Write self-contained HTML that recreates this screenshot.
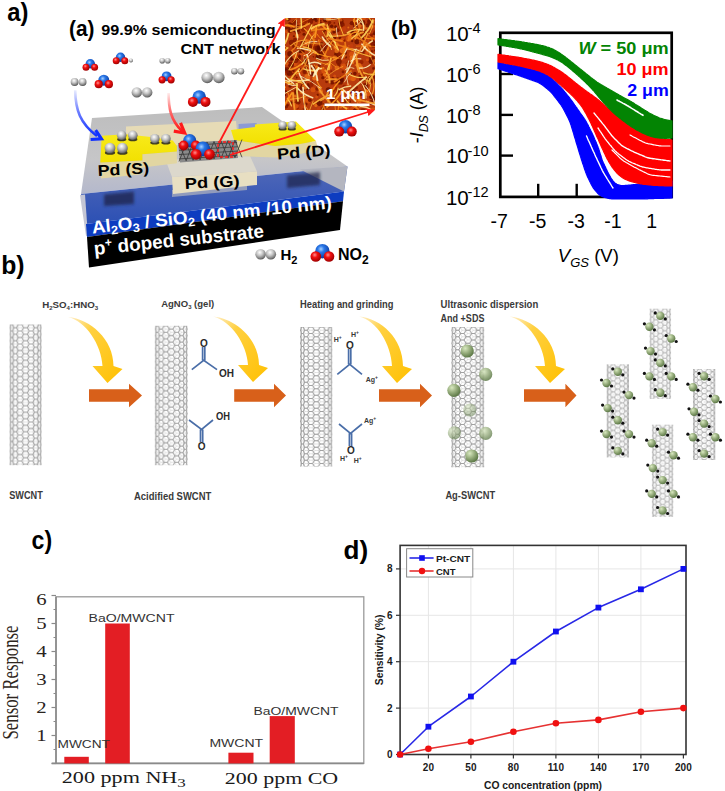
<!DOCTYPE html>
<html><head><meta charset="utf-8"><style>
html,body{margin:0;padding:0;background:#fff;}
body{width:725px;height:791px;overflow:hidden;position:relative;font-family:"Liberation Sans",sans-serif;}
svg{position:absolute;left:0;top:0;}
</style></head><body>
<svg width="725" height="791" viewBox="0 0 725 791">

<defs>
<radialGradient id="gH" cx="0.42" cy="0.32" r="0.68"><stop offset="0" stop-color="#ffffff"/><stop offset="0.45" stop-color="#c4c4c4"/><stop offset="0.85" stop-color="#7a7a7a"/><stop offset="1" stop-color="#505050"/></radialGradient>
<radialGradient id="gN" cx="0.4" cy="0.35" r="0.65"><stop offset="0" stop-color="#a8d0ff"/><stop offset="0.35" stop-color="#2a78e8"/><stop offset="1" stop-color="#0a3aa0"/></radialGradient>
<radialGradient id="gO" cx="0.4" cy="0.35" r="0.65"><stop offset="0" stop-color="#ff9090"/><stop offset="0.4" stop-color="#f01010"/><stop offset="1" stop-color="#a00000"/></radialGradient>
<radialGradient id="gAg" cx="0.35" cy="0.3" r="0.7"><stop offset="0" stop-color="#d8e8c0"/><stop offset="0.5" stop-color="#9ab080"/><stop offset="1" stop-color="#5e7a48"/></radialGradient>
<linearGradient id="gTop" x1="0" y1="0" x2="0" y2="1"><stop offset="0" stop-color="#bdbdbd"/><stop offset="0.6" stop-color="#c6c6c8"/><stop offset="1" stop-color="#b4b8cc"/></linearGradient>
<linearGradient id="gFront" x1="0" y1="0" x2="0" y2="1"><stop offset="0" stop-color="#5068b8"/><stop offset="1" stop-color="#2c50b4"/></linearGradient>
<linearGradient id="gYel" x1="0" y1="0" x2="0" y2="1"><stop offset="0" stop-color="#f8ea1a"/><stop offset="1" stop-color="#f2e000"/></linearGradient>
<linearGradient id="gBlueArr" x1="0" y1="0" x2="0" y2="1"><stop offset="0" stop-color="#e8ecff"/><stop offset="0.45" stop-color="#7080ff"/><stop offset="1" stop-color="#1030ff"/></linearGradient>
<linearGradient id="gRedArr" x1="0" y1="0" x2="0" y2="1"><stop offset="0" stop-color="#ffecec"/><stop offset="0.45" stop-color="#ff7070"/><stop offset="1" stop-color="#ff1a1a"/></linearGradient>
<linearGradient id="gYArr" x1="0" y1="0" x2="1" y2="1"><stop offset="0" stop-color="#fff0d0"/><stop offset="0.3" stop-color="#ffd040"/><stop offset="1" stop-color="#ffc000"/></linearGradient>
<pattern id="hex" width="10.200" height="5.889" patternUnits="userSpaceOnUse">
<path d="M0,2.944 L1.700,0 L5.100,0 L6.800,2.944 L5.100,5.889 L1.700,5.889 Z M6.800,2.944 L10.200,2.944" fill="none" stroke="#7a7a7a" stroke-width="0.55"/>
</pattern>
<pattern id="hexs" width="6.900" height="3.984" patternUnits="userSpaceOnUse">
<path d="M0,1.992 L1.150,0 L3.450,0 L4.600,1.992 L3.450,3.984 L1.150,3.984 Z M4.600,1.992 L6.900,1.992" fill="none" stroke="#7a7a7a" stroke-width="0.45"/>
</pattern>
<linearGradient id="gTubeEdge" x1="0" y1="0" x2="1" y2="0"><stop offset="0" stop-color="#888" stop-opacity="0.45"/><stop offset="0.18" stop-color="#999" stop-opacity="0.12"/><stop offset="0.5" stop-color="#fff" stop-opacity="0"/><stop offset="0.82" stop-color="#999" stop-opacity="0.12"/><stop offset="1" stop-color="#888" stop-opacity="0.45"/></linearGradient>
<marker id="arrR" markerWidth="8" markerHeight="8" refX="6" refY="4" orient="auto" markerUnits="userSpaceOnUse"><path d="M0,0 L8,4 L0,8 Z" fill="#ff1a1a"/></marker>
</defs>

<defs><pattern id="tp0" width="35.300" height="13.000" patternUnits="userSpaceOnUse"><path d="M0.03,0.00L0.71,0.00M0.03,13.00L0.71,13.00M0.03,19.50L0.71,19.50M0.03,6.50L0.71,6.50M0.71,-6.50L0.03,-6.50M0.71,-6.50L1.36,-3.25M0.71,0.00L0.03,0.00M0.71,0.00L1.36,-3.25M0.71,0.00L1.36,3.25M0.71,13.00L0.03,13.00M0.71,13.00L1.36,16.25M0.71,13.00L1.36,9.75M0.71,19.50L1.36,16.25M0.71,6.50L0.03,6.50M0.71,6.50L1.36,3.25M0.71,6.50L1.36,9.75M1.36,-3.25L0.71,-6.50M1.36,-3.25L0.71,0.00M1.36,-3.25L3.25,-3.25M1.36,-9.75L0.71,-6.50M1.36,16.25L0.71,13.00M1.36,16.25L3.25,16.25M1.36,3.25L0.71,0.00M1.36,3.25L0.71,6.50M1.36,3.25L3.25,3.25M1.36,9.75L0.71,13.00M1.36,9.75L0.71,6.50M1.36,9.75L3.25,9.75M12.50,-3.25L14.35,-6.50M12.50,-3.25L14.35,0.00M12.50,-3.25L8.98,-3.25M12.50,-9.75L8.98,-9.75M12.50,16.25L14.35,13.00M12.50,16.25L14.35,19.50M12.50,3.25L14.35,0.00M12.50,3.25L14.35,6.50M12.50,3.25L8.98,3.25M12.50,9.75L14.35,13.00M12.50,9.75L14.35,6.50M12.50,9.75L8.98,9.75M14.35,-6.50L12.50,-3.25M14.35,-6.50L12.50,-9.75M14.35,0.00L12.50,-3.25M14.35,0.00L12.50,3.25M14.35,0.00L18.10,0.00M14.35,13.00L12.50,16.25M14.35,13.00L12.50,9.75M14.35,13.00L18.10,13.00M14.35,19.50L18.10,19.50M14.35,6.50L12.50,3.25M14.35,6.50L12.50,9.75M14.35,6.50L18.10,6.50M18.10,-6.50L14.35,-6.50M18.10,-6.50L19.94,-3.25M18.10,0.00L14.35,0.00M18.10,0.00L19.94,-3.25M18.10,0.00L19.94,3.25M18.10,13.00L14.35,13.00M18.10,13.00L19.94,16.25M18.10,13.00L19.94,9.75M18.10,19.50L19.94,16.25M18.10,6.50L14.35,6.50M18.10,6.50L19.94,3.25M18.10,6.50L19.94,9.75M19.94,-3.25L18.10,-6.50M19.94,-3.25L18.10,0.00M19.94,-3.25L23.45,-3.25M19.94,-9.75L18.10,-6.50M19.94,16.25L18.10,13.00M19.94,16.25L23.45,16.25M19.94,3.25L18.10,0.00M19.94,3.25L18.10,6.50M19.94,3.25L23.45,3.25M19.94,9.75L18.10,13.00M19.94,9.75L18.10,6.50M19.94,9.75L23.45,9.75M23.45,-3.25L19.94,-3.25M23.45,-3.25L25.08,-6.50M23.45,-3.25L25.08,0.00M23.45,-9.75L19.94,-9.75M23.45,16.25L25.08,13.00M23.45,16.25L25.08,19.50M23.45,3.25L19.94,3.25M23.45,3.25L25.08,0.00M23.45,3.25L25.08,6.50M23.45,9.75L19.94,9.75M23.45,9.75L25.08,13.00M23.45,9.75L25.08,6.50M25.08,-6.50L23.45,-3.25M25.08,-6.50L23.45,-9.75M25.08,0.00L23.45,-3.25M25.08,0.00L23.45,3.25M25.08,0.00L27.93,0.00M25.08,13.00L23.45,16.25M25.08,13.00L23.45,9.75M25.08,13.00L27.93,13.00M25.08,19.50L27.93,19.50M25.08,6.50L23.45,3.25M25.08,6.50L23.45,9.75M25.08,6.50L27.93,6.50M27.93,-6.50L25.08,-6.50M27.93,-6.50L29.14,-3.25M27.93,0.00L25.08,0.00M27.93,0.00L29.14,-3.25M27.93,0.00L29.14,3.25M27.93,13.00L25.08,13.00M27.93,13.00L29.14,16.25M27.93,13.00L29.14,9.75M27.93,19.50L29.14,16.25M27.93,6.50L25.08,6.50M27.93,6.50L29.14,3.25M27.93,6.50L29.14,9.75M29.14,-3.25L27.93,-6.50M29.14,-3.25L27.93,0.00M29.14,-3.25L31.00,-3.25M29.14,-9.75L27.93,-6.50M29.14,16.25L27.93,13.00M29.14,16.25L31.00,16.25M29.14,3.25L27.93,0.00M29.14,3.25L27.93,6.50M29.14,3.25L31.00,3.25M29.14,9.75L27.93,13.00M29.14,9.75L27.93,6.50M29.14,9.75L31.00,9.75M3.25,-3.25L1.36,-3.25M3.25,-3.25L4.47,-6.50M3.25,-3.25L4.47,0.00M3.25,-9.75L1.36,-9.75M3.25,16.25L4.47,13.00M3.25,16.25L4.47,19.50M3.25,3.25L1.36,3.25M3.25,3.25L4.47,0.00M3.25,3.25L4.47,6.50M3.25,9.75L1.36,9.75M3.25,9.75L4.47,13.00M3.25,9.75L4.47,6.50M31.00,-3.25L29.14,-3.25M31.00,-3.25L31.63,-6.50M31.00,-3.25L31.63,0.00M31.00,-9.75L29.14,-9.75M31.00,16.25L31.63,13.00M31.00,16.25L31.63,19.50M31.00,3.25L29.14,3.25M31.00,3.25L31.63,0.00M31.00,3.25L31.63,6.50M31.00,9.75L29.14,9.75M31.00,9.75L31.63,13.00M31.00,9.75L31.63,6.50M31.63,-6.50L31.00,-3.25M31.63,-6.50L31.00,-9.75M31.63,0.00L31.00,-3.25M31.63,0.00L31.00,3.25M31.63,0.00L32.27,0.00M31.63,13.00L31.00,16.25M31.63,13.00L31.00,9.75M31.63,13.00L32.27,13.00M31.63,19.50L32.27,19.50M31.63,6.50L31.00,3.25M31.63,6.50L31.00,9.75M31.63,6.50L32.27,6.50M32.27,-6.50L31.63,-6.50M32.27,0.00L31.63,0.00M32.27,13.00L31.63,13.00M32.27,6.50L31.63,6.50M4.47,-6.50L3.25,-3.25M4.47,-6.50L3.25,-9.75M4.47,0.00L3.25,-3.25M4.47,0.00L3.25,3.25M4.47,0.00L7.35,0.00M4.47,13.00L3.25,16.25M4.47,13.00L3.25,9.75M4.47,13.00L7.35,13.00M4.47,19.50L7.35,19.50M4.47,6.50L3.25,3.25M4.47,6.50L3.25,9.75M4.47,6.50L7.35,6.50M7.35,-6.50L4.47,-6.50M7.35,-6.50L8.98,-3.25M7.35,0.00L4.47,0.00M7.35,0.00L8.98,-3.25M7.35,0.00L8.98,3.25M7.35,13.00L4.47,13.00M7.35,13.00L8.98,16.25M7.35,13.00L8.98,9.75M7.35,19.50L8.98,16.25M7.35,6.50L4.47,6.50M7.35,6.50L8.98,3.25M7.35,6.50L8.98,9.75M8.98,-3.25L12.50,-3.25M8.98,-3.25L7.35,-6.50M8.98,-3.25L7.35,0.00M8.98,-9.75L7.35,-6.50M8.98,16.25L12.50,16.25M8.98,16.25L7.35,13.00M8.98,3.25L12.50,3.25M8.98,3.25L7.35,0.00M8.98,3.25L7.35,6.50M8.98,9.75L12.50,9.75M8.98,9.75L7.35,13.00M8.98,9.75L7.35,6.50" stroke="#959595" stroke-width="0.65" fill="none" opacity="0.2"/><path d="M0.03,-3.25L0.69,-3.25M0.03,-9.75L0.69,-9.75M0.03,3.25L0.69,3.25M0.03,9.75L0.69,9.75M0.69,-3.25L0.03,-3.25M0.69,-3.25L1.33,-6.50M0.69,-3.25L1.33,0.00M0.69,-9.75L1.33,-6.50M0.69,16.25L0.03,16.25M0.69,16.25L1.33,13.00M0.69,3.25L0.03,3.25M0.69,3.25L1.33,0.00M0.69,3.25L1.33,6.50M0.69,9.75L0.03,9.75M0.69,9.75L1.33,13.00M0.69,9.75L1.33,6.50M1.33,-6.50L0.69,-3.25M1.33,-6.50L3.21,-6.50M1.33,0.00L0.69,-3.25M1.33,0.00L0.69,3.25M1.33,0.00L3.21,0.00M1.33,13.00L0.69,16.25M1.33,13.00L0.69,9.75M1.33,13.00L3.21,13.00M1.33,19.50L0.69,16.25M1.33,6.50L0.69,3.25M1.33,6.50L0.69,9.75M1.33,6.50L3.21,6.50M12.43,-6.50L14.28,-3.25M12.43,-6.50L14.28,-9.75M12.43,0.00L14.28,-3.25M12.43,0.00L14.28,3.25M12.43,0.00L8.91,0.00M12.43,13.00L14.28,16.25M12.43,13.00L14.28,9.75M12.43,13.00L8.91,13.00M12.43,19.50L8.91,19.50M12.43,6.50L14.28,3.25M12.43,6.50L14.28,9.75M12.43,6.50L8.91,6.50M14.28,-3.25L12.43,-6.50M14.28,-3.25L12.43,0.00M14.28,-3.25L18.02,-3.25M14.28,-9.75L18.02,-9.75M14.28,16.25L12.43,13.00M14.28,16.25L12.43,19.50M14.28,3.25L12.43,0.00M14.28,3.25L12.43,6.50M14.28,3.25L18.02,3.25M14.28,9.75L12.43,13.00M14.28,9.75L12.43,6.50M14.28,9.75L18.02,9.75M18.02,-3.25L14.28,-3.25M18.02,-3.25L19.87,-6.50M18.02,-3.25L19.87,0.00M18.02,-9.75L19.87,-6.50M18.02,16.25L14.28,16.25M18.02,16.25L19.87,13.00M18.02,3.25L14.28,3.25M18.02,3.25L19.87,0.00M18.02,3.25L19.87,6.50M18.02,9.75L14.28,9.75M18.02,9.75L19.87,13.00M18.02,9.75L19.87,6.50M19.87,-6.50L18.02,-3.25M19.87,-6.50L23.39,-6.50M19.87,0.00L18.02,-3.25M19.87,0.00L18.02,3.25M19.87,0.00L23.39,0.00M19.87,13.00L18.02,16.25M19.87,13.00L18.02,9.75M19.87,13.00L23.39,13.00M19.87,19.50L18.02,16.25M19.87,6.50L18.02,3.25M19.87,6.50L18.02,9.75M19.87,6.50L23.39,6.50M23.39,-6.50L25.01,-3.25M23.39,-6.50L25.01,-9.75M23.39,0.00L19.87,0.00M23.39,0.00L25.01,-3.25M23.39,0.00L25.01,3.25M23.39,13.00L19.87,13.00M23.39,13.00L25.01,16.25M23.39,13.00L25.01,9.75M23.39,19.50L19.87,19.50M23.39,6.50L19.87,6.50M23.39,6.50L25.01,3.25M23.39,6.50L25.01,9.75M25.01,-3.25L23.39,-6.50M25.01,-3.25L23.39,0.00M25.01,-3.25L27.88,-3.25M25.01,-9.75L27.88,-9.75M25.01,16.25L23.39,13.00M25.01,16.25L23.39,19.50M25.01,3.25L23.39,0.00M25.01,3.25L23.39,6.50M25.01,3.25L27.88,3.25M25.01,9.75L23.39,13.00M25.01,9.75L23.39,6.50M25.01,9.75L27.88,9.75M27.88,-3.25L25.01,-3.25M27.88,-3.25L29.09,-6.50M27.88,-3.25L29.09,0.00M27.88,-9.75L29.09,-6.50M27.88,16.25L25.01,16.25M27.88,16.25L29.09,13.00M27.88,3.25L25.01,3.25M27.88,3.25L29.09,0.00M27.88,3.25L29.09,6.50M27.88,9.75L25.01,9.75M27.88,9.75L29.09,13.00M27.88,9.75L29.09,6.50M29.09,-6.50L27.88,-3.25M29.09,-6.50L30.97,-6.50M29.09,0.00L27.88,-3.25M29.09,0.00L27.88,3.25M29.09,0.00L30.97,0.00M29.09,13.00L27.88,16.25M29.09,13.00L27.88,9.75M29.09,13.00L30.97,13.00M29.09,19.50L27.88,16.25M29.09,6.50L27.88,3.25M29.09,6.50L27.88,9.75M29.09,6.50L30.97,6.50M3.21,-6.50L4.42,-3.25M3.21,-6.50L4.42,-9.75M3.21,0.00L1.33,0.00M3.21,0.00L4.42,-3.25M3.21,0.00L4.42,3.25M3.21,13.00L1.33,13.00M3.21,13.00L4.42,16.25M3.21,13.00L4.42,9.75M3.21,19.50L1.33,19.50M3.21,6.50L1.33,6.50M3.21,6.50L4.42,3.25M3.21,6.50L4.42,9.75M30.97,-6.50L31.61,-3.25M30.97,-6.50L31.61,-9.75M30.97,0.00L29.09,0.00M30.97,0.00L31.61,-3.25M30.97,0.00L31.61,3.25M30.97,13.00L29.09,13.00M30.97,13.00L31.61,16.25M30.97,13.00L31.61,9.75M30.97,19.50L29.09,19.50M30.97,6.50L29.09,6.50M30.97,6.50L31.61,3.25M30.97,6.50L31.61,9.75M31.61,-3.25L30.97,-6.50M31.61,-3.25L30.97,0.00M31.61,-3.25L32.27,-3.25M31.61,-9.75L32.27,-9.75M31.61,16.25L30.97,13.00M31.61,16.25L30.97,19.50M31.61,3.25L30.97,0.00M31.61,3.25L30.97,6.50M31.61,3.25L32.27,3.25M31.61,9.75L30.97,13.00M31.61,9.75L30.97,6.50M31.61,9.75L32.27,9.75M32.27,-3.25L31.61,-3.25M32.27,16.25L31.61,16.25M32.27,3.25L31.61,3.25M32.27,9.75L31.61,9.75M4.42,-3.25L3.21,-6.50M4.42,-3.25L3.21,0.00M4.42,-3.25L7.29,-3.25M4.42,-9.75L7.29,-9.75M4.42,16.25L3.21,13.00M4.42,16.25L3.21,19.50M4.42,3.25L3.21,0.00M4.42,3.25L3.21,6.50M4.42,3.25L7.29,3.25M4.42,9.75L3.21,13.00M4.42,9.75L3.21,6.50M4.42,9.75L7.29,9.75M7.29,-3.25L4.42,-3.25M7.29,-3.25L8.91,-6.50M7.29,-3.25L8.91,0.00M7.29,-9.75L8.91,-6.50M7.29,16.25L4.42,16.25M7.29,16.25L8.91,13.00M7.29,3.25L4.42,3.25M7.29,3.25L8.91,0.00M7.29,3.25L8.91,6.50M7.29,9.75L4.42,9.75M7.29,9.75L8.91,13.00M7.29,9.75L8.91,6.50M8.91,-6.50L12.43,-6.50M8.91,-6.50L7.29,-3.25M8.91,0.00L12.43,0.00M8.91,0.00L7.29,-3.25M8.91,0.00L7.29,3.25M8.91,13.00L12.43,13.00M8.91,13.00L7.29,16.25M8.91,13.00L7.29,9.75M8.91,19.50L7.29,16.25M8.91,6.50L12.43,6.50M8.91,6.50L7.29,3.25M8.91,6.50L7.29,9.75" stroke="#959595" stroke-width="0.65" fill="none"/></pattern>
<pattern id="tp1" width="36.200" height="13.000" patternUnits="userSpaceOnUse"><path d="M0.05,-3.25L0.30,-6.50M0.05,-3.25L0.30,0.00M0.05,16.25L0.30,13.00M0.05,16.25L0.30,19.50M0.05,3.25L0.30,0.00M0.05,3.25L0.30,6.50M0.05,9.75L0.30,13.00M0.05,9.75L0.30,6.50M0.30,-6.50L0.05,-3.25M0.30,-6.50L0.05,-9.75M0.30,0.00L0.05,-3.25M0.30,0.00L0.05,3.25M0.30,0.00L1.42,0.00M0.30,13.00L0.05,16.25M0.30,13.00L0.05,9.75M0.30,13.00L1.42,13.00M0.30,19.50L1.42,19.50M0.30,6.50L0.05,3.25M0.30,6.50L0.05,9.75M0.30,6.50L1.42,6.50M1.42,-6.50L0.30,-6.50M1.42,-6.50L2.28,-3.25M1.42,0.00L0.30,0.00M1.42,0.00L2.28,-3.25M1.42,0.00L2.28,3.25M1.42,13.00L0.30,13.00M1.42,13.00L2.28,16.25M1.42,13.00L2.28,9.75M1.42,19.50L2.28,16.25M1.42,6.50L0.30,6.50M1.42,6.50L2.28,3.25M1.42,6.50L2.28,9.75M10.71,-3.25L14.34,-3.25M10.71,-3.25L9.00,-6.50M10.71,-3.25L9.00,0.00M10.71,-9.75L9.00,-6.50M10.71,16.25L14.34,16.25M10.71,16.25L9.00,13.00M10.71,3.25L14.34,3.25M10.71,3.25L9.00,0.00M10.71,3.25L9.00,6.50M10.71,9.75L14.34,9.75M10.71,9.75L9.00,13.00M10.71,9.75L9.00,6.50M14.34,-3.25L10.71,-3.25M14.34,-3.25L16.21,-6.50M14.34,-3.25L16.21,0.00M14.34,-9.75L10.71,-9.75M14.34,16.25L16.21,13.00M14.34,16.25L16.21,19.50M14.34,3.25L10.71,3.25M14.34,3.25L16.21,0.00M14.34,3.25L16.21,6.50M14.34,9.75L10.71,9.75M14.34,9.75L16.21,13.00M14.34,9.75L16.21,6.50M16.21,-6.50L14.34,-3.25M16.21,-6.50L14.34,-9.75M16.21,0.00L14.34,-3.25M16.21,0.00L14.34,3.25M16.21,0.00L19.94,0.00M16.21,13.00L14.34,16.25M16.21,13.00L14.34,9.75M16.21,13.00L19.94,13.00M16.21,19.50L19.94,19.50M16.21,6.50L14.34,3.25M16.21,6.50L14.34,9.75M16.21,6.50L19.94,6.50M19.94,-6.50L16.21,-6.50M19.94,-6.50L21.75,-3.25M19.94,0.00L16.21,0.00M19.94,0.00L21.75,-3.25M19.94,0.00L21.75,3.25M19.94,13.00L16.21,13.00M19.94,13.00L21.75,16.25M19.94,13.00L21.75,9.75M19.94,19.50L21.75,16.25M19.94,6.50L16.21,6.50M19.94,6.50L21.75,3.25M19.94,6.50L21.75,9.75M2.28,-3.25L1.42,-6.50M2.28,-3.25L1.42,0.00M2.28,-3.25L4.52,-3.25M2.28,-9.75L1.42,-6.50M2.28,16.25L1.42,13.00M2.28,16.25L4.52,16.25M2.28,3.25L1.42,0.00M2.28,3.25L1.42,6.50M2.28,3.25L4.52,3.25M2.28,9.75L1.42,13.00M2.28,9.75L1.42,6.50M2.28,9.75L4.52,9.75M21.75,-3.25L19.94,-6.50M21.75,-3.25L19.94,0.00M21.75,-3.25L25.16,-3.25M21.75,-9.75L19.94,-6.50M21.75,16.25L19.94,13.00M21.75,16.25L25.16,16.25M21.75,3.25L19.94,0.00M21.75,3.25L19.94,6.50M21.75,3.25L25.16,3.25M21.75,9.75L19.94,13.00M21.75,9.75L19.94,6.50M21.75,9.75L25.16,9.75M25.16,-3.25L21.75,-3.25M25.16,-3.25L26.71,-6.50M25.16,-3.25L26.71,0.00M25.16,-9.75L21.75,-9.75M25.16,16.25L26.71,13.00M25.16,16.25L26.71,19.50M25.16,3.25L21.75,3.25M25.16,3.25L26.71,0.00M25.16,3.25L26.71,6.50M25.16,9.75L21.75,9.75M25.16,9.75L26.71,13.00M25.16,9.75L26.71,6.50M26.71,-6.50L25.16,-3.25M26.71,-6.50L25.16,-9.75M26.71,0.00L25.16,-3.25M26.71,0.00L25.16,3.25M26.71,0.00L29.40,0.00M26.71,13.00L25.16,16.25M26.71,13.00L25.16,9.75M26.71,13.00L29.40,13.00M26.71,19.50L29.40,19.50M26.71,6.50L25.16,3.25M26.71,6.50L25.16,9.75M26.71,6.50L29.40,6.50M29.40,-6.50L26.71,-6.50M29.40,-6.50L30.51,-3.25M29.40,0.00L26.71,0.00M29.40,0.00L30.51,-3.25M29.40,0.00L30.51,3.25M29.40,13.00L26.71,13.00M29.40,13.00L30.51,16.25M29.40,13.00L30.51,9.75M29.40,19.50L30.51,16.25M29.40,6.50L26.71,6.50M29.40,6.50L30.51,3.25M29.40,6.50L30.51,9.75M30.51,-3.25L29.40,-6.50M30.51,-3.25L29.40,0.00M30.51,-3.25L32.19,-3.25M30.51,-9.75L29.40,-6.50M30.51,16.25L29.40,13.00M30.51,16.25L32.19,16.25M30.51,3.25L29.40,0.00M30.51,3.25L29.40,6.50M30.51,3.25L32.19,3.25M30.51,9.75L29.40,13.00M30.51,9.75L29.40,6.50M30.51,9.75L32.19,9.75M32.19,-3.25L30.51,-3.25M32.19,-3.25L32.73,-6.50M32.19,-3.25L32.73,0.00M32.19,-9.75L30.51,-9.75M32.19,16.25L32.73,13.00M32.19,16.25L32.73,19.50M32.19,3.25L30.51,3.25M32.19,3.25L32.73,0.00M32.19,3.25L32.73,6.50M32.19,9.75L30.51,9.75M32.19,9.75L32.73,13.00M32.19,9.75L32.73,6.50M32.73,-6.50L32.19,-3.25M32.73,-6.50L32.19,-9.75M32.73,0.00L32.19,-3.25M32.73,0.00L32.19,3.25M32.73,0.00L33.20,0.00M32.73,13.00L32.19,16.25M32.73,13.00L32.19,9.75M32.73,13.00L33.20,13.00M32.73,19.50L33.20,19.50M32.73,6.50L32.19,3.25M32.73,6.50L32.19,9.75M32.73,6.50L33.20,6.50M33.20,-6.50L32.73,-6.50M33.20,0.00L32.73,0.00M33.20,13.00L32.73,13.00M33.20,6.50L32.73,6.50M4.52,-3.25L2.28,-3.25M4.52,-3.25L5.89,-6.50M4.52,-3.25L5.89,0.00M4.52,-9.75L2.28,-9.75M4.52,16.25L5.89,13.00M4.52,16.25L5.89,19.50M4.52,3.25L2.28,3.25M4.52,3.25L5.89,0.00M4.52,3.25L5.89,6.50M4.52,9.75L2.28,9.75M4.52,9.75L5.89,13.00M4.52,9.75L5.89,6.50M5.89,-6.50L4.52,-3.25M5.89,-6.50L4.52,-9.75M5.89,0.00L4.52,-3.25M5.89,0.00L4.52,3.25M5.89,0.00L9.00,0.00M5.89,13.00L4.52,16.25M5.89,13.00L4.52,9.75M5.89,13.00L9.00,13.00M5.89,19.50L9.00,19.50M5.89,6.50L4.52,3.25M5.89,6.50L4.52,9.75M5.89,6.50L9.00,6.50M9.00,-6.50L10.71,-3.25M9.00,-6.50L5.89,-6.50M9.00,0.00L10.71,-3.25M9.00,0.00L10.71,3.25M9.00,0.00L5.89,0.00M9.00,13.00L10.71,16.25M9.00,13.00L10.71,9.75M9.00,13.00L5.89,13.00M9.00,19.50L10.71,16.25M9.00,6.50L10.71,3.25M9.00,6.50L10.71,9.75M9.00,6.50L5.89,6.50" stroke="#959595" stroke-width="0.65" fill="none" opacity="0.2"/><path d="M0.09,-3.25L0.88,-3.25M0.09,-9.75L0.88,-9.75M0.09,3.25L0.88,3.25M0.09,9.75L0.88,9.75M0.88,-3.25L0.09,-3.25M0.88,-3.25L1.58,-6.50M0.88,-3.25L1.58,0.00M0.88,-9.75L1.58,-6.50M0.88,16.25L0.09,16.25M0.88,16.25L1.58,13.00M0.88,3.25L0.09,3.25M0.88,3.25L1.58,0.00M0.88,3.25L1.58,6.50M0.88,9.75L0.09,9.75M0.88,9.75L1.58,13.00M0.88,9.75L1.58,6.50M1.58,-6.50L0.88,-3.25M1.58,-6.50L3.55,-6.50M1.58,0.00L0.88,-3.25M1.58,0.00L0.88,3.25M1.58,0.00L3.55,0.00M1.58,13.00L0.88,16.25M1.58,13.00L0.88,9.75M1.58,13.00L3.55,13.00M1.58,19.50L0.88,16.25M1.58,6.50L0.88,3.25M1.58,6.50L0.88,9.75M1.58,6.50L3.55,6.50M12.88,-6.50L14.73,-3.25M12.88,-6.50L14.73,-9.75M12.88,0.00L14.73,-3.25M12.88,0.00L14.73,3.25M12.88,0.00L9.35,0.00M12.88,13.00L14.73,16.25M12.88,13.00L14.73,9.75M12.88,13.00L9.35,13.00M12.88,19.50L9.35,19.50M12.88,6.50L14.73,3.25M12.88,6.50L14.73,9.75M12.88,6.50L9.35,6.50M14.73,-3.25L12.88,-6.50M14.73,-3.25L12.88,0.00M14.73,-3.25L18.47,-3.25M14.73,-9.75L18.47,-9.75M14.73,16.25L12.88,13.00M14.73,16.25L12.88,19.50M14.73,3.25L12.88,0.00M14.73,3.25L12.88,6.50M14.73,3.25L18.47,3.25M14.73,9.75L12.88,13.00M14.73,9.75L12.88,6.50M14.73,9.75L18.47,9.75M18.47,-3.25L14.73,-3.25M18.47,-3.25L20.32,-6.50M18.47,-3.25L20.32,0.00M18.47,-9.75L20.32,-6.50M18.47,16.25L14.73,16.25M18.47,16.25L20.32,13.00M18.47,3.25L14.73,3.25M18.47,3.25L20.32,0.00M18.47,3.25L20.32,6.50M18.47,9.75L14.73,9.75M18.47,9.75L20.32,13.00M18.47,9.75L20.32,6.50M20.32,-6.50L18.47,-3.25M20.32,-6.50L23.85,-6.50M20.32,0.00L18.47,-3.25M20.32,0.00L18.47,3.25M20.32,0.00L23.85,0.00M20.32,13.00L18.47,16.25M20.32,13.00L18.47,9.75M20.32,13.00L23.85,13.00M20.32,19.50L18.47,16.25M20.32,6.50L18.47,3.25M20.32,6.50L18.47,9.75M20.32,6.50L23.85,6.50M23.85,-6.50L25.49,-3.25M23.85,-6.50L25.49,-9.75M23.85,0.00L20.32,0.00M23.85,0.00L25.49,-3.25M23.85,0.00L25.49,3.25M23.85,13.00L20.32,13.00M23.85,13.00L25.49,16.25M23.85,13.00L25.49,9.75M23.85,19.50L20.32,19.50M23.85,6.50L20.32,6.50M23.85,6.50L25.49,3.25M23.85,6.50L25.49,9.75M25.49,-3.25L23.85,-6.50M25.49,-3.25L23.85,0.00M25.49,-3.25L28.41,-3.25M25.49,-9.75L28.41,-9.75M25.49,16.25L23.85,13.00M25.49,16.25L23.85,19.50M25.49,3.25L23.85,0.00M25.49,3.25L23.85,6.50M25.49,3.25L28.41,3.25M25.49,9.75L23.85,13.00M25.49,9.75L23.85,6.50M25.49,9.75L28.41,9.75M28.41,-3.25L25.49,-3.25M28.41,-3.25L29.65,-6.50M28.41,-3.25L29.65,0.00M28.41,-9.75L29.65,-6.50M28.41,16.25L25.49,16.25M28.41,16.25L29.65,13.00M28.41,3.25L25.49,3.25M28.41,3.25L29.65,0.00M28.41,3.25L29.65,6.50M28.41,9.75L25.49,9.75M28.41,9.75L29.65,13.00M28.41,9.75L29.65,6.50M29.65,-6.50L28.41,-3.25M29.65,-6.50L31.62,-6.50M29.65,0.00L28.41,-3.25M29.65,0.00L28.41,3.25M29.65,0.00L31.62,0.00M29.65,13.00L28.41,16.25M29.65,13.00L28.41,9.75M29.65,13.00L31.62,13.00M29.65,19.50L28.41,16.25M29.65,6.50L28.41,3.25M29.65,6.50L28.41,9.75M29.65,6.50L31.62,6.50M3.55,-6.50L4.79,-3.25M3.55,-6.50L4.79,-9.75M3.55,0.00L1.58,0.00M3.55,0.00L4.79,-3.25M3.55,0.00L4.79,3.25M3.55,13.00L1.58,13.00M3.55,13.00L4.79,16.25M3.55,13.00L4.79,9.75M3.55,19.50L1.58,19.50M3.55,6.50L1.58,6.50M3.55,6.50L4.79,3.25M3.55,6.50L4.79,9.75M31.62,-6.50L32.32,-3.25M31.62,-6.50L32.32,-9.75M31.62,0.00L29.65,0.00M31.62,0.00L32.32,-3.25M31.62,0.00L32.32,3.25M31.62,13.00L29.65,13.00M31.62,13.00L32.32,16.25M31.62,13.00L32.32,9.75M31.62,19.50L29.65,19.50M31.62,6.50L29.65,6.50M31.62,6.50L32.32,3.25M31.62,6.50L32.32,9.75M32.32,-3.25L31.62,-6.50M32.32,-3.25L31.62,0.00M32.32,-3.25L33.11,-3.25M32.32,-9.75L33.11,-9.75M32.32,16.25L31.62,13.00M32.32,16.25L31.62,19.50M32.32,3.25L31.62,0.00M32.32,3.25L31.62,6.50M32.32,3.25L33.11,3.25M32.32,9.75L31.62,13.00M32.32,9.75L31.62,6.50M32.32,9.75L33.11,9.75M33.11,-3.25L32.32,-3.25M33.11,16.25L32.32,16.25M33.11,3.25L32.32,3.25M33.11,9.75L32.32,9.75M4.79,-3.25L3.55,-6.50M4.79,-3.25L3.55,0.00M4.79,-3.25L7.71,-3.25M4.79,-9.75L7.71,-9.75M4.79,16.25L3.55,13.00M4.79,16.25L3.55,19.50M4.79,3.25L3.55,0.00M4.79,3.25L3.55,6.50M4.79,3.25L7.71,3.25M4.79,9.75L3.55,13.00M4.79,9.75L3.55,6.50M4.79,9.75L7.71,9.75M7.71,-3.25L4.79,-3.25M7.71,-3.25L9.35,-6.50M7.71,-3.25L9.35,0.00M7.71,-9.75L9.35,-6.50M7.71,16.25L4.79,16.25M7.71,16.25L9.35,13.00M7.71,3.25L4.79,3.25M7.71,3.25L9.35,0.00M7.71,3.25L9.35,6.50M7.71,9.75L4.79,9.75M7.71,9.75L9.35,13.00M7.71,9.75L9.35,6.50M9.35,-6.50L12.88,-6.50M9.35,-6.50L7.71,-3.25M9.35,0.00L12.88,0.00M9.35,0.00L7.71,-3.25M9.35,0.00L7.71,3.25M9.35,13.00L12.88,13.00M9.35,13.00L7.71,16.25M9.35,13.00L7.71,9.75M9.35,19.50L7.71,16.25M9.35,6.50L12.88,6.50M9.35,6.50L7.71,3.25M9.35,6.50L7.71,9.75" stroke="#959595" stroke-width="0.65" fill="none"/></pattern>
<pattern id="tp2" width="35.500" height="13.000" patternUnits="userSpaceOnUse"><path d="M0.07,0.00L0.85,0.00M0.07,13.00L0.85,13.00M0.07,19.50L0.85,19.50M0.07,6.50L0.85,6.50M0.85,-6.50L0.07,-6.50M0.85,-6.50L1.55,-3.25M0.85,0.00L0.07,0.00M0.85,0.00L1.55,-3.25M0.85,0.00L1.55,3.25M0.85,13.00L0.07,13.00M0.85,13.00L1.55,16.25M0.85,13.00L1.55,9.75M0.85,19.50L1.55,16.25M0.85,6.50L0.07,6.50M0.85,6.50L1.55,3.25M0.85,6.50L1.55,9.75M1.55,-3.25L0.85,-6.50M1.55,-3.25L0.85,0.00M1.55,-3.25L3.52,-3.25M1.55,-9.75L0.85,-6.50M1.55,16.25L0.85,13.00M1.55,16.25L3.52,16.25M1.55,3.25L0.85,0.00M1.55,3.25L0.85,6.50M1.55,3.25L3.52,3.25M1.55,9.75L0.85,13.00M1.55,9.75L0.85,6.50M1.55,9.75L3.52,9.75M12.91,-3.25L14.76,-6.50M12.91,-3.25L14.76,0.00M12.91,-3.25L9.36,-3.25M12.91,-9.75L9.36,-9.75M12.91,16.25L14.76,13.00M12.91,16.25L14.76,19.50M12.91,3.25L14.76,0.00M12.91,3.25L14.76,6.50M12.91,3.25L9.36,3.25M12.91,9.75L14.76,13.00M12.91,9.75L14.76,6.50M12.91,9.75L9.36,9.75M14.76,-6.50L12.91,-3.25M14.76,-6.50L12.91,-9.75M14.76,0.00L12.91,-3.25M14.76,0.00L12.91,3.25M14.76,0.00L18.51,0.00M14.76,13.00L12.91,16.25M14.76,13.00L12.91,9.75M14.76,13.00L18.51,13.00M14.76,19.50L18.51,19.50M14.76,6.50L12.91,3.25M14.76,6.50L12.91,9.75M14.76,6.50L18.51,6.50M18.51,-6.50L14.76,-6.50M18.51,-6.50L20.35,-3.25M18.51,0.00L14.76,0.00M18.51,0.00L20.35,-3.25M18.51,0.00L20.35,3.25M18.51,13.00L14.76,13.00M18.51,13.00L20.35,16.25M18.51,13.00L20.35,9.75M18.51,19.50L20.35,16.25M18.51,6.50L14.76,6.50M18.51,6.50L20.35,3.25M18.51,6.50L20.35,9.75M20.35,-3.25L18.51,-6.50M20.35,-3.25L18.51,0.00M20.35,-3.25L23.84,-3.25M20.35,-9.75L18.51,-6.50M20.35,16.25L18.51,13.00M20.35,16.25L23.84,16.25M20.35,3.25L18.51,0.00M20.35,3.25L18.51,6.50M20.35,3.25L23.84,3.25M20.35,9.75L18.51,13.00M20.35,9.75L18.51,6.50M20.35,9.75L23.84,9.75M23.84,-3.25L20.35,-3.25M23.84,-3.25L25.44,-6.50M23.84,-3.25L25.44,0.00M23.84,-9.75L20.35,-9.75M23.84,16.25L25.44,13.00M23.84,16.25L25.44,19.50M23.84,3.25L20.35,3.25M23.84,3.25L25.44,0.00M23.84,3.25L25.44,6.50M23.84,9.75L20.35,9.75M23.84,9.75L25.44,13.00M23.84,9.75L25.44,6.50M25.44,-6.50L23.84,-3.25M25.44,-6.50L23.84,-9.75M25.44,0.00L23.84,-3.25M25.44,0.00L23.84,3.25M25.44,0.00L28.27,0.00M25.44,13.00L23.84,16.25M25.44,13.00L23.84,9.75M25.44,13.00L28.27,13.00M25.44,19.50L28.27,19.50M25.44,6.50L23.84,3.25M25.44,6.50L23.84,9.75M25.44,6.50L28.27,6.50M28.27,-6.50L25.44,-6.50M28.27,-6.50L29.45,-3.25M28.27,0.00L25.44,0.00M28.27,0.00L29.45,-3.25M28.27,0.00L29.45,3.25M28.27,13.00L25.44,13.00M28.27,13.00L29.45,16.25M28.27,13.00L29.45,9.75M28.27,19.50L29.45,16.25M28.27,6.50L25.44,6.50M28.27,6.50L29.45,3.25M28.27,6.50L29.45,9.75M29.45,-3.25L28.27,-6.50M29.45,-3.25L28.27,0.00M29.45,-3.25L31.27,-3.25M29.45,-9.75L28.27,-6.50M29.45,16.25L28.27,13.00M29.45,16.25L31.27,16.25M29.45,3.25L28.27,0.00M29.45,3.25L28.27,6.50M29.45,3.25L31.27,3.25M29.45,9.75L28.27,13.00M29.45,9.75L28.27,6.50M29.45,9.75L31.27,9.75M3.52,-3.25L1.55,-3.25M3.52,-3.25L4.77,-6.50M3.52,-3.25L4.77,0.00M3.52,-9.75L1.55,-9.75M3.52,16.25L4.77,13.00M3.52,16.25L4.77,19.50M3.52,3.25L1.55,3.25M3.52,3.25L4.77,0.00M3.52,3.25L4.77,6.50M3.52,9.75L1.55,9.75M3.52,9.75L4.77,13.00M3.52,9.75L4.77,6.50M31.27,-3.25L29.45,-3.25M31.27,-3.25L31.88,-6.50M31.27,-3.25L31.88,0.00M31.27,-9.75L29.45,-9.75M31.27,16.25L31.88,13.00M31.27,16.25L31.88,19.50M31.27,3.25L29.45,3.25M31.27,3.25L31.88,0.00M31.27,3.25L31.88,6.50M31.27,9.75L29.45,9.75M31.27,9.75L31.88,13.00M31.27,9.75L31.88,6.50M31.88,-6.50L31.27,-3.25M31.88,-6.50L31.27,-9.75M31.88,0.00L31.27,-3.25M31.88,0.00L31.27,3.25M31.88,0.00L32.48,0.00M31.88,13.00L31.27,16.25M31.88,13.00L31.27,9.75M31.88,13.00L32.48,13.00M31.88,19.50L32.48,19.50M31.88,6.50L31.27,3.25M31.88,6.50L31.27,9.75M31.88,6.50L32.48,6.50M32.48,-6.50L31.88,-6.50M32.48,0.00L31.88,0.00M32.48,13.00L31.88,13.00M32.48,6.50L31.88,6.50M4.77,-6.50L3.52,-3.25M4.77,-6.50L3.52,-9.75M4.77,0.00L3.52,-3.25M4.77,0.00L3.52,3.25M4.77,0.00L7.71,0.00M4.77,13.00L3.52,16.25M4.77,13.00L3.52,9.75M4.77,13.00L7.71,13.00M4.77,19.50L7.71,19.50M4.77,6.50L3.52,3.25M4.77,6.50L3.52,9.75M4.77,6.50L7.71,6.50M7.71,-6.50L4.77,-6.50M7.71,-6.50L9.36,-3.25M7.71,0.00L4.77,0.00M7.71,0.00L9.36,-3.25M7.71,0.00L9.36,3.25M7.71,13.00L4.77,13.00M7.71,13.00L9.36,16.25M7.71,13.00L9.36,9.75M7.71,19.50L9.36,16.25M7.71,6.50L4.77,6.50M7.71,6.50L9.36,3.25M7.71,6.50L9.36,9.75M9.36,-3.25L12.91,-3.25M9.36,-3.25L7.71,-6.50M9.36,-3.25L7.71,0.00M9.36,-9.75L7.71,-6.50M9.36,16.25L12.91,16.25M9.36,16.25L7.71,13.00M9.36,3.25L12.91,3.25M9.36,3.25L7.71,0.00M9.36,3.25L7.71,6.50M9.36,9.75L12.91,9.75M9.36,9.75L7.71,13.00M9.36,9.75L7.71,6.50" stroke="#959595" stroke-width="0.65" fill="none" opacity="0.2"/><path d="M0.04,-3.25L0.73,-3.25M0.04,-9.75L0.73,-9.75M0.04,3.25L0.73,3.25M0.04,9.75L0.73,9.75M0.73,-3.25L0.04,-3.25M0.73,-3.25L1.39,-6.50M0.73,-3.25L1.39,0.00M0.73,-9.75L1.39,-6.50M0.73,16.25L0.04,16.25M0.73,16.25L1.39,13.00M0.73,3.25L0.04,3.25M0.73,3.25L1.39,0.00M0.73,3.25L1.39,6.50M0.73,9.75L0.04,9.75M0.73,9.75L1.39,13.00M0.73,9.75L1.39,6.50M1.39,-6.50L0.73,-3.25M1.39,-6.50L3.28,-6.50M1.39,0.00L0.73,-3.25M1.39,0.00L0.73,3.25M1.39,0.00L3.28,0.00M1.39,13.00L0.73,16.25M1.39,13.00L0.73,9.75M1.39,13.00L3.28,13.00M1.39,19.50L0.73,16.25M1.39,6.50L0.73,3.25M1.39,6.50L0.73,9.75M1.39,6.50L3.28,6.50M12.53,-6.50L14.38,-3.25M12.53,-6.50L14.38,-9.75M12.53,0.00L14.38,-3.25M12.53,0.00L14.38,3.25M12.53,0.00L9.01,0.00M12.53,13.00L14.38,16.25M12.53,13.00L14.38,9.75M12.53,13.00L9.01,13.00M12.53,19.50L9.01,19.50M12.53,6.50L14.38,3.25M12.53,6.50L14.38,9.75M12.53,6.50L9.01,6.50M14.38,-3.25L12.53,-6.50M14.38,-3.25L12.53,0.00M14.38,-3.25L18.12,-3.25M14.38,-9.75L18.12,-9.75M14.38,16.25L12.53,13.00M14.38,16.25L12.53,19.50M14.38,3.25L12.53,0.00M14.38,3.25L12.53,6.50M14.38,3.25L18.12,3.25M14.38,9.75L12.53,13.00M14.38,9.75L12.53,6.50M14.38,9.75L18.12,9.75M18.12,-3.25L14.38,-3.25M18.12,-3.25L19.97,-6.50M18.12,-3.25L19.97,0.00M18.12,-9.75L19.97,-6.50M18.12,16.25L14.38,16.25M18.12,16.25L19.97,13.00M18.12,3.25L14.38,3.25M18.12,3.25L19.97,0.00M18.12,3.25L19.97,6.50M18.12,9.75L14.38,9.75M18.12,9.75L19.97,13.00M18.12,9.75L19.97,6.50M19.97,-6.50L18.12,-3.25M19.97,-6.50L23.49,-6.50M19.97,0.00L18.12,-3.25M19.97,0.00L18.12,3.25M19.97,0.00L23.49,0.00M19.97,13.00L18.12,16.25M19.97,13.00L18.12,9.75M19.97,13.00L23.49,13.00M19.97,19.50L18.12,16.25M19.97,6.50L18.12,3.25M19.97,6.50L18.12,9.75M19.97,6.50L23.49,6.50M23.49,-6.50L25.12,-3.25M23.49,-6.50L25.12,-9.75M23.49,0.00L19.97,0.00M23.49,0.00L25.12,-3.25M23.49,0.00L25.12,3.25M23.49,13.00L19.97,13.00M23.49,13.00L25.12,16.25M23.49,13.00L25.12,9.75M23.49,19.50L19.97,19.50M23.49,6.50L19.97,6.50M23.49,6.50L25.12,3.25M23.49,6.50L25.12,9.75M25.12,-3.25L23.49,-6.50M25.12,-3.25L23.49,0.00M25.12,-3.25L28.00,-3.25M25.12,-9.75L28.00,-9.75M25.12,16.25L23.49,13.00M25.12,16.25L23.49,19.50M25.12,3.25L23.49,0.00M25.12,3.25L23.49,6.50M25.12,3.25L28.00,3.25M25.12,9.75L23.49,13.00M25.12,9.75L23.49,6.50M25.12,9.75L28.00,9.75M28.00,-3.25L25.12,-3.25M28.00,-3.25L29.22,-6.50M28.00,-3.25L29.22,0.00M28.00,-9.75L29.22,-6.50M28.00,16.25L25.12,16.25M28.00,16.25L29.22,13.00M28.00,3.25L25.12,3.25M28.00,3.25L29.22,0.00M28.00,3.25L29.22,6.50M28.00,9.75L25.12,9.75M28.00,9.75L29.22,13.00M28.00,9.75L29.22,6.50M29.22,-6.50L28.00,-3.25M29.22,-6.50L31.11,-6.50M29.22,0.00L28.00,-3.25M29.22,0.00L28.00,3.25M29.22,0.00L31.11,0.00M29.22,13.00L28.00,16.25M29.22,13.00L28.00,9.75M29.22,13.00L31.11,13.00M29.22,19.50L28.00,16.25M29.22,6.50L28.00,3.25M29.22,6.50L28.00,9.75M29.22,6.50L31.11,6.50M3.28,-6.50L4.50,-3.25M3.28,-6.50L4.50,-9.75M3.28,0.00L1.39,0.00M3.28,0.00L4.50,-3.25M3.28,0.00L4.50,3.25M3.28,13.00L1.39,13.00M3.28,13.00L4.50,16.25M3.28,13.00L4.50,9.75M3.28,19.50L1.39,19.50M3.28,6.50L1.39,6.50M3.28,6.50L4.50,3.25M3.28,6.50L4.50,9.75M31.11,-6.50L31.77,-3.25M31.11,-6.50L31.77,-9.75M31.11,0.00L29.22,0.00M31.11,0.00L31.77,-3.25M31.11,0.00L31.77,3.25M31.11,13.00L29.22,13.00M31.11,13.00L31.77,16.25M31.11,13.00L31.77,9.75M31.11,19.50L29.22,19.50M31.11,6.50L29.22,6.50M31.11,6.50L31.77,3.25M31.11,6.50L31.77,9.75M31.77,-3.25L31.11,-6.50M31.77,-3.25L31.11,0.00M31.77,-3.25L32.46,-3.25M31.77,-9.75L32.46,-9.75M31.77,16.25L31.11,13.00M31.77,16.25L31.11,19.50M31.77,3.25L31.11,0.00M31.77,3.25L31.11,6.50M31.77,3.25L32.46,3.25M31.77,9.75L31.11,13.00M31.77,9.75L31.11,6.50M31.77,9.75L32.46,9.75M32.46,-3.25L31.77,-3.25M32.46,16.25L31.77,16.25M32.46,3.25L31.77,3.25M32.46,9.75L31.77,9.75M4.50,-3.25L3.28,-6.50M4.50,-3.25L3.28,0.00M4.50,-3.25L7.38,-3.25M4.50,-9.75L7.38,-9.75M4.50,16.25L3.28,13.00M4.50,16.25L3.28,19.50M4.50,3.25L3.28,0.00M4.50,3.25L3.28,6.50M4.50,3.25L7.38,3.25M4.50,9.75L3.28,13.00M4.50,9.75L3.28,6.50M4.50,9.75L7.38,9.75M7.38,-3.25L4.50,-3.25M7.38,-3.25L9.01,-6.50M7.38,-3.25L9.01,0.00M7.38,-9.75L9.01,-6.50M7.38,16.25L4.50,16.25M7.38,16.25L9.01,13.00M7.38,3.25L4.50,3.25M7.38,3.25L9.01,0.00M7.38,3.25L9.01,6.50M7.38,9.75L4.50,9.75M7.38,9.75L9.01,13.00M7.38,9.75L9.01,6.50M9.01,-6.50L12.53,-6.50M9.01,-6.50L7.38,-3.25M9.01,0.00L12.53,0.00M9.01,0.00L7.38,-3.25M9.01,0.00L7.38,3.25M9.01,13.00L12.53,13.00M9.01,13.00L7.38,16.25M9.01,13.00L7.38,9.75M9.01,19.50L7.38,16.25M9.01,6.50L12.53,6.50M9.01,6.50L7.38,3.25M9.01,6.50L7.38,9.75" stroke="#959595" stroke-width="0.65" fill="none"/></pattern>
<pattern id="tp3" width="24.800" height="11.000" patternUnits="userSpaceOnUse"><path d="M0.01,-5.50L0.21,-2.75M0.01,0.00L0.21,-2.75M0.01,0.00L0.21,2.75M0.01,11.00L0.21,13.75M0.01,11.00L0.21,8.25M0.01,16.50L0.21,13.75M0.01,5.50L0.21,2.75M0.01,5.50L0.21,8.25M0.21,-2.75L0.01,-5.50M0.21,-2.75L0.01,0.00M0.21,-2.75L1.27,-2.75M0.21,-8.25L0.01,-5.50M0.21,13.75L0.01,11.00M0.21,13.75L1.27,13.75M0.21,2.75L0.01,0.00M0.21,2.75L0.01,5.50M0.21,2.75L1.27,2.75M0.21,8.25L0.01,11.00M0.21,8.25L0.01,5.50M0.21,8.25L1.27,8.25M1.27,-2.75L0.21,-2.75M1.27,-2.75L2.12,-5.50M1.27,-2.75L2.12,0.00M1.27,-8.25L0.21,-8.25M1.27,13.75L2.12,11.00M1.27,13.75L2.12,16.50M1.27,2.75L0.21,2.75M1.27,2.75L2.12,0.00M1.27,2.75L2.12,5.50M1.27,8.25L0.21,8.25M1.27,8.25L2.12,11.00M1.27,8.25L2.12,5.50M10.21,-5.50L8.64,-2.75M10.21,-5.50L8.64,-8.25M10.21,0.00L13.37,0.00M10.21,0.00L8.64,-2.75M10.21,0.00L8.64,2.75M10.21,11.00L13.37,11.00M10.21,11.00L8.64,13.75M10.21,11.00L8.64,8.25M10.21,16.50L13.37,16.50M10.21,5.50L13.37,5.50M10.21,5.50L8.64,2.75M10.21,5.50L8.64,8.25M13.37,-5.50L10.21,-5.50M13.37,-5.50L14.88,-2.75M13.37,0.00L10.21,0.00M13.37,0.00L14.88,-2.75M13.37,0.00L14.88,2.75M13.37,11.00L10.21,11.00M13.37,11.00L14.88,13.75M13.37,11.00L14.88,8.25M13.37,16.50L14.88,13.75M13.37,5.50L10.21,5.50M13.37,5.50L14.88,2.75M13.37,5.50L14.88,8.25M14.88,-2.75L13.37,-5.50M14.88,-2.75L13.37,0.00M14.88,-2.75L17.63,-2.75M14.88,-8.25L13.37,-5.50M14.88,13.75L13.37,11.00M14.88,13.75L17.63,13.75M14.88,2.75L13.37,0.00M14.88,2.75L13.37,5.50M14.88,2.75L17.63,2.75M14.88,8.25L13.37,11.00M14.88,8.25L13.37,5.50M14.88,8.25L17.63,8.25M17.63,-2.75L14.88,-2.75M17.63,-2.75L18.80,-5.50M17.63,-2.75L18.80,0.00M17.63,-8.25L14.88,-8.25M17.63,13.75L18.80,11.00M17.63,13.75L18.80,16.50M17.63,2.75L14.88,2.75M17.63,2.75L18.80,0.00M17.63,2.75L18.80,5.50M17.63,8.25L14.88,8.25M17.63,8.25L18.80,11.00M17.63,8.25L18.80,5.50M18.80,-5.50L17.63,-2.75M18.80,-5.50L17.63,-8.25M18.80,0.00L17.63,-2.75M18.80,0.00L17.63,2.75M18.80,0.00L20.63,0.00M18.80,11.00L17.63,13.75M18.80,11.00L17.63,8.25M18.80,11.00L20.63,11.00M18.80,16.50L20.63,16.50M18.80,5.50L17.63,2.75M18.80,5.50L17.63,8.25M18.80,5.50L20.63,5.50M2.12,-5.50L1.27,-2.75M2.12,-5.50L1.27,-8.25M2.12,0.00L1.27,-2.75M2.12,0.00L1.27,2.75M2.12,0.00L4.34,0.00M2.12,11.00L1.27,13.75M2.12,11.00L1.27,8.25M2.12,11.00L4.34,11.00M2.12,16.50L4.34,16.50M2.12,5.50L1.27,2.75M2.12,5.50L1.27,8.25M2.12,5.50L4.34,5.50M20.63,-5.50L18.80,-5.50M20.63,-5.50L21.24,-2.75M20.63,0.00L18.80,0.00M20.63,0.00L21.24,-2.75M20.63,0.00L21.24,2.75M20.63,11.00L18.80,11.00M20.63,11.00L21.24,13.75M20.63,11.00L21.24,8.25M20.63,16.50L21.24,13.75M20.63,5.50L18.80,5.50M20.63,5.50L21.24,2.75M20.63,5.50L21.24,8.25M21.24,-2.75L20.63,-5.50M21.24,-2.75L20.63,0.00M21.24,-2.75L21.79,-2.75M21.24,-8.25L20.63,-5.50M21.24,13.75L20.63,11.00M21.24,13.75L21.79,13.75M21.24,2.75L20.63,0.00M21.24,2.75L20.63,5.50M21.24,2.75L21.79,2.75M21.24,8.25L20.63,11.00M21.24,8.25L20.63,5.50M21.24,8.25L21.79,8.25M21.79,-2.75L21.24,-2.75M21.79,-8.25L21.24,-8.25M21.79,2.75L21.24,2.75M21.79,8.25L21.24,8.25M4.34,-5.50L2.12,-5.50M4.34,-5.50L5.67,-2.75M4.34,0.00L2.12,0.00M4.34,0.00L5.67,-2.75M4.34,0.00L5.67,2.75M4.34,11.00L2.12,11.00M4.34,11.00L5.67,13.75M4.34,11.00L5.67,8.25M4.34,16.50L5.67,13.75M4.34,5.50L2.12,5.50M4.34,5.50L5.67,2.75M4.34,5.50L5.67,8.25M5.67,-2.75L4.34,-5.50M5.67,-2.75L4.34,0.00M5.67,-2.75L8.64,-2.75M5.67,-8.25L4.34,-5.50M5.67,13.75L4.34,11.00M5.67,13.75L8.64,13.75M5.67,2.75L4.34,0.00M5.67,2.75L4.34,5.50M5.67,2.75L8.64,2.75M5.67,8.25L4.34,11.00M5.67,8.25L4.34,5.50M5.67,8.25L8.64,8.25M8.64,-2.75L10.21,-5.50M8.64,-2.75L10.21,0.00M8.64,-2.75L5.67,-2.75M8.64,-8.25L5.67,-8.25M8.64,13.75L10.21,11.00M8.64,13.75L10.21,16.50M8.64,2.75L10.21,0.00M8.64,2.75L10.21,5.50M8.64,2.75L5.67,2.75M8.64,8.25L10.21,11.00M8.64,8.25L10.21,5.50M8.64,8.25L5.67,8.25" stroke="#9a9a9a" stroke-width="0.5" fill="none" opacity="0.2"/><path d="M0.07,-5.50L0.88,-5.50M0.07,0.00L0.88,0.00M0.07,11.00L0.88,11.00M0.07,5.50L0.88,5.50M0.88,-5.50L1.61,-2.75M0.88,-5.50L1.61,-8.25M0.88,0.00L0.07,0.00M0.88,0.00L1.61,-2.75M0.88,0.00L1.61,2.75M0.88,11.00L0.07,11.00M0.88,11.00L1.61,13.75M0.88,11.00L1.61,8.25M0.88,16.50L0.07,16.50M0.88,5.50L0.07,5.50M0.88,5.50L1.61,2.75M0.88,5.50L1.61,8.25M1.61,-2.75L0.88,-5.50M1.61,-2.75L0.88,0.00M1.61,-2.75L3.64,-2.75M1.61,-8.25L3.64,-8.25M1.61,13.75L0.88,11.00M1.61,13.75L0.88,16.50M1.61,2.75L0.88,0.00M1.61,2.75L0.88,5.50M1.61,2.75L3.64,2.75M1.61,8.25L0.88,11.00M1.61,8.25L0.88,5.50M1.61,8.25L3.64,8.25M12.48,-2.75L14.03,-5.50M12.48,-2.75L14.03,0.00M12.48,-2.75L9.32,-2.75M12.48,-8.25L14.03,-5.50M12.48,13.75L14.03,11.00M12.48,13.75L9.32,13.75M12.48,2.75L14.03,0.00M12.48,2.75L14.03,5.50M12.48,2.75L9.32,2.75M12.48,8.25L14.03,11.00M12.48,8.25L14.03,5.50M12.48,8.25L9.32,8.25M14.03,-5.50L12.48,-2.75M14.03,-5.50L16.90,-5.50M14.03,0.00L12.48,-2.75M14.03,0.00L12.48,2.75M14.03,0.00L16.90,0.00M14.03,11.00L12.48,13.75M14.03,11.00L12.48,8.25M14.03,11.00L16.90,11.00M14.03,16.50L12.48,13.75M14.03,5.50L12.48,2.75M14.03,5.50L12.48,8.25M14.03,5.50L16.90,5.50M16.90,-5.50L18.16,-2.75M16.90,-5.50L18.16,-8.25M16.90,0.00L14.03,0.00M16.90,0.00L18.16,-2.75M16.90,0.00L18.16,2.75M16.90,11.00L14.03,11.00M16.90,11.00L18.16,13.75M16.90,11.00L18.16,8.25M16.90,16.50L14.03,16.50M16.90,5.50L14.03,5.50M16.90,5.50L18.16,2.75M16.90,5.50L18.16,8.25M18.16,-2.75L16.90,-5.50M18.16,-2.75L16.90,0.00M18.16,-2.75L20.19,-2.75M18.16,-8.25L20.19,-8.25M18.16,13.75L16.90,11.00M18.16,13.75L16.90,16.50M18.16,2.75L16.90,0.00M18.16,2.75L16.90,5.50M18.16,2.75L20.19,2.75M18.16,8.25L16.90,11.00M18.16,8.25L16.90,5.50M18.16,8.25L20.19,8.25M20.19,-2.75L18.16,-2.75M20.19,-2.75L20.92,-5.50M20.19,-2.75L20.92,0.00M20.19,-8.25L20.92,-5.50M20.19,13.75L18.16,13.75M20.19,13.75L20.92,11.00M20.19,2.75L18.16,2.75M20.19,2.75L20.92,0.00M20.19,2.75L20.92,5.50M20.19,8.25L18.16,8.25M20.19,8.25L20.92,11.00M20.19,8.25L20.92,5.50M20.92,-5.50L20.19,-2.75M20.92,-5.50L21.73,-5.50M20.92,0.00L20.19,-2.75M20.92,0.00L20.19,2.75M20.92,0.00L21.73,0.00M20.92,11.00L20.19,13.75M20.92,11.00L20.19,8.25M20.92,11.00L21.73,11.00M20.92,16.50L20.19,13.75M20.92,5.50L20.19,2.75M20.92,5.50L20.19,8.25M20.92,5.50L21.73,5.50M21.73,0.00L20.92,0.00M21.73,11.00L20.92,11.00M21.73,16.50L20.92,16.50M21.73,5.50L20.92,5.50M3.64,-2.75L1.61,-2.75M3.64,-2.75L4.90,-5.50M3.64,-2.75L4.90,0.00M3.64,-8.25L4.90,-5.50M3.64,13.75L1.61,13.75M3.64,13.75L4.90,11.00M3.64,2.75L1.61,2.75M3.64,2.75L4.90,0.00M3.64,2.75L4.90,5.50M3.64,8.25L1.61,8.25M3.64,8.25L4.90,11.00M3.64,8.25L4.90,5.50M4.90,-5.50L3.64,-2.75M4.90,-5.50L7.77,-5.50M4.90,0.00L3.64,-2.75M4.90,0.00L3.64,2.75M4.90,0.00L7.77,0.00M4.90,11.00L3.64,13.75M4.90,11.00L3.64,8.25M4.90,11.00L7.77,11.00M4.90,16.50L3.64,13.75M4.90,5.50L3.64,2.75M4.90,5.50L3.64,8.25M4.90,5.50L7.77,5.50M7.77,-5.50L9.32,-2.75M7.77,-5.50L9.32,-8.25M7.77,0.00L4.90,0.00M7.77,0.00L9.32,-2.75M7.77,0.00L9.32,2.75M7.77,11.00L4.90,11.00M7.77,11.00L9.32,13.75M7.77,11.00L9.32,8.25M7.77,16.50L4.90,16.50M7.77,5.50L4.90,5.50M7.77,5.50L9.32,2.75M7.77,5.50L9.32,8.25M9.32,-2.75L12.48,-2.75M9.32,-2.75L7.77,-5.50M9.32,-2.75L7.77,0.00M9.32,-8.25L12.48,-8.25M9.32,13.75L7.77,11.00M9.32,13.75L7.77,16.50M9.32,2.75L12.48,2.75M9.32,2.75L7.77,0.00M9.32,2.75L7.77,5.50M9.32,8.25L12.48,8.25M9.32,8.25L7.77,11.00M9.32,8.25L7.77,5.50" stroke="#9a9a9a" stroke-width="0.5" fill="none"/></pattern>
<pattern id="tp4" width="25.500" height="11.000" patternUnits="userSpaceOnUse"><path d="M0.22,-5.50L0.63,-2.75M0.22,0.00L0.63,-2.75M0.22,0.00L0.63,2.75M0.22,11.00L0.63,13.75M0.22,11.00L0.63,8.25M0.22,16.50L0.63,13.75M0.22,5.50L0.63,2.75M0.22,5.50L0.63,8.25M0.63,-2.75L0.22,-5.50M0.63,-2.75L0.22,0.00M0.63,-2.75L2.09,-2.75M0.63,-8.25L0.22,-5.50M0.63,13.75L0.22,11.00M0.63,13.75L2.09,13.75M0.63,2.75L0.22,0.00M0.63,2.75L0.22,5.50M0.63,2.75L2.09,2.75M0.63,8.25L0.22,11.00M0.63,8.25L0.22,5.50M0.63,8.25L2.09,8.25M10.08,-2.75L11.66,-5.50M10.08,-2.75L11.66,0.00M10.08,-2.75L7.01,-2.75M10.08,-8.25L7.01,-8.25M10.08,13.75L11.66,11.00M10.08,13.75L11.66,16.50M10.08,2.75L11.66,0.00M10.08,2.75L11.66,5.50M10.08,2.75L7.01,2.75M10.08,8.25L11.66,11.00M10.08,8.25L11.66,5.50M10.08,8.25L7.01,8.25M11.66,-5.50L10.08,-2.75M11.66,-5.50L10.08,-8.25M11.66,0.00L10.08,-2.75M11.66,0.00L10.08,2.75M11.66,0.00L14.78,0.00M11.66,11.00L10.08,13.75M11.66,11.00L10.08,8.25M11.66,11.00L14.78,11.00M11.66,16.50L14.78,16.50M11.66,5.50L10.08,2.75M11.66,5.50L10.08,8.25M11.66,5.50L14.78,5.50M14.78,-5.50L11.66,-5.50M14.78,-5.50L16.25,-2.75M14.78,0.00L11.66,0.00M14.78,0.00L16.25,-2.75M14.78,0.00L16.25,2.75M14.78,11.00L11.66,11.00M14.78,11.00L16.25,13.75M14.78,11.00L16.25,8.25M14.78,16.50L16.25,13.75M14.78,5.50L11.66,5.50M14.78,5.50L16.25,2.75M14.78,5.50L16.25,8.25M16.25,-2.75L14.78,-5.50M16.25,-2.75L14.78,0.00M16.25,-2.75L18.86,-2.75M16.25,-8.25L14.78,-5.50M16.25,13.75L14.78,11.00M16.25,13.75L18.86,13.75M16.25,2.75L14.78,0.00M16.25,2.75L14.78,5.50M16.25,2.75L18.86,2.75M16.25,8.25L14.78,11.00M16.25,8.25L14.78,5.50M16.25,8.25L18.86,8.25M18.86,-2.75L16.25,-2.75M18.86,-2.75L19.95,-5.50M18.86,-2.75L19.95,0.00M18.86,-8.25L16.25,-8.25M18.86,13.75L19.95,11.00M18.86,13.75L19.95,16.50M18.86,2.75L16.25,2.75M18.86,2.75L19.95,0.00M18.86,2.75L19.95,5.50M18.86,8.25L16.25,8.25M18.86,8.25L19.95,11.00M18.86,8.25L19.95,5.50M19.95,-5.50L18.86,-2.75M19.95,-5.50L18.86,-8.25M19.95,0.00L18.86,-2.75M19.95,0.00L18.86,2.75M19.95,0.00L21.59,0.00M19.95,11.00L18.86,13.75M19.95,11.00L18.86,8.25M19.95,11.00L21.59,11.00M19.95,16.50L21.59,16.50M19.95,5.50L18.86,2.75M19.95,5.50L18.86,8.25M19.95,5.50L21.59,5.50M2.09,-2.75L0.63,-2.75M2.09,-2.75L3.10,-5.50M2.09,-2.75L3.10,0.00M2.09,-8.25L0.63,-8.25M2.09,13.75L3.10,11.00M2.09,13.75L3.10,16.50M2.09,2.75L0.63,2.75M2.09,2.75L3.10,0.00M2.09,2.75L3.10,5.50M2.09,8.25L0.63,8.25M2.09,8.25L3.10,11.00M2.09,8.25L3.10,5.50M21.59,-5.50L19.95,-5.50M21.59,-5.50L22.11,-2.75M21.59,0.00L19.95,0.00M21.59,0.00L22.11,-2.75M21.59,0.00L22.11,2.75M21.59,11.00L19.95,11.00M21.59,11.00L22.11,13.75M21.59,11.00L22.11,8.25M21.59,16.50L22.11,13.75M21.59,5.50L19.95,5.50M21.59,5.50L22.11,2.75M21.59,5.50L22.11,8.25M22.11,-2.75L21.59,-5.50M22.11,-2.75L21.59,0.00M22.11,-8.25L21.59,-5.50M22.11,13.75L21.59,11.00M22.11,2.75L21.59,0.00M22.11,2.75L21.59,5.50M22.11,8.25L21.59,11.00M22.11,8.25L21.59,5.50M3.10,-5.50L2.09,-2.75M3.10,-5.50L2.09,-8.25M3.10,0.00L2.09,-2.75M3.10,0.00L2.09,2.75M3.10,0.00L5.58,0.00M3.10,11.00L2.09,13.75M3.10,11.00L2.09,8.25M3.10,11.00L5.58,11.00M3.10,16.50L5.58,16.50M3.10,5.50L2.09,2.75M3.10,5.50L2.09,8.25M3.10,5.50L5.58,5.50M5.58,-5.50L3.10,-5.50M5.58,-5.50L7.01,-2.75M5.58,0.00L3.10,0.00M5.58,0.00L7.01,-2.75M5.58,0.00L7.01,2.75M5.58,11.00L3.10,11.00M5.58,11.00L7.01,13.75M5.58,11.00L7.01,8.25M5.58,16.50L7.01,13.75M5.58,5.50L3.10,5.50M5.58,5.50L7.01,2.75M5.58,5.50L7.01,8.25M7.01,-2.75L10.08,-2.75M7.01,-2.75L5.58,-5.50M7.01,-2.75L5.58,0.00M7.01,-8.25L5.58,-5.50M7.01,13.75L10.08,13.75M7.01,13.75L5.58,11.00M7.01,2.75L10.08,2.75M7.01,2.75L5.58,0.00M7.01,2.75L5.58,5.50M7.01,8.25L10.08,8.25M7.01,8.25L5.58,11.00M7.01,8.25L5.58,5.50" stroke="#9a9a9a" stroke-width="0.5" fill="none" opacity="0.2"/><path d="M0.00,-2.75L0.14,-5.50M0.00,-2.75L0.14,0.00M0.00,-8.25L0.14,-5.50M0.00,13.75L0.14,11.00M0.00,2.75L0.14,0.00M0.00,2.75L0.14,5.50M0.00,8.25L0.14,11.00M0.00,8.25L0.14,5.50M0.14,-5.50L0.00,-2.75M0.14,-5.50L1.08,-5.50M0.14,0.00L0.00,-2.75M0.14,0.00L0.00,2.75M0.14,0.00L1.08,0.00M0.14,11.00L0.00,13.75M0.14,11.00L0.00,8.25M0.14,11.00L1.08,11.00M0.14,16.50L0.00,13.75M0.14,5.50L0.00,2.75M0.14,5.50L0.00,8.25M0.14,5.50L1.08,5.50M1.08,-5.50L1.86,-2.75M1.08,-5.50L1.86,-8.25M1.08,0.00L0.14,0.00M1.08,0.00L1.86,-2.75M1.08,0.00L1.86,2.75M1.08,11.00L0.14,11.00M1.08,11.00L1.86,13.75M1.08,11.00L1.86,8.25M1.08,16.50L0.14,16.50M1.08,5.50L0.14,5.50M1.08,5.50L1.86,2.75M1.08,5.50L1.86,8.25M1.86,-2.75L1.08,-5.50M1.86,-2.75L1.08,0.00M1.86,-2.75L3.95,-2.75M1.86,-8.25L3.95,-8.25M1.86,13.75L1.08,11.00M1.86,13.75L1.08,16.50M1.86,2.75L1.08,0.00M1.86,2.75L1.08,5.50M1.86,2.75L3.95,2.75M1.86,8.25L1.08,11.00M1.86,8.25L1.08,5.50M1.86,8.25L3.95,8.25M12.83,-2.75L14.38,-5.50M12.83,-2.75L14.38,0.00M12.83,-2.75L9.67,-2.75M12.83,-8.25L14.38,-5.50M12.83,13.75L14.38,11.00M12.83,13.75L9.67,13.75M12.83,2.75L14.38,0.00M12.83,2.75L14.38,5.50M12.83,2.75L9.67,2.75M12.83,8.25L14.38,11.00M12.83,8.25L14.38,5.50M12.83,8.25L9.67,8.25M14.38,-5.50L12.83,-2.75M14.38,-5.50L17.27,-5.50M14.38,0.00L12.83,-2.75M14.38,0.00L12.83,2.75M14.38,0.00L17.27,0.00M14.38,11.00L12.83,13.75M14.38,11.00L12.83,8.25M14.38,11.00L17.27,11.00M14.38,16.50L12.83,13.75M14.38,5.50L12.83,2.75M14.38,5.50L12.83,8.25M14.38,5.50L17.27,5.50M17.27,-5.50L18.55,-2.75M17.27,-5.50L18.55,-8.25M17.27,0.00L14.38,0.00M17.27,0.00L18.55,-2.75M17.27,0.00L18.55,2.75M17.27,11.00L14.38,11.00M17.27,11.00L18.55,13.75M17.27,11.00L18.55,8.25M17.27,16.50L14.38,16.50M17.27,5.50L14.38,5.50M17.27,5.50L18.55,2.75M17.27,5.50L18.55,8.25M18.55,-2.75L17.27,-5.50M18.55,-2.75L17.27,0.00M18.55,-2.75L20.64,-2.75M18.55,-8.25L20.64,-8.25M18.55,13.75L17.27,11.00M18.55,13.75L17.27,16.50M18.55,2.75L17.27,0.00M18.55,2.75L17.27,5.50M18.55,2.75L20.64,2.75M18.55,8.25L17.27,11.00M18.55,8.25L17.27,5.50M18.55,8.25L20.64,8.25M20.64,-2.75L18.55,-2.75M20.64,-2.75L21.42,-5.50M20.64,-2.75L21.42,0.00M20.64,-8.25L21.42,-5.50M20.64,13.75L18.55,13.75M20.64,13.75L21.42,11.00M20.64,2.75L18.55,2.75M20.64,2.75L21.42,0.00M20.64,2.75L21.42,5.50M20.64,8.25L18.55,8.25M20.64,8.25L21.42,11.00M20.64,8.25L21.42,5.50M21.42,-5.50L20.64,-2.75M21.42,-5.50L22.36,-5.50M21.42,0.00L20.64,-2.75M21.42,0.00L20.64,2.75M21.42,0.00L22.36,0.00M21.42,11.00L20.64,13.75M21.42,11.00L20.64,8.25M21.42,11.00L22.36,11.00M21.42,16.50L20.64,13.75M21.42,5.50L20.64,2.75M21.42,5.50L20.64,8.25M21.42,5.50L22.36,5.50M22.36,-5.50L22.50,-2.75M22.36,-5.50L22.50,-8.25M22.36,0.00L21.42,0.00M22.36,0.00L22.50,-2.75M22.36,0.00L22.50,2.75M22.36,11.00L21.42,11.00M22.36,11.00L22.50,13.75M22.36,11.00L22.50,8.25M22.36,16.50L21.42,16.50M22.36,5.50L21.42,5.50M22.36,5.50L22.50,2.75M22.36,5.50L22.50,8.25M22.50,-2.75L22.36,-5.50M22.50,-2.75L22.36,0.00M22.50,13.75L22.36,11.00M22.50,13.75L22.36,16.50M22.50,2.75L22.36,0.00M22.50,2.75L22.36,5.50M22.50,8.25L22.36,11.00M22.50,8.25L22.36,5.50M3.95,-2.75L1.86,-2.75M3.95,-2.75L5.23,-5.50M3.95,-2.75L5.23,0.00M3.95,-8.25L5.23,-5.50M3.95,13.75L1.86,13.75M3.95,13.75L5.23,11.00M3.95,2.75L1.86,2.75M3.95,2.75L5.23,0.00M3.95,2.75L5.23,5.50M3.95,8.25L1.86,8.25M3.95,8.25L5.23,11.00M3.95,8.25L5.23,5.50M5.23,-5.50L3.95,-2.75M5.23,-5.50L8.12,-5.50M5.23,0.00L3.95,-2.75M5.23,0.00L3.95,2.75M5.23,0.00L8.12,0.00M5.23,11.00L3.95,13.75M5.23,11.00L3.95,8.25M5.23,11.00L8.12,11.00M5.23,16.50L3.95,13.75M5.23,5.50L3.95,2.75M5.23,5.50L3.95,8.25M5.23,5.50L8.12,5.50M8.12,-5.50L9.67,-2.75M8.12,-5.50L9.67,-8.25M8.12,0.00L5.23,0.00M8.12,0.00L9.67,-2.75M8.12,0.00L9.67,2.75M8.12,11.00L5.23,11.00M8.12,11.00L9.67,13.75M8.12,11.00L9.67,8.25M8.12,16.50L5.23,16.50M8.12,5.50L5.23,5.50M8.12,5.50L9.67,2.75M8.12,5.50L9.67,8.25M9.67,-2.75L12.83,-2.75M9.67,-2.75L8.12,-5.50M9.67,-2.75L8.12,0.00M9.67,-8.25L12.83,-8.25M9.67,13.75L8.12,11.00M9.67,13.75L8.12,16.50M9.67,2.75L12.83,2.75M9.67,2.75L8.12,0.00M9.67,2.75L8.12,5.50M9.67,8.25L12.83,8.25M9.67,8.25L8.12,11.00M9.67,8.25L8.12,5.50" stroke="#9a9a9a" stroke-width="0.5" fill="none"/></pattern></defs>
<text x="7.3" y="20.7" font-family="Liberation Sans" font-size="25" font-weight="bold" fill="#000" textLength="21.2" lengthAdjust="spacingAndGlyphs"  style="">a)</text>
<text x="69" y="35.5" font-family="Liberation Sans" font-size="21.5" font-weight="bold" fill="#000" textLength="25.4" lengthAdjust="spacingAndGlyphs"  style="">(a)</text>
<text x="101.2" y="35.4" font-family="Liberation Sans" font-size="15.4" font-weight="bold" fill="#000" textLength="174.5" lengthAdjust="spacingAndGlyphs"  style="">99.9% semiconducting</text>
<text x="180.6" y="53.5" font-family="Liberation Sans" font-size="15.4" font-weight="bold" fill="#000" textLength="100" lengthAdjust="spacingAndGlyphs"  style="">CNT network</text>
<clipPath id="afmclip"><rect x="285" y="18" width="90" height="92"/></clipPath>
<filter id="afmblur" x="0" y="0" width="1" height="1"><feGaussianBlur stdDeviation="0.45"/></filter>
<g clip-path="url(#afmclip)"><g filter="url(#afmblur)">
<rect x="284" y="17" width="92" height="94" fill="#b83a08"/>
<circle cx="313.8" cy="31.2" r="2.2" fill="#600c00" opacity="0.75"/>
<circle cx="359.6" cy="25.8" r="2.1" fill="#f07a18" opacity="0.75"/>
<circle cx="303.8" cy="25.1" r="1.7" fill="#781400" opacity="0.75"/>
<circle cx="292.3" cy="56.9" r="2.6" fill="#600c00" opacity="0.75"/>
<circle cx="371.2" cy="76.3" r="2.1" fill="#600c00" opacity="0.75"/>
<circle cx="337.1" cy="54.3" r="2.9" fill="#600c00" opacity="0.75"/>
<circle cx="335.2" cy="29.5" r="1.7" fill="#f07a18" opacity="0.75"/>
<circle cx="294.8" cy="46.0" r="2.6" fill="#781400" opacity="0.75"/>
<circle cx="293.5" cy="70.7" r="1.2" fill="#600c00" opacity="0.75"/>
<circle cx="334.4" cy="22.9" r="0.9" fill="#781400" opacity="0.75"/>
<circle cx="329.7" cy="67.0" r="2.5" fill="#e05a0c" opacity="0.75"/>
<circle cx="337.9" cy="59.6" r="1.5" fill="#901c00" opacity="0.75"/>
<circle cx="300.5" cy="90.3" r="1.0" fill="#6a0e00" opacity="0.75"/>
<circle cx="332.3" cy="99.3" r="2.4" fill="#6a0e00" opacity="0.75"/>
<circle cx="340.0" cy="23.9" r="1.9" fill="#781400" opacity="0.75"/>
<circle cx="353.7" cy="31.3" r="1.9" fill="#600c00" opacity="0.75"/>
<circle cx="372.5" cy="24.3" r="2.0" fill="#901c00" opacity="0.75"/>
<circle cx="364.5" cy="46.5" r="2.3" fill="#f07a18" opacity="0.75"/>
<circle cx="329.7" cy="91.9" r="1.0" fill="#600c00" opacity="0.75"/>
<circle cx="370.9" cy="61.6" r="2.3" fill="#600c00" opacity="0.75"/>
<circle cx="351.3" cy="46.1" r="2.1" fill="#c84008" opacity="0.75"/>
<circle cx="359.6" cy="43.8" r="1.6" fill="#c84008" opacity="0.75"/>
<circle cx="315.9" cy="105.4" r="1.6" fill="#f07a18" opacity="0.75"/>
<circle cx="294.8" cy="22.5" r="2.5" fill="#781400" opacity="0.75"/>
<circle cx="351.9" cy="54.4" r="2.8" fill="#e05a0c" opacity="0.75"/>
<circle cx="291.4" cy="59.2" r="2.0" fill="#781400" opacity="0.75"/>
<circle cx="359.4" cy="98.2" r="1.4" fill="#e05a0c" opacity="0.75"/>
<circle cx="374.8" cy="81.2" r="1.6" fill="#781400" opacity="0.75"/>
<circle cx="297.9" cy="33.6" r="1.3" fill="#781400" opacity="0.75"/>
<circle cx="285.1" cy="95.1" r="1.2" fill="#6a0e00" opacity="0.75"/>
<circle cx="284.4" cy="56.4" r="1.6" fill="#f07a18" opacity="0.75"/>
<circle cx="313.3" cy="28.8" r="2.7" fill="#f07a18" opacity="0.75"/>
<circle cx="344.3" cy="86.5" r="1.8" fill="#901c00" opacity="0.75"/>
<circle cx="355.8" cy="99.2" r="2.6" fill="#e05a0c" opacity="0.75"/>
<circle cx="320.6" cy="54.0" r="1.9" fill="#e05a0c" opacity="0.75"/>
<circle cx="289.7" cy="23.3" r="1.3" fill="#781400" opacity="0.75"/>
<circle cx="294.1" cy="73.5" r="1.0" fill="#f07a18" opacity="0.75"/>
<circle cx="297.9" cy="26.5" r="1.6" fill="#600c00" opacity="0.75"/>
<circle cx="290.5" cy="36.5" r="1.6" fill="#c84008" opacity="0.75"/>
<circle cx="307.2" cy="49.7" r="1.6" fill="#600c00" opacity="0.75"/>
<circle cx="294.6" cy="62.9" r="3.0" fill="#e05a0c" opacity="0.75"/>
<circle cx="328.5" cy="25.1" r="1.0" fill="#6a0e00" opacity="0.75"/>
<circle cx="352.1" cy="62.0" r="2.3" fill="#f07a18" opacity="0.75"/>
<circle cx="286.1" cy="106.4" r="2.0" fill="#781400" opacity="0.75"/>
<circle cx="347.5" cy="102.9" r="2.5" fill="#6a0e00" opacity="0.75"/>
<circle cx="374.0" cy="98.2" r="2.3" fill="#6a0e00" opacity="0.75"/>
<circle cx="331.7" cy="102.4" r="1.6" fill="#781400" opacity="0.75"/>
<circle cx="333.0" cy="90.2" r="1.5" fill="#781400" opacity="0.75"/>
<circle cx="340.4" cy="91.1" r="2.5" fill="#781400" opacity="0.75"/>
<circle cx="358.2" cy="93.9" r="2.4" fill="#781400" opacity="0.75"/>
<circle cx="302.4" cy="63.3" r="2.4" fill="#600c00" opacity="0.75"/>
<circle cx="356.7" cy="61.4" r="1.2" fill="#f07a18" opacity="0.75"/>
<circle cx="372.0" cy="59.0" r="2.9" fill="#6a0e00" opacity="0.75"/>
<circle cx="371.9" cy="51.3" r="1.3" fill="#781400" opacity="0.75"/>
<circle cx="327.2" cy="48.7" r="1.9" fill="#f07a18" opacity="0.75"/>
<circle cx="361.3" cy="62.1" r="2.2" fill="#901c00" opacity="0.75"/>
<circle cx="343.2" cy="95.5" r="1.1" fill="#e05a0c" opacity="0.75"/>
<circle cx="356.0" cy="87.5" r="1.9" fill="#781400" opacity="0.75"/>
<circle cx="323.9" cy="76.8" r="1.0" fill="#c84008" opacity="0.75"/>
<circle cx="320.4" cy="54.7" r="2.9" fill="#c84008" opacity="0.75"/>
<circle cx="298.6" cy="110.4" r="0.9" fill="#f07a18" opacity="0.75"/>
<circle cx="367.2" cy="92.8" r="1.1" fill="#901c00" opacity="0.75"/>
<circle cx="338.8" cy="61.6" r="2.9" fill="#781400" opacity="0.75"/>
<circle cx="334.5" cy="29.3" r="0.8" fill="#c84008" opacity="0.75"/>
<circle cx="343.8" cy="66.5" r="2.9" fill="#e05a0c" opacity="0.75"/>
<circle cx="374.8" cy="35.3" r="2.7" fill="#600c00" opacity="0.75"/>
<circle cx="307.2" cy="44.5" r="1.3" fill="#f07a18" opacity="0.75"/>
<circle cx="314.0" cy="68.2" r="2.6" fill="#600c00" opacity="0.75"/>
<circle cx="367.7" cy="50.3" r="1.8" fill="#f07a18" opacity="0.75"/>
<circle cx="359.0" cy="65.6" r="2.6" fill="#f07a18" opacity="0.75"/>
<circle cx="296.0" cy="31.3" r="1.9" fill="#901c00" opacity="0.75"/>
<circle cx="324.5" cy="34.2" r="0.8" fill="#901c00" opacity="0.75"/>
<circle cx="297.8" cy="30.3" r="2.2" fill="#600c00" opacity="0.75"/>
<circle cx="335.2" cy="47.6" r="1.9" fill="#f07a18" opacity="0.75"/>
<circle cx="328.4" cy="90.0" r="2.7" fill="#600c00" opacity="0.75"/>
<circle cx="306.9" cy="43.0" r="2.5" fill="#f07a18" opacity="0.75"/>
<circle cx="325.6" cy="19.6" r="2.8" fill="#600c00" opacity="0.75"/>
<circle cx="324.8" cy="74.6" r="1.9" fill="#f07a18" opacity="0.75"/>
<circle cx="302.3" cy="43.1" r="1.9" fill="#901c00" opacity="0.75"/>
<circle cx="328.0" cy="105.5" r="2.3" fill="#6a0e00" opacity="0.75"/>
<circle cx="368.9" cy="100.9" r="1.2" fill="#e05a0c" opacity="0.75"/>
<circle cx="296.6" cy="28.4" r="1.8" fill="#600c00" opacity="0.75"/>
<circle cx="345.7" cy="57.3" r="1.3" fill="#6a0e00" opacity="0.75"/>
<circle cx="356.1" cy="101.3" r="1.1" fill="#c84008" opacity="0.75"/>
<circle cx="343.2" cy="51.4" r="1.4" fill="#781400" opacity="0.75"/>
<circle cx="373.0" cy="37.6" r="2.9" fill="#e05a0c" opacity="0.75"/>
<circle cx="365.4" cy="32.3" r="2.3" fill="#781400" opacity="0.75"/>
<circle cx="298.9" cy="57.6" r="1.9" fill="#6a0e00" opacity="0.75"/>
<circle cx="322.8" cy="50.5" r="1.0" fill="#6a0e00" opacity="0.75"/>
<circle cx="285.8" cy="69.1" r="1.8" fill="#600c00" opacity="0.75"/>
<circle cx="319.4" cy="65.6" r="1.4" fill="#600c00" opacity="0.75"/>
<circle cx="294.4" cy="103.3" r="1.3" fill="#600c00" opacity="0.75"/>
<circle cx="291.7" cy="42.6" r="2.8" fill="#781400" opacity="0.75"/>
<circle cx="308.9" cy="29.2" r="1.7" fill="#c84008" opacity="0.75"/>
<circle cx="359.3" cy="41.3" r="1.1" fill="#f07a18" opacity="0.75"/>
<circle cx="336.5" cy="82.8" r="1.0" fill="#600c00" opacity="0.75"/>
<circle cx="357.6" cy="34.2" r="2.8" fill="#6a0e00" opacity="0.75"/>
<circle cx="370.3" cy="76.6" r="2.6" fill="#600c00" opacity="0.75"/>
<circle cx="340.0" cy="37.9" r="1.4" fill="#600c00" opacity="0.75"/>
<circle cx="325.7" cy="48.9" r="2.0" fill="#6a0e00" opacity="0.75"/>
<circle cx="341.2" cy="21.1" r="2.4" fill="#600c00" opacity="0.75"/>
<circle cx="373.2" cy="41.6" r="1.2" fill="#6a0e00" opacity="0.75"/>
<circle cx="341.8" cy="66.9" r="1.3" fill="#e05a0c" opacity="0.75"/>
<circle cx="330.0" cy="33.7" r="1.6" fill="#600c00" opacity="0.75"/>
<circle cx="375.5" cy="20.5" r="0.8" fill="#f07a18" opacity="0.75"/>
<circle cx="334.7" cy="34.8" r="1.8" fill="#e05a0c" opacity="0.75"/>
<circle cx="293.8" cy="94.0" r="1.8" fill="#e05a0c" opacity="0.75"/>
<circle cx="334.2" cy="100.5" r="2.9" fill="#6a0e00" opacity="0.75"/>
<circle cx="347.3" cy="109.3" r="1.6" fill="#901c00" opacity="0.75"/>
<circle cx="365.1" cy="85.5" r="1.1" fill="#6a0e00" opacity="0.75"/>
<circle cx="374.3" cy="95.7" r="0.8" fill="#c84008" opacity="0.75"/>
<circle cx="352.2" cy="41.0" r="1.2" fill="#600c00" opacity="0.75"/>
<circle cx="345.2" cy="52.8" r="1.9" fill="#6a0e00" opacity="0.75"/>
<circle cx="339.1" cy="82.1" r="0.9" fill="#781400" opacity="0.75"/>
<circle cx="298.5" cy="58.9" r="1.4" fill="#6a0e00" opacity="0.75"/>
<circle cx="373.5" cy="68.4" r="1.3" fill="#6a0e00" opacity="0.75"/>
<circle cx="304.0" cy="34.2" r="1.5" fill="#600c00" opacity="0.75"/>
<circle cx="327.7" cy="64.3" r="1.2" fill="#f07a18" opacity="0.75"/>
<circle cx="355.4" cy="25.5" r="2.6" fill="#781400" opacity="0.75"/>
<circle cx="320.8" cy="20.9" r="0.8" fill="#6a0e00" opacity="0.75"/>
<circle cx="341.9" cy="24.9" r="2.9" fill="#901c00" opacity="0.75"/>
<circle cx="353.0" cy="78.8" r="2.4" fill="#f07a18" opacity="0.75"/>
<circle cx="319.8" cy="47.7" r="3.0" fill="#781400" opacity="0.75"/>
<circle cx="310.1" cy="75.2" r="1.1" fill="#901c00" opacity="0.75"/>
<circle cx="360.8" cy="100.8" r="2.2" fill="#c84008" opacity="0.75"/>
<circle cx="348.5" cy="64.5" r="2.8" fill="#901c00" opacity="0.75"/>
<circle cx="330.4" cy="95.5" r="2.6" fill="#901c00" opacity="0.75"/>
<circle cx="347.2" cy="92.0" r="2.4" fill="#c84008" opacity="0.75"/>
<circle cx="343.1" cy="25.0" r="0.9" fill="#c84008" opacity="0.75"/>
<circle cx="317.2" cy="26.9" r="2.6" fill="#f07a18" opacity="0.75"/>
<circle cx="288.7" cy="18.8" r="2.0" fill="#781400" opacity="0.75"/>
<circle cx="329.0" cy="17.3" r="2.6" fill="#c84008" opacity="0.75"/>
<circle cx="369.8" cy="101.4" r="1.0" fill="#f07a18" opacity="0.75"/>
<circle cx="290.1" cy="86.3" r="1.4" fill="#600c00" opacity="0.75"/>
<circle cx="361.8" cy="39.1" r="2.5" fill="#781400" opacity="0.75"/>
<circle cx="352.1" cy="108.7" r="1.9" fill="#e05a0c" opacity="0.75"/>
<circle cx="291.1" cy="102.6" r="1.4" fill="#600c00" opacity="0.75"/>
<circle cx="340.8" cy="77.4" r="1.0" fill="#781400" opacity="0.75"/>
<circle cx="314.5" cy="78.2" r="2.3" fill="#f07a18" opacity="0.75"/>
<circle cx="336.2" cy="18.2" r="0.9" fill="#6a0e00" opacity="0.75"/>
<circle cx="373.5" cy="26.4" r="1.3" fill="#e05a0c" opacity="0.75"/>
<circle cx="310.8" cy="65.6" r="1.8" fill="#e05a0c" opacity="0.75"/>
<circle cx="354.6" cy="110.4" r="2.0" fill="#6a0e00" opacity="0.75"/>
<circle cx="374.0" cy="105.0" r="0.8" fill="#e05a0c" opacity="0.75"/>
<circle cx="291.0" cy="64.6" r="3.0" fill="#6a0e00" opacity="0.75"/>
<circle cx="319.6" cy="103.2" r="2.8" fill="#600c00" opacity="0.75"/>
<circle cx="337.5" cy="30.3" r="2.0" fill="#6a0e00" opacity="0.75"/>
<circle cx="296.2" cy="94.1" r="1.9" fill="#600c00" opacity="0.75"/>
<circle cx="348.7" cy="38.8" r="2.8" fill="#e05a0c" opacity="0.75"/>
<circle cx="320.3" cy="32.0" r="2.9" fill="#c84008" opacity="0.75"/>
<circle cx="325.5" cy="45.4" r="1.1" fill="#6a0e00" opacity="0.75"/>
<circle cx="318.6" cy="28.4" r="1.5" fill="#6a0e00" opacity="0.75"/>
<circle cx="353.1" cy="95.9" r="1.1" fill="#781400" opacity="0.75"/>
<circle cx="349.6" cy="101.7" r="1.4" fill="#6a0e00" opacity="0.75"/>
<circle cx="290.0" cy="53.7" r="2.7" fill="#600c00" opacity="0.75"/>
<circle cx="317.2" cy="57.2" r="1.4" fill="#600c00" opacity="0.75"/>
<circle cx="309.8" cy="21.9" r="2.3" fill="#c84008" opacity="0.75"/>
<circle cx="370.1" cy="40.4" r="1.4" fill="#f07a18" opacity="0.75"/>
<circle cx="313.0" cy="89.7" r="2.5" fill="#e05a0c" opacity="0.75"/>
<circle cx="365.4" cy="93.3" r="2.2" fill="#f07a18" opacity="0.75"/>
<circle cx="334.5" cy="84.6" r="0.9" fill="#c84008" opacity="0.75"/>
<circle cx="321.8" cy="74.8" r="1.1" fill="#901c00" opacity="0.75"/>
<circle cx="310.3" cy="21.6" r="2.8" fill="#781400" opacity="0.75"/>
<circle cx="299.7" cy="56.0" r="1.4" fill="#6a0e00" opacity="0.75"/>
<circle cx="352.0" cy="108.8" r="1.4" fill="#c84008" opacity="0.75"/>
<circle cx="306.0" cy="62.4" r="2.3" fill="#600c00" opacity="0.75"/>
<circle cx="299.4" cy="32.2" r="1.3" fill="#901c00" opacity="0.75"/>
<circle cx="329.7" cy="37.7" r="2.8" fill="#901c00" opacity="0.75"/>
<circle cx="325.4" cy="30.1" r="1.2" fill="#600c00" opacity="0.75"/>
<circle cx="300.1" cy="69.3" r="1.5" fill="#6a0e00" opacity="0.75"/>
<circle cx="307.8" cy="70.5" r="2.8" fill="#c84008" opacity="0.75"/>
<circle cx="364.1" cy="53.0" r="2.4" fill="#781400" opacity="0.75"/>
<circle cx="318.7" cy="48.8" r="0.9" fill="#6a0e00" opacity="0.75"/>
<circle cx="336.8" cy="50.9" r="2.3" fill="#f07a18" opacity="0.75"/>
<circle cx="341.9" cy="98.1" r="1.3" fill="#6a0e00" opacity="0.75"/>
<circle cx="366.5" cy="53.1" r="2.2" fill="#e05a0c" opacity="0.75"/>
<circle cx="371.8" cy="96.8" r="2.7" fill="#600c00" opacity="0.75"/>
<circle cx="295.7" cy="57.0" r="2.5" fill="#901c00" opacity="0.75"/>
<circle cx="327.5" cy="72.2" r="0.8" fill="#e05a0c" opacity="0.75"/>
<circle cx="369.6" cy="104.2" r="2.0" fill="#e05a0c" opacity="0.75"/>
<circle cx="373.4" cy="40.4" r="1.0" fill="#781400" opacity="0.75"/>
<circle cx="298.0" cy="108.4" r="1.0" fill="#901c00" opacity="0.75"/>
<circle cx="350.4" cy="77.9" r="2.5" fill="#e05a0c" opacity="0.75"/>
<circle cx="291.8" cy="90.0" r="0.8" fill="#781400" opacity="0.75"/>
<circle cx="305.4" cy="103.5" r="2.2" fill="#6a0e00" opacity="0.75"/>
<circle cx="372.5" cy="75.9" r="2.0" fill="#e05a0c" opacity="0.75"/>
<circle cx="348.3" cy="27.5" r="1.0" fill="#f07a18" opacity="0.75"/>
<circle cx="370.8" cy="35.0" r="1.4" fill="#901c00" opacity="0.75"/>
<circle cx="339.3" cy="18.0" r="1.5" fill="#e05a0c" opacity="0.75"/>
<circle cx="309.6" cy="46.7" r="2.6" fill="#781400" opacity="0.75"/>
<circle cx="327.7" cy="39.1" r="1.3" fill="#e05a0c" opacity="0.75"/>
<circle cx="348.8" cy="45.9" r="0.8" fill="#e05a0c" opacity="0.75"/>
<circle cx="365.4" cy="77.8" r="1.0" fill="#781400" opacity="0.75"/>
<circle cx="345.4" cy="104.0" r="1.3" fill="#600c00" opacity="0.75"/>
<circle cx="348.0" cy="84.5" r="1.6" fill="#e05a0c" opacity="0.75"/>
<circle cx="302.2" cy="91.9" r="2.4" fill="#f07a18" opacity="0.75"/>
<circle cx="290.2" cy="63.6" r="1.2" fill="#901c00" opacity="0.75"/>
<circle cx="359.4" cy="38.7" r="1.3" fill="#901c00" opacity="0.75"/>
<circle cx="365.8" cy="27.2" r="2.2" fill="#f07a18" opacity="0.75"/>
<circle cx="301.2" cy="38.0" r="1.7" fill="#c84008" opacity="0.75"/>
<circle cx="289.2" cy="72.9" r="2.8" fill="#600c00" opacity="0.75"/>
<circle cx="303.6" cy="108.6" r="1.1" fill="#600c00" opacity="0.75"/>
<circle cx="349.3" cy="34.3" r="1.8" fill="#c84008" opacity="0.75"/>
<circle cx="365.3" cy="85.9" r="3.0" fill="#781400" opacity="0.75"/>
<circle cx="314.3" cy="34.4" r="2.9" fill="#c84008" opacity="0.75"/>
<circle cx="327.0" cy="46.3" r="2.4" fill="#901c00" opacity="0.75"/>
<circle cx="318.4" cy="48.2" r="1.2" fill="#600c00" opacity="0.75"/>
<circle cx="291.2" cy="24.6" r="1.7" fill="#600c00" opacity="0.75"/>
<circle cx="335.6" cy="88.3" r="1.6" fill="#901c00" opacity="0.75"/>
<circle cx="359.6" cy="94.3" r="1.8" fill="#600c00" opacity="0.75"/>
<circle cx="348.9" cy="35.4" r="2.0" fill="#e05a0c" opacity="0.75"/>
<circle cx="301.8" cy="51.2" r="2.8" fill="#600c00" opacity="0.75"/>
<circle cx="342.1" cy="40.3" r="2.2" fill="#e05a0c" opacity="0.75"/>
<circle cx="287.7" cy="20.3" r="0.9" fill="#600c00" opacity="0.75"/>
<circle cx="307.6" cy="87.2" r="2.8" fill="#6a0e00" opacity="0.75"/>
<circle cx="317.4" cy="48.5" r="2.9" fill="#600c00" opacity="0.75"/>
<circle cx="308.1" cy="84.4" r="1.5" fill="#6a0e00" opacity="0.75"/>
<circle cx="311.4" cy="84.8" r="2.1" fill="#901c00" opacity="0.75"/>
<circle cx="342.3" cy="105.7" r="0.9" fill="#781400" opacity="0.75"/>
<circle cx="293.9" cy="84.3" r="1.8" fill="#901c00" opacity="0.75"/>
<circle cx="319.6" cy="40.6" r="1.7" fill="#e05a0c" opacity="0.75"/>
<circle cx="296.2" cy="63.7" r="0.8" fill="#c84008" opacity="0.75"/>
<circle cx="311.9" cy="82.1" r="1.1" fill="#781400" opacity="0.75"/>
<circle cx="314.2" cy="47.0" r="1.6" fill="#901c00" opacity="0.75"/>
<circle cx="338.8" cy="65.1" r="1.7" fill="#781400" opacity="0.75"/>
<circle cx="306.8" cy="23.1" r="0.9" fill="#f07a18" opacity="0.75"/>
<circle cx="334.1" cy="32.1" r="1.7" fill="#600c00" opacity="0.75"/>
<circle cx="374.9" cy="41.9" r="1.0" fill="#600c00" opacity="0.75"/>
<circle cx="322.7" cy="109.9" r="2.9" fill="#781400" opacity="0.75"/>
<circle cx="305.5" cy="56.2" r="2.2" fill="#c84008" opacity="0.75"/>
<circle cx="305.6" cy="67.6" r="2.5" fill="#901c00" opacity="0.75"/>
<circle cx="295.1" cy="96.0" r="1.4" fill="#f07a18" opacity="0.75"/>
<circle cx="308.6" cy="40.9" r="1.4" fill="#e05a0c" opacity="0.75"/>
<circle cx="306.8" cy="40.1" r="1.1" fill="#f07a18" opacity="0.75"/>
<circle cx="301.3" cy="23.1" r="1.4" fill="#781400" opacity="0.75"/>
<circle cx="330.7" cy="38.7" r="2.6" fill="#c84008" opacity="0.75"/>
<circle cx="326.7" cy="20.5" r="0.8" fill="#901c00" opacity="0.75"/>
<circle cx="305.3" cy="59.1" r="1.6" fill="#6a0e00" opacity="0.75"/>
<circle cx="305.4" cy="21.7" r="2.1" fill="#901c00" opacity="0.75"/>
<circle cx="337.7" cy="104.4" r="1.6" fill="#901c00" opacity="0.75"/>
<circle cx="300.4" cy="73.7" r="2.5" fill="#c84008" opacity="0.75"/>
<circle cx="371.0" cy="26.9" r="2.1" fill="#f07a18" opacity="0.75"/>
<circle cx="316.2" cy="20.5" r="1.5" fill="#600c00" opacity="0.75"/>
<circle cx="302.8" cy="41.0" r="2.1" fill="#c84008" opacity="0.75"/>
<circle cx="368.1" cy="93.6" r="2.6" fill="#e05a0c" opacity="0.75"/>
<circle cx="346.4" cy="34.4" r="1.5" fill="#781400" opacity="0.75"/>
<circle cx="286.9" cy="63.6" r="1.9" fill="#e05a0c" opacity="0.75"/>
<circle cx="293.3" cy="54.2" r="2.0" fill="#c84008" opacity="0.75"/>
<circle cx="333.1" cy="78.4" r="1.7" fill="#6a0e00" opacity="0.75"/>
<circle cx="321.7" cy="43.6" r="1.5" fill="#600c00" opacity="0.75"/>
<circle cx="312.7" cy="70.3" r="1.6" fill="#e05a0c" opacity="0.75"/>
<circle cx="285.7" cy="89.1" r="2.6" fill="#c84008" opacity="0.75"/>
<circle cx="302.1" cy="85.4" r="1.2" fill="#600c00" opacity="0.75"/>
<circle cx="323.9" cy="31.7" r="1.0" fill="#600c00" opacity="0.75"/>
<circle cx="321.4" cy="100.0" r="1.8" fill="#781400" opacity="0.75"/>
<circle cx="296.0" cy="21.9" r="1.1" fill="#901c00" opacity="0.75"/>
<circle cx="367.7" cy="25.4" r="2.2" fill="#6a0e00" opacity="0.75"/>
<circle cx="351.8" cy="33.1" r="1.6" fill="#781400" opacity="0.75"/>
<circle cx="331.9" cy="104.0" r="1.0" fill="#e05a0c" opacity="0.75"/>
<circle cx="353.3" cy="91.5" r="2.6" fill="#6a0e00" opacity="0.75"/>
<circle cx="295.7" cy="105.6" r="2.9" fill="#e05a0c" opacity="0.75"/>
<circle cx="312.9" cy="74.1" r="2.2" fill="#600c00" opacity="0.75"/>
<circle cx="367.2" cy="75.3" r="2.6" fill="#781400" opacity="0.75"/>
<circle cx="342.9" cy="97.5" r="2.2" fill="#f07a18" opacity="0.75"/>
<circle cx="361.9" cy="94.9" r="1.2" fill="#781400" opacity="0.75"/>
<circle cx="287.8" cy="105.2" r="1.1" fill="#6a0e00" opacity="0.75"/>
<circle cx="295.3" cy="40.2" r="2.4" fill="#781400" opacity="0.75"/>
<circle cx="287.8" cy="69.9" r="2.5" fill="#600c00" opacity="0.75"/>
<circle cx="345.4" cy="47.5" r="1.7" fill="#e05a0c" opacity="0.75"/>
<circle cx="334.6" cy="75.9" r="1.5" fill="#e05a0c" opacity="0.75"/>
<circle cx="312.4" cy="40.4" r="1.7" fill="#6a0e00" opacity="0.75"/>
<circle cx="325.1" cy="58.2" r="0.9" fill="#f07a18" opacity="0.75"/>
<circle cx="374.7" cy="60.7" r="1.8" fill="#f07a18" opacity="0.75"/>
<circle cx="355.8" cy="60.1" r="1.2" fill="#e05a0c" opacity="0.75"/>
<circle cx="320.8" cy="23.3" r="1.6" fill="#6a0e00" opacity="0.75"/>
<circle cx="292.4" cy="58.5" r="1.9" fill="#600c00" opacity="0.75"/>
<circle cx="287.7" cy="29.2" r="2.8" fill="#6a0e00" opacity="0.75"/>
<circle cx="355.5" cy="65.1" r="0.9" fill="#f07a18" opacity="0.75"/>
<circle cx="366.3" cy="78.4" r="2.5" fill="#600c00" opacity="0.75"/>
<circle cx="362.9" cy="110.6" r="2.4" fill="#901c00" opacity="0.75"/>
<circle cx="294.1" cy="29.4" r="2.7" fill="#6a0e00" opacity="0.75"/>
<circle cx="372.0" cy="103.1" r="1.2" fill="#901c00" opacity="0.75"/>
<circle cx="350.3" cy="37.8" r="2.6" fill="#f07a18" opacity="0.75"/>
<circle cx="353.6" cy="31.9" r="2.8" fill="#6a0e00" opacity="0.75"/>
<circle cx="367.3" cy="59.9" r="1.4" fill="#e05a0c" opacity="0.75"/>
<circle cx="303.2" cy="41.7" r="1.9" fill="#6a0e00" opacity="0.75"/>
<circle cx="318.2" cy="35.7" r="1.7" fill="#c84008" opacity="0.75"/>
<circle cx="370.1" cy="80.9" r="2.8" fill="#781400" opacity="0.75"/>
<circle cx="356.9" cy="41.8" r="2.5" fill="#600c00" opacity="0.75"/>
<circle cx="342.5" cy="50.8" r="2.7" fill="#f07a18" opacity="0.75"/>
<circle cx="332.0" cy="81.7" r="2.8" fill="#6a0e00" opacity="0.75"/>
<circle cx="375.4" cy="76.2" r="1.7" fill="#901c00" opacity="0.75"/>
<circle cx="318.2" cy="52.3" r="1.6" fill="#781400" opacity="0.75"/>
<circle cx="317.1" cy="88.9" r="1.8" fill="#781400" opacity="0.75"/>
<circle cx="340.6" cy="107.1" r="1.5" fill="#f07a18" opacity="0.75"/>
<circle cx="307.3" cy="77.1" r="3.0" fill="#f07a18" opacity="0.75"/>
<circle cx="369.4" cy="101.2" r="2.4" fill="#c84008" opacity="0.75"/>
<circle cx="287.1" cy="31.0" r="2.2" fill="#e05a0c" opacity="0.75"/>
<circle cx="322.4" cy="51.2" r="0.9" fill="#e05a0c" opacity="0.75"/>
<circle cx="304.9" cy="78.4" r="0.8" fill="#600c00" opacity="0.75"/>
<circle cx="336.2" cy="45.6" r="2.0" fill="#f07a18" opacity="0.75"/>
<circle cx="304.6" cy="71.9" r="2.1" fill="#781400" opacity="0.75"/>
<circle cx="317.7" cy="94.9" r="1.1" fill="#600c00" opacity="0.75"/>
<circle cx="370.2" cy="39.9" r="1.1" fill="#600c00" opacity="0.75"/>
<circle cx="289.9" cy="30.6" r="2.3" fill="#6a0e00" opacity="0.75"/>
<circle cx="321.0" cy="41.8" r="0.8" fill="#c84008" opacity="0.75"/>
<circle cx="359.5" cy="100.9" r="2.1" fill="#f07a18" opacity="0.75"/>
<circle cx="324.8" cy="105.1" r="2.4" fill="#781400" opacity="0.75"/>
<circle cx="299.2" cy="17.0" r="0.9" fill="#600c00" opacity="0.75"/>
<circle cx="321.4" cy="39.3" r="0.9" fill="#901c00" opacity="0.75"/>
<circle cx="293.7" cy="74.6" r="2.2" fill="#781400" opacity="0.75"/>
<circle cx="297.1" cy="35.8" r="2.1" fill="#f07a18" opacity="0.75"/>
<circle cx="343.6" cy="56.0" r="2.1" fill="#f07a18" opacity="0.75"/>
<circle cx="312.5" cy="45.2" r="0.9" fill="#c84008" opacity="0.75"/>
<circle cx="356.0" cy="84.2" r="0.8" fill="#901c00" opacity="0.75"/>
<circle cx="324.2" cy="102.8" r="1.0" fill="#c84008" opacity="0.75"/>
<circle cx="325.6" cy="38.2" r="1.0" fill="#781400" opacity="0.75"/>
<circle cx="343.2" cy="28.6" r="2.8" fill="#c84008" opacity="0.75"/>
<circle cx="370.7" cy="41.8" r="0.9" fill="#c84008" opacity="0.75"/>
<circle cx="334.9" cy="58.0" r="2.5" fill="#f07a18" opacity="0.75"/>
<circle cx="373.4" cy="44.8" r="2.8" fill="#781400" opacity="0.75"/>
<circle cx="291.9" cy="64.7" r="1.2" fill="#781400" opacity="0.75"/>
<circle cx="361.4" cy="36.1" r="1.2" fill="#6a0e00" opacity="0.75"/>
<circle cx="301.7" cy="53.5" r="2.1" fill="#e05a0c" opacity="0.75"/>
<circle cx="367.5" cy="76.3" r="2.3" fill="#c84008" opacity="0.75"/>
<circle cx="361.4" cy="67.4" r="1.8" fill="#f07a18" opacity="0.75"/>
<circle cx="348.2" cy="97.6" r="1.8" fill="#c84008" opacity="0.75"/>
<circle cx="305.5" cy="100.2" r="2.5" fill="#e05a0c" opacity="0.75"/>
<circle cx="341.3" cy="24.3" r="2.8" fill="#781400" opacity="0.75"/>
<circle cx="287.0" cy="27.5" r="2.2" fill="#781400" opacity="0.75"/>
<circle cx="315.7" cy="30.3" r="0.9" fill="#600c00" opacity="0.75"/>
<circle cx="296.7" cy="77.5" r="0.9" fill="#600c00" opacity="0.75"/>
<circle cx="351.8" cy="23.2" r="2.1" fill="#6a0e00" opacity="0.75"/>
<circle cx="302.3" cy="106.7" r="2.0" fill="#c84008" opacity="0.75"/>
<circle cx="290.1" cy="98.6" r="2.8" fill="#e05a0c" opacity="0.75"/>
<circle cx="293.9" cy="36.3" r="1.0" fill="#600c00" opacity="0.75"/>
<circle cx="371.3" cy="102.6" r="2.5" fill="#600c00" opacity="0.75"/>
<circle cx="359.9" cy="76.4" r="1.4" fill="#600c00" opacity="0.75"/>
<circle cx="296.2" cy="91.4" r="2.2" fill="#6a0e00" opacity="0.75"/>
<circle cx="313.4" cy="56.8" r="0.8" fill="#6a0e00" opacity="0.75"/>
<circle cx="369.6" cy="21.6" r="2.5" fill="#6a0e00" opacity="0.75"/>
<circle cx="354.8" cy="73.6" r="1.8" fill="#6a0e00" opacity="0.75"/>
<circle cx="340.9" cy="19.9" r="1.7" fill="#e05a0c" opacity="0.75"/>
<circle cx="331.7" cy="26.2" r="1.8" fill="#600c00" opacity="0.75"/>
<circle cx="333.5" cy="37.4" r="2.7" fill="#600c00" opacity="0.75"/>
<circle cx="336.9" cy="44.0" r="1.8" fill="#f07a18" opacity="0.75"/>
<circle cx="302.6" cy="88.6" r="3.0" fill="#600c00" opacity="0.75"/>
<circle cx="316.0" cy="26.0" r="2.3" fill="#901c00" opacity="0.75"/>
<circle cx="301.0" cy="63.5" r="1.6" fill="#901c00" opacity="0.75"/>
<circle cx="331.4" cy="71.3" r="1.1" fill="#901c00" opacity="0.75"/>
<circle cx="303.8" cy="82.8" r="1.9" fill="#600c00" opacity="0.75"/>
<circle cx="370.4" cy="89.1" r="1.9" fill="#c84008" opacity="0.75"/>
<circle cx="335.6" cy="26.8" r="1.5" fill="#600c00" opacity="0.75"/>
<circle cx="320.9" cy="54.1" r="2.8" fill="#600c00" opacity="0.75"/>
<circle cx="322.8" cy="77.7" r="1.6" fill="#6a0e00" opacity="0.75"/>
<circle cx="308.2" cy="101.7" r="1.9" fill="#e05a0c" opacity="0.75"/>
<circle cx="374.4" cy="76.3" r="2.9" fill="#781400" opacity="0.75"/>
<circle cx="332.9" cy="87.9" r="2.5" fill="#c84008" opacity="0.75"/>
<circle cx="287.1" cy="71.7" r="1.9" fill="#901c00" opacity="0.75"/>
<circle cx="361.6" cy="79.2" r="2.4" fill="#781400" opacity="0.75"/>
<circle cx="326.6" cy="81.8" r="1.4" fill="#781400" opacity="0.75"/>
<circle cx="295.6" cy="60.4" r="2.7" fill="#781400" opacity="0.75"/>
<circle cx="330.7" cy="42.1" r="2.5" fill="#901c00" opacity="0.75"/>
<circle cx="361.6" cy="31.5" r="1.1" fill="#781400" opacity="0.75"/>
<circle cx="350.5" cy="73.7" r="1.6" fill="#781400" opacity="0.75"/>
<circle cx="314.2" cy="34.8" r="2.9" fill="#c84008" opacity="0.75"/>
<circle cx="375.5" cy="32.5" r="2.2" fill="#781400" opacity="0.75"/>
<circle cx="319.3" cy="109.5" r="2.5" fill="#c84008" opacity="0.75"/>
<circle cx="311.4" cy="42.7" r="1.0" fill="#600c00" opacity="0.75"/>
<circle cx="309.8" cy="100.2" r="1.8" fill="#600c00" opacity="0.75"/>
<circle cx="320.7" cy="91.4" r="2.3" fill="#f07a18" opacity="0.75"/>
<circle cx="374.2" cy="44.8" r="0.8" fill="#6a0e00" opacity="0.75"/>
<circle cx="339.5" cy="55.0" r="2.4" fill="#901c00" opacity="0.75"/>
<circle cx="323.6" cy="71.0" r="2.4" fill="#e05a0c" opacity="0.75"/>
<circle cx="361.8" cy="79.8" r="2.2" fill="#901c00" opacity="0.75"/>
<circle cx="343.0" cy="71.9" r="1.3" fill="#781400" opacity="0.75"/>
<circle cx="343.0" cy="59.7" r="1.5" fill="#c84008" opacity="0.75"/>
<circle cx="348.5" cy="101.1" r="1.3" fill="#e05a0c" opacity="0.75"/>
<circle cx="349.6" cy="76.2" r="1.4" fill="#e05a0c" opacity="0.75"/>
<circle cx="328.4" cy="18.8" r="2.7" fill="#f07a18" opacity="0.75"/>
<circle cx="346.1" cy="104.4" r="1.2" fill="#c84008" opacity="0.75"/>
<circle cx="314.2" cy="18.0" r="2.6" fill="#600c00" opacity="0.75"/>
<circle cx="287.5" cy="68.1" r="1.2" fill="#901c00" opacity="0.75"/>
<circle cx="371.5" cy="35.8" r="1.6" fill="#901c00" opacity="0.75"/>
<circle cx="336.9" cy="67.9" r="2.4" fill="#f07a18" opacity="0.75"/>
<circle cx="285.5" cy="91.5" r="1.6" fill="#6a0e00" opacity="0.75"/>
<circle cx="321.8" cy="106.1" r="1.3" fill="#c84008" opacity="0.75"/>
<circle cx="300.9" cy="65.3" r="2.9" fill="#c84008" opacity="0.75"/>
<circle cx="374.6" cy="50.4" r="0.9" fill="#6a0e00" opacity="0.75"/>
<circle cx="319.1" cy="22.8" r="1.0" fill="#e05a0c" opacity="0.75"/>
<circle cx="341.8" cy="80.4" r="2.1" fill="#600c00" opacity="0.75"/>
<circle cx="304.6" cy="86.7" r="2.9" fill="#f07a18" opacity="0.75"/>
<circle cx="373.4" cy="110.5" r="2.9" fill="#e05a0c" opacity="0.75"/>
<circle cx="303.5" cy="29.2" r="2.5" fill="#901c00" opacity="0.75"/>
<circle cx="357.5" cy="35.2" r="2.2" fill="#c84008" opacity="0.75"/>
<circle cx="304.8" cy="107.6" r="1.6" fill="#c84008" opacity="0.75"/>
<circle cx="360.4" cy="91.8" r="1.7" fill="#6a0e00" opacity="0.75"/>
<circle cx="353.9" cy="78.1" r="2.5" fill="#e05a0c" opacity="0.75"/>
<circle cx="316.6" cy="97.0" r="1.4" fill="#e05a0c" opacity="0.75"/>
<circle cx="347.2" cy="109.4" r="2.3" fill="#e05a0c" opacity="0.75"/>
<circle cx="284.2" cy="84.8" r="1.4" fill="#781400" opacity="0.75"/>
<circle cx="344.2" cy="47.1" r="1.9" fill="#f07a18" opacity="0.75"/>
<circle cx="342.6" cy="79.0" r="1.6" fill="#6a0e00" opacity="0.75"/>
<circle cx="362.6" cy="22.4" r="2.6" fill="#6a0e00" opacity="0.75"/>
<circle cx="356.1" cy="30.2" r="2.6" fill="#c84008" opacity="0.75"/>
<circle cx="337.6" cy="78.8" r="1.3" fill="#600c00" opacity="0.75"/>
<circle cx="344.3" cy="40.5" r="1.0" fill="#781400" opacity="0.75"/>
<circle cx="362.6" cy="34.5" r="1.8" fill="#901c00" opacity="0.75"/>
<circle cx="298.0" cy="102.0" r="2.5" fill="#781400" opacity="0.75"/>
<circle cx="340.1" cy="81.7" r="2.9" fill="#600c00" opacity="0.75"/>
<circle cx="345.5" cy="101.0" r="2.5" fill="#901c00" opacity="0.75"/>
<circle cx="311.3" cy="63.5" r="1.3" fill="#600c00" opacity="0.75"/>
<circle cx="352.3" cy="58.2" r="2.7" fill="#f07a18" opacity="0.75"/>
<circle cx="294.9" cy="56.4" r="2.6" fill="#e05a0c" opacity="0.75"/>
<circle cx="329.4" cy="22.5" r="1.8" fill="#781400" opacity="0.75"/>
<circle cx="348.4" cy="40.2" r="1.2" fill="#f07a18" opacity="0.75"/>
<circle cx="363.4" cy="17.6" r="2.6" fill="#e05a0c" opacity="0.75"/>
<circle cx="348.0" cy="63.8" r="1.5" fill="#e05a0c" opacity="0.75"/>
<circle cx="318.5" cy="56.4" r="2.9" fill="#600c00" opacity="0.75"/>
<circle cx="300.6" cy="50.9" r="2.2" fill="#600c00" opacity="0.75"/>
<path d="M339.9,80.8 Q330.5,89.8 327.9,102.5" stroke="#ff9a20" stroke-width="1.5" fill="none" opacity="0.9"/>
<path d="M328.6,100.6 Q328.7,96.2 326.9,92.1" stroke="#f8a030" stroke-width="0.8" fill="none" opacity="0.9"/>
<path d="M362.6,51.7 Q354.7,48.2 346.2,49.0" stroke="#ffeaa0" stroke-width="1.2" fill="none" opacity="0.9"/>
<path d="M324.2,56.9 Q326.9,48.1 332.5,40.9" stroke="#f08018" stroke-width="1.5" fill="none" opacity="0.9"/>
<path d="M321.3,64.3 Q315.0,60.3 308.5,63.8" stroke="#fff4c0" stroke-width="1.5" fill="none" opacity="0.9"/>
<path d="M356.3,48.4 Q353.5,54.8 352.1,61.5" stroke="#fff4c0" stroke-width="0.8" fill="none" opacity="0.9"/>
<path d="M355.6,21.7 Q363.7,15.0 371.4,7.9" stroke="#ffd860" stroke-width="1.5" fill="none" opacity="0.9"/>
<path d="M312.0,18.6 Q317.5,16.6 322.1,13.2" stroke="#fff4c0" stroke-width="0.8" fill="none" opacity="0.9"/>
<path d="M356.0,101.7 Q349.6,94.6 341.9,89.0" stroke="#fff4c0" stroke-width="1.8" fill="none" opacity="0.9"/>
<path d="M363.9,25.6 Q361.7,21.7 358.1,19.2" stroke="#ffeaa0" stroke-width="0.8" fill="none" opacity="0.9"/>
<path d="M344.7,98.0 Q349.0,105.4 357.3,107.2" stroke="#ffd860" stroke-width="1.2" fill="none" opacity="0.9"/>
<path d="M363.5,30.8 Q364.6,23.5 360.1,17.6" stroke="#ffeaa0" stroke-width="1.5" fill="none" opacity="0.9"/>
<path d="M288.1,19.9 Q281.6,12.7 272.0,11.3" stroke="#ffc040" stroke-width="1.8" fill="none" opacity="0.9"/>
<path d="M332.0,93.9 Q321.6,97.7 312.7,104.3" stroke="#ffc040" stroke-width="1.5" fill="none" opacity="0.9"/>
<path d="M291.0,80.6 Q300.4,81.4 309.7,79.7" stroke="#ffeaa0" stroke-width="1.5" fill="none" opacity="0.9"/>
<path d="M354.3,68.5 Q349.1,66.2 344.9,70.1" stroke="#fff4c0" stroke-width="0.8" fill="none" opacity="0.9"/>
<path d="M323.4,18.9 Q333.7,20.9 343.4,17.2" stroke="#ffeaa0" stroke-width="0.8" fill="none" opacity="0.9"/>
<path d="M296.6,19.6 Q295.2,30.2 297.6,40.6" stroke="#ffeaa0" stroke-width="0.8" fill="none" opacity="0.9"/>
<path d="M317.9,86.7 Q322.6,96.1 330.5,102.9" stroke="#f8a030" stroke-width="1.8" fill="none" opacity="0.9"/>
<path d="M348.8,60.4 Q344.8,72.7 348.2,85.1" stroke="#fff4c0" stroke-width="0.8" fill="none" opacity="0.9"/>
<path d="M286.0,19.4 Q287.0,9.0 294.1,1.4" stroke="#f8a030" stroke-width="1.2" fill="none" opacity="0.9"/>
<path d="M350.6,33.3 Q339.2,37.8 327.2,35.3" stroke="#f8a030" stroke-width="1.8" fill="none" opacity="0.9"/>
<path d="M350.5,61.2 Q355.2,57.1 361.3,58.9" stroke="#fff4c0" stroke-width="1.0" fill="none" opacity="0.9"/>
<path d="M341.7,56.5 Q346.8,50.0 345.0,41.9" stroke="#f08018" stroke-width="1.8" fill="none" opacity="0.9"/>
<path d="M315.0,43.8 Q311.4,34.5 303.9,28.2" stroke="#ff9a20" stroke-width="1.2" fill="none" opacity="0.9"/>
<path d="M363.3,84.8 Q363.5,89.7 368.1,91.5" stroke="#ff9a20" stroke-width="1.5" fill="none" opacity="0.9"/>
<path d="M372.9,40.6 Q366.0,44.3 362.2,51.1" stroke="#ffeaa0" stroke-width="1.5" fill="none" opacity="0.9"/>
<path d="M310.5,18.2 Q304.5,20.5 299.2,24.1" stroke="#f08018" stroke-width="0.8" fill="none" opacity="0.9"/>
<path d="M311.0,30.9 Q322.8,27.6 335.0,29.9" stroke="#f08018" stroke-width="1.8" fill="none" opacity="0.9"/>
<path d="M346.6,102.1 Q352.5,106.1 358.9,109.3" stroke="#f08018" stroke-width="1.5" fill="none" opacity="0.9"/>
<path d="M303.0,87.0 Q303.4,99.4 305.5,111.7" stroke="#fff4c0" stroke-width="1.5" fill="none" opacity="0.9"/>
<path d="M326.9,37.0 Q329.3,30.7 327.0,24.4" stroke="#ffc040" stroke-width="1.8" fill="none" opacity="0.9"/>
<path d="M292.9,92.2 Q293.4,103.2 295.2,114.0" stroke="#f8a030" stroke-width="1.8" fill="none" opacity="0.9"/>
<path d="M313.9,64.6 Q318.4,69.5 316.6,75.9" stroke="#f08018" stroke-width="1.2" fill="none" opacity="0.9"/>
<path d="M317.7,69.9 Q309.8,71.9 302.5,68.3" stroke="#ffd860" stroke-width="1.5" fill="none" opacity="0.9"/>
<path d="M318.7,27.8 Q318.2,17.7 323.2,8.9" stroke="#ff9a20" stroke-width="0.8" fill="none" opacity="0.9"/>
<path d="M316.0,65.8 Q319.3,70.5 324.2,67.5" stroke="#f08018" stroke-width="1.8" fill="none" opacity="0.9"/>
<path d="M328.8,70.2 Q329.3,63.8 331.1,57.7" stroke="#ffc040" stroke-width="1.8" fill="none" opacity="0.9"/>
<path d="M358.7,106.6 Q365.4,105.8 370.9,109.6" stroke="#ffeaa0" stroke-width="1.5" fill="none" opacity="0.9"/>
<path d="M292.5,22.7 Q298.5,15.9 304.9,9.6" stroke="#f08018" stroke-width="0.8" fill="none" opacity="0.9"/>
<path d="M362.7,76.9 Q356.2,65.9 356.0,53.2" stroke="#f8a030" stroke-width="1.8" fill="none" opacity="0.9"/>
<path d="M306.0,26.3 Q293.6,28.3 281.4,25.3" stroke="#f08018" stroke-width="1.0" fill="none" opacity="0.9"/>
<path d="M318.4,39.6 Q320.2,50.5 328.2,58.1" stroke="#f8a030" stroke-width="0.8" fill="none" opacity="0.9"/>
<path d="M366.2,101.2 Q376.6,106.8 388.3,107.9" stroke="#fff4c0" stroke-width="1.5" fill="none" opacity="0.9"/>
<path d="M290.0,31.3 Q300.6,28.6 310.1,23.3" stroke="#f8a030" stroke-width="1.8" fill="none" opacity="0.9"/>
<path d="M338.2,87.7 Q337.8,93.0 333.8,96.6" stroke="#ffd860" stroke-width="1.2" fill="none" opacity="0.9"/>
<path d="M328.3,33.5 Q331.0,39.2 336.0,43.1" stroke="#ffd860" stroke-width="1.5" fill="none" opacity="0.9"/>
<path d="M349.6,35.9 Q352.5,32.0 357.3,32.2" stroke="#ff9a20" stroke-width="1.2" fill="none" opacity="0.9"/>
<path d="M365.0,30.9 Q369.6,38.3 378.1,40.0" stroke="#f08018" stroke-width="0.8" fill="none" opacity="0.9"/>
<path d="M341.6,59.6 Q344.5,53.2 347.8,47.0" stroke="#fff4c0" stroke-width="1.2" fill="none" opacity="0.9"/>
<path d="M297.8,38.4 Q297.2,33.9 295.8,29.6" stroke="#ffeaa0" stroke-width="1.5" fill="none" opacity="0.9"/>
<path d="M363.4,42.5 Q369.2,47.9 372.0,55.3" stroke="#f08018" stroke-width="1.2" fill="none" opacity="0.9"/>
<path d="M315.1,33.4 Q308.7,39.8 308.1,48.8" stroke="#ffd860" stroke-width="1.0" fill="none" opacity="0.9"/>
<path d="M373.1,23.2 Q365.1,13.9 361.2,2.2" stroke="#ffc040" stroke-width="1.2" fill="none" opacity="0.9"/>
<path d="M295.7,87.4 Q284.9,94.5 272.5,98.0" stroke="#ffeaa0" stroke-width="1.0" fill="none" opacity="0.9"/>
<path d="M293.8,44.6 Q304.4,50.6 316.4,53.2" stroke="#f8a030" stroke-width="1.0" fill="none" opacity="0.9"/>
<path d="M373.1,19.5 Q369.4,30.5 360.9,38.4" stroke="#ffd860" stroke-width="1.8" fill="none" opacity="0.9"/>
<path d="M310.8,51.1 Q308.1,55.0 303.4,55.9" stroke="#ffeaa0" stroke-width="1.0" fill="none" opacity="0.9"/>
<path d="M360.9,66.0 Q362.9,71.8 366.4,76.8" stroke="#f08018" stroke-width="0.8" fill="none" opacity="0.9"/>
<path d="M365.0,85.2 Q372.5,93.6 374.9,104.6" stroke="#fff4c0" stroke-width="1.0" fill="none" opacity="0.9"/>
<path d="M337.5,36.6 Q336.2,32.1 336.5,27.5" stroke="#fff4c0" stroke-width="0.8" fill="none" opacity="0.9"/>
<path d="M331.7,50.0 Q330.2,42.7 323.3,40.0" stroke="#ffd860" stroke-width="0.8" fill="none" opacity="0.9"/>
<path d="M321.9,88.2 Q317.5,84.7 316.6,79.2" stroke="#ff9a20" stroke-width="1.2" fill="none" opacity="0.9"/>
<path d="M288.3,82.6 Q293.2,74.7 299.8,68.3" stroke="#ffc040" stroke-width="1.8" fill="none" opacity="0.9"/>
<path d="M291.4,50.8 Q297.3,47.0 297.4,39.9" stroke="#f08018" stroke-width="1.5" fill="none" opacity="0.9"/>
<path d="M336.9,100.6 Q340.9,106.2 347.2,108.9" stroke="#ffc040" stroke-width="1.8" fill="none" opacity="0.9"/>
<path d="M287.3,92.0 Q290.8,97.1 287.7,102.4" stroke="#ff9a20" stroke-width="1.0" fill="none" opacity="0.9"/>
<path d="M300.1,46.7 Q307.7,40.5 317.4,41.7" stroke="#fff4c0" stroke-width="1.0" fill="none" opacity="0.9"/>
<path d="M308.5,95.0 Q299.5,99.3 289.6,99.4" stroke="#ffc040" stroke-width="0.8" fill="none" opacity="0.9"/>
<path d="M316.6,26.6 Q316.0,32.2 314.9,37.7" stroke="#ff9a20" stroke-width="1.8" fill="none" opacity="0.9"/>
<path d="M353.5,28.1 Q357.6,25.0 361.2,21.4" stroke="#ffeaa0" stroke-width="1.0" fill="none" opacity="0.9"/>
<path d="M298.2,70.7 Q301.5,81.2 309.2,89.1" stroke="#fff4c0" stroke-width="1.5" fill="none" opacity="0.9"/>
<path d="M347.4,72.9 Q355.8,78.7 365.8,77.2" stroke="#ffd860" stroke-width="1.2" fill="none" opacity="0.9"/>
<path d="M315.5,40.1 Q307.5,39.3 302.6,45.6" stroke="#f08018" stroke-width="1.2" fill="none" opacity="0.9"/>
<path d="M358.4,96.0 Q354.3,91.9 349.4,95.0" stroke="#f8a030" stroke-width="1.0" fill="none" opacity="0.9"/>
<path d="M363.3,79.0 Q368.1,79.7 369.7,84.2" stroke="#f8a030" stroke-width="1.5" fill="none" opacity="0.9"/>
<path d="M303.1,79.6 Q298.2,83.2 292.5,85.3" stroke="#ffc040" stroke-width="0.8" fill="none" opacity="0.9"/>
<path d="M357.8,99.4 Q369.3,103.0 381.2,104.5" stroke="#f8a030" stroke-width="1.8" fill="none" opacity="0.9"/>
<path d="M309.6,67.9 Q299.3,60.8 291.8,50.9" stroke="#ff9a20" stroke-width="0.8" fill="none" opacity="0.9"/>
<path d="M324.0,105.5 Q320.7,111.3 319.5,117.9" stroke="#ffd860" stroke-width="0.8" fill="none" opacity="0.9"/>
<path d="M338.5,106.0 Q337.8,114.6 336.5,123.1" stroke="#ff9a20" stroke-width="1.0" fill="none" opacity="0.9"/>
<path d="M324.6,65.1 Q335.2,59.6 345.2,53.0" stroke="#f8a030" stroke-width="1.0" fill="none" opacity="0.9"/>
<path d="M351.2,86.1 Q344.5,86.5 338.6,89.9" stroke="#ffeaa0" stroke-width="1.5" fill="none" opacity="0.9"/>
<path d="M303.1,83.4 Q295.6,80.1 287.5,78.5" stroke="#ffc040" stroke-width="1.2" fill="none" opacity="0.9"/>
<path d="M287.8,48.7 Q283.4,43.5 276.9,45.5" stroke="#ffc040" stroke-width="0.8" fill="none" opacity="0.9"/>
<path d="M368.2,32.9 Q363.8,44.8 356.9,55.4" stroke="#f8a030" stroke-width="1.2" fill="none" opacity="0.9"/>
<path d="M364.1,37.9 Q368.5,38.9 373.0,39.1" stroke="#ff9a20" stroke-width="1.2" fill="none" opacity="0.9"/>
<path d="M324.6,23.7 Q316.9,24.7 310.7,29.2" stroke="#ffd860" stroke-width="1.8" fill="none" opacity="0.9"/>
<path d="M305.3,106.3 Q312.4,114.3 317.3,123.8" stroke="#f8a030" stroke-width="1.0" fill="none" opacity="0.9"/>
<path d="M345.8,74.7 Q350.9,64.3 355.9,53.7" stroke="#fff4c0" stroke-width="1.5" fill="none" opacity="0.9"/>
<path d="M309.2,76.0 Q305.7,66.9 303.6,57.5" stroke="#ffd860" stroke-width="0.8" fill="none" opacity="0.9"/>
<path d="M321.9,68.6 Q315.5,68.5 313.8,74.7" stroke="#ffeaa0" stroke-width="1.5" fill="none" opacity="0.9"/>
<path d="M361.5,43.7 Q367.0,52.0 376.2,56.0" stroke="#fff4c0" stroke-width="1.5" fill="none" opacity="0.9"/>
<path d="M310.9,50.4 Q304.0,48.5 296.8,48.1" stroke="#fff4c0" stroke-width="1.2" fill="none" opacity="0.9"/>
<path d="M285.6,86.6 Q277.3,96.6 266.7,104.2" stroke="#ff9a20" stroke-width="1.2" fill="none" opacity="0.9"/>
<path d="M357.3,58.1 Q355.5,65.7 358.9,72.8" stroke="#f8a030" stroke-width="1.2" fill="none" opacity="0.9"/>
<path d="M372.2,73.9 Q366.0,77.7 366.5,84.9" stroke="#ffd860" stroke-width="0.8" fill="none" opacity="0.9"/>
<path d="M289.3,70.0 Q297.8,67.8 304.1,61.8" stroke="#ff9a20" stroke-width="1.8" fill="none" opacity="0.9"/>
<path d="M374.8,65.6 Q370.6,58.0 368.0,49.7" stroke="#f8a030" stroke-width="0.8" fill="none" opacity="0.9"/>
<path d="M338.5,50.3 Q333.1,39.0 327.4,27.9" stroke="#ffd860" stroke-width="1.5" fill="none" opacity="0.9"/>
<path d="M318.7,54.9 Q312.0,48.1 302.5,46.8" stroke="#ffc040" stroke-width="1.5" fill="none" opacity="0.9"/>
<path d="M321.1,88.6 Q311.6,81.0 300.5,76.0" stroke="#fff4c0" stroke-width="0.8" fill="none" opacity="0.9"/>
<path d="M300.4,47.3 Q306.3,35.9 312.1,24.5" stroke="#ffd860" stroke-width="1.2" fill="none" opacity="0.9"/>
<path d="M347.1,93.5 Q356.5,84.7 366.8,76.8" stroke="#ffeaa0" stroke-width="1.8" fill="none" opacity="0.9"/>
<path d="M311.1,65.1 Q316.7,72.0 317.6,80.9" stroke="#fff4c0" stroke-width="1.8" fill="none" opacity="0.9"/>
<path d="M339.3,50.5 Q328.0,43.1 322.3,30.9" stroke="#ffc040" stroke-width="0.8" fill="none" opacity="0.9"/>
<path d="M355.9,46.2 Q366.1,44.9 376.3,46.7" stroke="#f08018" stroke-width="0.8" fill="none" opacity="0.9"/>
<path d="M337.8,79.5 Q332.0,79.1 326.2,79.6" stroke="#f8a030" stroke-width="1.8" fill="none" opacity="0.9"/>
<path d="M331.3,31.2 Q325.0,30.0 322.0,24.3" stroke="#ff9a20" stroke-width="1.8" fill="none" opacity="0.9"/>
<path d="M294.6,27.2 Q289.5,23.9 283.6,25.7" stroke="#ff9a20" stroke-width="1.5" fill="none" opacity="0.9"/>
<path d="M357.6,23.7 Q356.7,19.5 358.7,15.6" stroke="#fff4c0" stroke-width="1.0" fill="none" opacity="0.9"/>
<path d="M316.8,33.6 Q320.1,40.0 327.2,41.1" stroke="#ff9a20" stroke-width="0.8" fill="none" opacity="0.9"/>
<path d="M316.4,59.4 Q322.4,64.8 330.5,64.4" stroke="#ff9a20" stroke-width="0.8" fill="none" opacity="0.9"/>
<path d="M324.6,75.1 Q329.6,80.1 336.6,78.5" stroke="#f08018" stroke-width="1.0" fill="none" opacity="0.9"/>
<path d="M313.3,100.7 Q308.8,111.1 305.8,122.1" stroke="#ffc040" stroke-width="0.8" fill="none" opacity="0.9"/>
<path d="M306.9,53.9 Q310.2,63.9 310.6,74.5" stroke="#fff4c0" stroke-width="1.5" fill="none" opacity="0.9"/>
<path d="M287.0,97.9 Q290.2,101.6 291.6,106.3" stroke="#ffd860" stroke-width="1.2" fill="none" opacity="0.9"/>
<path d="M320.6,51.4 Q324.5,45.4 330.3,41.3" stroke="#fff4c0" stroke-width="0.8" fill="none" opacity="0.9"/>
<path d="M371.5,56.8 Q359.7,53.6 348.5,48.7" stroke="#ffc040" stroke-width="1.2" fill="none" opacity="0.9"/>
<path d="M316.0,58.1 Q322.0,61.5 328.9,60.1" stroke="#ffeaa0" stroke-width="1.0" fill="none" opacity="0.9"/>
<path d="M293.3,42.8 Q301.7,50.8 309.3,59.4" stroke="#f08018" stroke-width="1.0" fill="none" opacity="0.9"/>
<path d="M299.3,50.5 Q289.3,55.2 284.3,65.1" stroke="#ffeaa0" stroke-width="1.2" fill="none" opacity="0.9"/>
<path d="M370.6,64.4 Q365.7,69.0 359.0,68.0" stroke="#fff4c0" stroke-width="1.2" fill="none" opacity="0.9"/>
<path d="M338.6,58.5 Q325.9,56.5 313.4,52.9" stroke="#ff9a20" stroke-width="1.0" fill="none" opacity="0.9"/>
<path d="M296.3,87.1 Q303.2,94.9 313.3,98.0" stroke="#fff4c0" stroke-width="1.5" fill="none" opacity="0.9"/>
<path d="M287.6,84.1 Q292.7,86.3 298.1,85.1" stroke="#fff4c0" stroke-width="1.0" fill="none" opacity="0.9"/>
<path d="M354.9,39.3 Q357.1,33.0 363.7,32.1" stroke="#f8a030" stroke-width="1.8" fill="none" opacity="0.9"/>
<path d="M353.3,35.7 Q363.1,39.8 371.1,46.7" stroke="#f08018" stroke-width="1.5" fill="none" opacity="0.9"/>
<path d="M310.4,55.1 Q315.3,43.6 314.2,31.1" stroke="#f08018" stroke-width="1.0" fill="none" opacity="0.9"/>
<path d="M369.3,34.2 Q373.0,27.7 373.8,20.3" stroke="#ffc040" stroke-width="0.8" fill="none" opacity="0.9"/>
<path d="M344.3,82.3 Q346.9,76.5 351.4,72.1" stroke="#fff4c0" stroke-width="0.8" fill="none" opacity="0.9"/>
<path d="M301.3,28.6 Q301.8,16.3 298.9,4.3" stroke="#ffd860" stroke-width="1.5" fill="none" opacity="0.9"/>
<path d="M288.6,32.9 Q287.6,38.7 284.8,43.8" stroke="#ffd860" stroke-width="1.8" fill="none" opacity="0.9"/>
<path d="M313.0,76.7 Q316.5,72.3 319.0,67.2" stroke="#fff4c0" stroke-width="1.8" fill="none" opacity="0.9"/>
<path d="M307.9,58.0 Q305.2,68.6 296.1,74.5" stroke="#f08018" stroke-width="1.2" fill="none" opacity="0.9"/>
<path d="M366.1,98.5 Q366.6,88.5 359.9,81.0" stroke="#fff4c0" stroke-width="0.8" fill="none" opacity="0.9"/>
<path d="M288.3,47.3 Q279.4,54.5 275.9,65.4" stroke="#ffc040" stroke-width="1.5" fill="none" opacity="0.9"/>
<path d="M374.8,74.6 Q368.7,74.8 363.0,72.6" stroke="#ffc040" stroke-width="1.5" fill="none" opacity="0.9"/>
<path d="M368.7,81.6 Q374.7,72.8 379.0,63.0" stroke="#ffc040" stroke-width="1.8" fill="none" opacity="0.9"/>
<path d="M289.9,82.2 Q282.3,78.2 274.2,81.1" stroke="#ffeaa0" stroke-width="1.5" fill="none" opacity="0.9"/>
<path d="M353.6,22.0 Q355.3,11.7 360.7,2.6" stroke="#ff9a20" stroke-width="1.0" fill="none" opacity="0.9"/>
<path d="M372.2,76.7 Q375.8,85.5 372.3,94.4" stroke="#f8a030" stroke-width="1.2" fill="none" opacity="0.9"/>
<path d="M322.0,36.5 Q325.2,42.8 330.9,46.8" stroke="#fff4c0" stroke-width="1.5" fill="none" opacity="0.9"/>
<path d="M306.4,40.2 Q297.1,39.9 290.2,46.1" stroke="#f8a030" stroke-width="1.2" fill="none" opacity="0.9"/>
<path d="M297.0,83.1 Q296.5,92.4 298.1,101.7" stroke="#ffd860" stroke-width="1.8" fill="none" opacity="0.9"/>
<path d="M323.2,104.6 Q325.7,115.1 334.6,121.3" stroke="#f08018" stroke-width="1.5" fill="none" opacity="0.9"/>
<path d="M359.8,28.5 Q357.4,35.1 351.4,38.7" stroke="#ffd860" stroke-width="1.2" fill="none" opacity="0.9"/>
<path d="M312.4,28.2 Q318.3,24.0 325.5,25.0" stroke="#ffc040" stroke-width="1.5" fill="none" opacity="0.9"/>
<path d="M336.2,44.6 Q344.9,46.9 353.5,49.7" stroke="#f08018" stroke-width="1.5" fill="none" opacity="0.9"/>
<path d="M292.6,84.0 Q279.5,81.9 268.9,74.0" stroke="#ffc040" stroke-width="1.5" fill="none" opacity="0.9"/>
<path d="M329.0,90.1 Q327.1,97.5 320.2,100.8" stroke="#f8a030" stroke-width="1.8" fill="none" opacity="0.9"/>
<path d="M369.2,78.0 Q372.2,84.2 369.5,90.6" stroke="#ffd860" stroke-width="0.8" fill="none" opacity="0.9"/>
<path d="M354.7,95.2 Q356.3,101.8 359.9,107.5" stroke="#f08018" stroke-width="1.0" fill="none" opacity="0.9"/>
<path d="M294.2,84.1 Q288.5,80.3 284.1,75.0" stroke="#fff4c0" stroke-width="1.2" fill="none" opacity="0.9"/>
<path d="M313.8,51.9 Q305.8,56.7 301.6,65.0" stroke="#ffeaa0" stroke-width="0.8" fill="none" opacity="0.9"/>
<path d="M288.7,70.2 Q294.3,62.1 296.9,52.7" stroke="#ffd860" stroke-width="1.0" fill="none" opacity="0.9"/>
<path d="M329.5,64.0 Q327.2,68.9 326.2,74.3" stroke="#ffd860" stroke-width="1.0" fill="none" opacity="0.9"/>
<path d="M346.9,33.1 Q354.1,28.3 362.6,30.0" stroke="#ffd860" stroke-width="1.5" fill="none" opacity="0.9"/>
<path d="M328.1,38.1 Q335.2,40.4 342.6,41.0" stroke="#f08018" stroke-width="1.8" fill="none" opacity="0.9"/>
<path d="M323.3,44.1 Q313.3,43.8 303.5,42.2" stroke="#f8a030" stroke-width="0.8" fill="none" opacity="0.9"/>
<path d="M324.5,79.3 Q332.4,70.6 343.3,66.3" stroke="#f8a030" stroke-width="0.8" fill="none" opacity="0.9"/>
<path d="M324.9,69.8 Q330.4,75.4 329.7,83.3" stroke="#f8a030" stroke-width="1.8" fill="none" opacity="0.9"/>
<path d="M326.4,107.4 Q337.4,100.8 342.6,89.1" stroke="#ff9a20" stroke-width="1.8" fill="none" opacity="0.9"/>
<path d="M292.3,92.5 Q286.1,101.0 282.0,110.8" stroke="#ff9a20" stroke-width="1.8" fill="none" opacity="0.9"/>
<path d="M322.9,51.9 Q327.2,61.3 335.8,66.9" stroke="#ff9a20" stroke-width="0.8" fill="none" opacity="0.9"/>
<path d="M361.3,38.5 Q354.9,29.5 353.7,18.6" stroke="#ff9a20" stroke-width="1.2" fill="none" opacity="0.9"/>
<path d="M334.9,104.8 Q335.9,112.0 335.8,119.2" stroke="#f8a030" stroke-width="0.8" fill="none" opacity="0.9"/>
<path d="M305.5,107.1 Q303.2,101.3 305.4,95.5" stroke="#f08018" stroke-width="1.2" fill="none" opacity="0.9"/>
<path d="M343.5,35.3 Q338.8,26.1 338.4,15.8" stroke="#ffc040" stroke-width="1.0" fill="none" opacity="0.9"/>
<path d="M333.7,82.1 Q342.9,76.8 351.6,70.6" stroke="#f08018" stroke-width="1.5" fill="none" opacity="0.9"/>
</g></g>
<text x="326" y="99" font-family="Liberation Sans" font-size="14" font-weight="bold" fill="#fff" textLength="40" lengthAdjust="spacingAndGlyphs"  style="">1 μm</text>
<rect x="324.5" y="103.5" width="45" height="2.6" fill="#fff"/>
<polygon points="92.0,118.0 262.0,107.0 347.5,166.5 81.0,194.0" fill="url(#gTop)" />
<polygon points="81.0,194.0 347.5,166.5 344.0,191.6 86.0,224.0" fill="url(#gFront)" />
<polygon points="300.0,169.5 347.5,166.5 344.0,191.6" fill="#b4b6c0" />
<polygon points="80.0,195.0 85.0,194.5 88.0,236.0 86.0,236.0" fill="#c4c6d4" />
<polygon points="86.0,224.0 344.0,191.6 343.0,201.3 87.0,237.0" fill="#0d3cc0" />
<polygon points="87.0,237.0 343.0,201.3 340.0,230.0 89.0,267.5" fill="#000" />
<filter id="shblur" x="-0.3" y="-0.5" width="1.6" height="2"><feGaussianBlur stdDeviation="1.6"/></filter>
<polygon points="104.0,194.5 134.0,191.5 134.0,204.0 104.0,206.0" fill="#1c2448" opacity="0.75" filter="url(#shblur)"/>
<polygon points="287.0,175.5 320.0,172.0 320.0,185.0 287.0,188.0" fill="#1c2448" opacity="0.7" filter="url(#shblur)"/>
<polygon points="172.0,190.0 247.0,183.0 247.0,190.0 172.0,197.0" fill="#c8c4c0" opacity="0.6"/>
<polygon points="126.0,126.5 236.0,121.0 238.0,142.0 165.0,146.0 126.0,137.0" fill="#e6dbb6" />
<polygon points="238.6,124.0 256.6,123.0 256.6,129.0 238.6,130.0" fill="#8c9ad4" />
<polygon points="165.5,160.0 250.0,156.0 257.0,171.5 172.0,177.0" fill="#dcd8cc" />
<polygon points="172.0,177.0 257.0,171.5 257.0,185.0 173.0,194.0" fill="#e8dfc2" />
<polygon points="100.3,162.6 142.4,160.5 142.4,174.3 101.0,178.4" fill="#e2d6a2" />
<polygon points="142.4,154.3 176.9,151.5 176.9,163.3 142.4,167.4" fill="#e2d6a2" />
<polygon points="101.7,135.7 125.9,134.3 150.7,137.0 172.8,140.5 176.9,146.0 176.9,151.5 142.4,154.3 142.4,160.5 100.3,162.6" fill="url(#gYel)" />
<polygon points="234.0,140.0 275.0,146.0 300.0,144.0 316.0,141.0 318.0,150.0 300.0,154.0 276.0,157.5 237.0,156.0" fill="#e2d6a2" />
<polygon points="231.0,130.0 255.0,127.0 255.0,124.5 296.0,121.5 316.0,141.0 300.0,144.0 275.0,146.0 234.0,140.0" fill="url(#gYel)" />
<g>
<polygon points="178.0,143.0 237.0,140.0 238.0,158.0 180.0,162.4" fill="#8a8a8a" />
<path d="M179,161.5 l7,-18" stroke="#333" stroke-width="0.8" fill="none"/>
<path d="M179,143.5 l7,17" stroke="#333" stroke-width="0.8" fill="none"/>
<path d="M186,161.0 l7,-18" stroke="#333" stroke-width="0.8" fill="none"/>
<path d="M186,143.1 l7,17" stroke="#333" stroke-width="0.8" fill="none"/>
<path d="M193,160.5 l7,-18" stroke="#333" stroke-width="0.8" fill="none"/>
<path d="M193,142.7 l7,17" stroke="#333" stroke-width="0.8" fill="none"/>
<path d="M200,160.0 l7,-18" stroke="#333" stroke-width="0.8" fill="none"/>
<path d="M200,142.3 l7,17" stroke="#333" stroke-width="0.8" fill="none"/>
<path d="M207,159.5 l7,-18" stroke="#333" stroke-width="0.8" fill="none"/>
<path d="M207,141.9 l7,17" stroke="#333" stroke-width="0.8" fill="none"/>
<path d="M214,159.0 l7,-18" stroke="#333" stroke-width="0.8" fill="none"/>
<path d="M214,141.5 l7,17" stroke="#333" stroke-width="0.8" fill="none"/>
<path d="M221,158.5 l7,-18" stroke="#333" stroke-width="0.8" fill="none"/>
<path d="M221,141.1 l7,17" stroke="#333" stroke-width="0.8" fill="none"/>
<path d="M228,158.0 l7,-18" stroke="#333" stroke-width="0.8" fill="none"/>
<path d="M228,140.7 l7,17" stroke="#333" stroke-width="0.8" fill="none"/>
<path d="M235,157.5 l7,-18" stroke="#333" stroke-width="0.8" fill="none"/>
<path d="M235,140.3 l7,17" stroke="#333" stroke-width="0.8" fill="none"/>
<path d="M179,146.0 L237,142.5" stroke="#3a3a3a" stroke-width="0.8" fill="none"/>
<path d="M179,150.3 L237,146.8" stroke="#3a3a3a" stroke-width="0.8" fill="none"/>
<path d="M179,154.6 L237,151.1" stroke="#3a3a3a" stroke-width="0.8" fill="none"/>
<path d="M179,158.9 L237,155.4" stroke="#3a3a3a" stroke-width="0.8" fill="none"/>
</g>
<ellipse cx="121.7" cy="139.4" rx="4.6" ry="1.8" fill="#222" opacity="0.85"/>
<ellipse cx="132.8" cy="139.4" rx="4.6" ry="1.8" fill="#222" opacity="0.85"/>
<circle cx="121.7" cy="135.3" r="4.8" fill="url(#gH)"/>
<circle cx="132.8" cy="135.3" r="4.8" fill="url(#gH)"/>
<ellipse cx="110.0" cy="152.7" rx="5.1" ry="2.1" fill="#222" opacity="0.85"/>
<ellipse cx="122.4" cy="152.7" rx="5.1" ry="2.1" fill="#222" opacity="0.85"/>
<circle cx="110.0" cy="148.1" r="5.4" fill="url(#gH)"/>
<circle cx="122.4" cy="148.1" r="5.4" fill="url(#gH)"/>
<ellipse cx="154.8" cy="142.8" rx="4.6" ry="1.8" fill="#222" opacity="0.85"/>
<ellipse cx="165.9" cy="142.8" rx="4.6" ry="1.8" fill="#222" opacity="0.85"/>
<circle cx="154.8" cy="138.7" r="4.8" fill="url(#gH)"/>
<circle cx="165.9" cy="138.7" r="4.8" fill="url(#gH)"/>
<ellipse cx="282.6" cy="128.9" rx="4.1" ry="1.6" fill="#222" opacity="0.85"/>
<ellipse cx="291.8" cy="128.9" rx="4.1" ry="1.6" fill="#222" opacity="0.85"/>
<circle cx="282.6" cy="125.2" r="4.3" fill="url(#gH)"/>
<circle cx="291.8" cy="125.2" r="4.3" fill="url(#gH)"/>
<circle cx="189.7" cy="140.7" r="6.6" fill="url(#gN)"/>
<circle cx="183.6" cy="145.5" r="4.9" fill="url(#gO)"/>
<circle cx="195.8" cy="145.5" r="4.9" fill="url(#gO)"/>
<circle cx="202.8" cy="148.9" r="7.3" fill="url(#gN)"/>
<circle cx="196.1" cy="154.3" r="5.4" fill="url(#gO)"/>
<circle cx="209.5" cy="154.3" r="5.4" fill="url(#gO)"/>
<circle cx="90.3" cy="63.8" r="4.7" fill="url(#gN)"/>
<circle cx="86.0" cy="67.2" r="3.5" fill="url(#gO)"/>
<circle cx="94.6" cy="67.2" r="3.5" fill="url(#gO)"/>
<circle cx="120.5" cy="57.3" r="4.7" fill="url(#gN)"/>
<circle cx="116.2" cy="60.7" r="3.5" fill="url(#gO)"/>
<circle cx="124.8" cy="60.7" r="3.5" fill="url(#gO)"/>
<circle cx="131.0" cy="60.5" r="2.0" fill="url(#gH)"/>
<circle cx="74.6" cy="82.0" r="3.9" fill="url(#gH)"/>
<circle cx="82.6" cy="82.0" r="3.9" fill="url(#gH)"/>
<circle cx="103.8" cy="80.2" r="5.5" fill="url(#gN)"/>
<circle cx="98.7" cy="84.2" r="4.1" fill="url(#gO)"/>
<circle cx="108.9" cy="84.2" r="4.1" fill="url(#gO)"/>
<circle cx="136.8" cy="92.4" r="5.2" fill="url(#gH)"/>
<circle cx="147.2" cy="92.4" r="5.2" fill="url(#gH)"/>
<circle cx="162.2" cy="60.7" r="2.8" fill="url(#gH)"/>
<circle cx="167.8" cy="60.7" r="2.8" fill="url(#gH)"/>
<circle cx="166.6" cy="76.3" r="4.9" fill="url(#gN)"/>
<circle cx="162.1" cy="79.8" r="3.6" fill="url(#gO)"/>
<circle cx="171.1" cy="79.8" r="3.6" fill="url(#gO)"/>
<circle cx="207.2" cy="77.5" r="5.8" fill="url(#gH)"/>
<circle cx="218.8" cy="77.5" r="5.8" fill="url(#gH)"/>
<circle cx="234.4" cy="71.2" r="3.3" fill="url(#gH)"/>
<circle cx="240.9" cy="71.2" r="3.3" fill="url(#gH)"/>
<circle cx="199.2" cy="97.0" r="6.8" fill="url(#gN)"/>
<circle cx="192.9" cy="101.9" r="5.0" fill="url(#gO)"/>
<circle cx="205.5" cy="101.9" r="5.0" fill="url(#gO)"/>
<circle cx="345.5" cy="126.7" r="6.8" fill="url(#gN)"/>
<circle cx="339.2" cy="131.6" r="5.0" fill="url(#gO)"/>
<circle cx="351.8" cy="131.6" r="5.0" fill="url(#gO)"/>
<path d="M75.2,90.3 C75.5,110 80,123 97,136" fill="none" stroke="url(#gBlueArr)" stroke-width="2.6"/>
<path d="M90.6,139.5 L101.4,138.9 L95.6,130.2" fill="none" stroke="#1030ff" stroke-width="3.2" stroke-linejoin="miter" stroke-miterlimit="6"/>
<path d="M168.6,93 C168.6,108 170.5,120 182,131" fill="none" stroke="url(#gRedArr)" stroke-width="2.6"/>
<path d="M173.8,131.2 L184.7,133 L180.5,122.8" fill="none" stroke="#ff1a1a" stroke-width="3.2" stroke-linejoin="miter" stroke-miterlimit="6"/>
<line x1="219" y1="143" x2="284" y2="20" stroke="#ff1a1a" stroke-width="1.8" marker-end="url(#arrR)"/>
<line x1="230" y1="155" x2="373" y2="110.5" stroke="#ff1a1a" stroke-width="1.8" marker-end="url(#arrR)"/>
<rect x="218" y="142" width="15" height="15" fill="none" stroke="#ff1a1a" stroke-width="1.4" stroke-dasharray="3,2"/>
<text x="98" y="176" font-family="Liberation Sans" font-size="15.5" font-weight="bold" fill="#000" textLength="51.5" lengthAdjust="spacingAndGlyphs" transform="rotate(-3 98 176)" style="">Pd (S)</text>
<text x="185" y="189" font-family="Liberation Sans" font-size="15.5" font-weight="bold" fill="#000" textLength="55" lengthAdjust="spacingAndGlyphs" transform="rotate(-3 185 189)" style="">Pd (G)</text>
<text x="277.5" y="159.5" font-family="Liberation Sans" font-size="15.5" font-weight="bold" fill="#000" textLength="53.5" lengthAdjust="spacingAndGlyphs" transform="rotate(-4.5 277.5 159.5)" style="">Pd (D)</text>
<text x="92.5" y="233.5" font-family="Liberation Sans" font-size="17.8" font-weight="bold" fill="#fff" transform="rotate(-6 92.5 233.5)" textLength="241" lengthAdjust="spacingAndGlyphs">Al<tspan font-size="12" dy="3">2</tspan><tspan dy="-3">O</tspan><tspan font-size="12" dy="3">3</tspan><tspan dy="-3"> / SiO</tspan><tspan font-size="12" dy="3">2</tspan><tspan dy="-3"> (40 nm /10 nm)</tspan></text>
<text x="94.5" y="255" font-family="Liberation Sans" font-size="18.8" font-weight="bold" fill="#fff" transform="rotate(-6 94.5 255)" textLength="171" lengthAdjust="spacingAndGlyphs">p<tspan font-size="12" dy="-7">+</tspan><tspan dy="7"> doped substrate</tspan></text>
<circle cx="260.6" cy="254.3" r="5.3" fill="url(#gH)"/>
<circle cx="270.8" cy="254.3" r="5.3" fill="url(#gH)"/>
<text x="280.5" y="260.1" font-family="Liberation Sans" font-size="15" font-weight="bold" fill="#000">H<tspan font-size="11" dy="4">2</tspan></text>
<circle cx="322.4" cy="251.2" r="7.2" fill="url(#gN)"/>
<circle cx="315.8" cy="256.5" r="5.3" fill="url(#gO)"/>
<circle cx="329.0" cy="256.5" r="5.3" fill="url(#gO)"/>
<text x="338" y="260.1" font-family="Liberation Sans" font-size="16" font-weight="bold" fill="#000">NO<tspan font-size="12" dy="4">2</tspan></text>
<text x="391" y="35.3" font-family="Liberation Sans" font-size="21" font-weight="bold" fill="#000" textLength="26" lengthAdjust="spacingAndGlyphs"  style="">(b)</text>
<rect x="500.3" y="32.8" width="171.4" height="164.1" fill="none" stroke="#000" stroke-width="2.7"/>
<line x1="499.7" y1="74" x2="513" y2="74" stroke="#000" stroke-width="2.4"/>
<line x1="499.7" y1="114.9" x2="513" y2="114.9" stroke="#000" stroke-width="2.4"/>
<line x1="499.7" y1="155.6" x2="513" y2="155.6" stroke="#000" stroke-width="2.4"/>
<line x1="538.2" y1="196.9" x2="538.2" y2="183.8" stroke="#000" stroke-width="2.4"/>
<line x1="576.7" y1="196.9" x2="576.7" y2="183.8" stroke="#000" stroke-width="2.4"/>
<line x1="615.2" y1="196.9" x2="615.2" y2="183.8" stroke="#000" stroke-width="2.4"/>
<line x1="653.7" y1="196.9" x2="653.7" y2="183.8" stroke="#000" stroke-width="2.4"/>
<text x="445.9" y="40.6" font-family="Liberation Sans" font-size="20.5" fill="#000">10</text>
<text x="467.6" y="33.0" font-family="Liberation Sans" font-size="14.6" fill="#000">-4</text>
<text x="445.9" y="81.8" font-family="Liberation Sans" font-size="20.5" fill="#000">10</text>
<text x="467.6" y="74.2" font-family="Liberation Sans" font-size="14.6" fill="#000">-6</text>
<text x="445.9" y="122.7" font-family="Liberation Sans" font-size="20.5" fill="#000">10</text>
<text x="467.6" y="115.1" font-family="Liberation Sans" font-size="14.6" fill="#000">-8</text>
<text x="445.9" y="163.4" font-family="Liberation Sans" font-size="20.5" fill="#000">10</text>
<text x="467.6" y="155.8" font-family="Liberation Sans" font-size="14.6" fill="#000">-10</text>
<text x="445.9" y="204.7" font-family="Liberation Sans" font-size="20.5" fill="#000">10</text>
<text x="467.6" y="197.1" font-family="Liberation Sans" font-size="14.6" fill="#000">-12</text>
<text x="499.2" y="227.6" font-family="Liberation Sans" font-size="19.5" fill="#000" text-anchor="middle">-7</text>
<text x="537.7" y="227.6" font-family="Liberation Sans" font-size="19.5" fill="#000" text-anchor="middle">-5</text>
<text x="576.2" y="227.6" font-family="Liberation Sans" font-size="19.5" fill="#000" text-anchor="middle">-3</text>
<text x="613" y="227.6" font-family="Liberation Sans" font-size="19.5" fill="#000" text-anchor="middle">-1</text>
<text x="651.7" y="227.6" font-family="Liberation Sans" font-size="19.5" fill="#000" text-anchor="middle">1</text>
<text x="557.8" y="262" font-family="Liberation Sans" font-size="18.6" fill="#000"><tspan font-style="italic">V</tspan><tspan font-style="italic" font-size="13" dy="5">GS</tspan><tspan dy="-5"> (V)</tspan></text>
<text transform="translate(422.6,143.3) rotate(-90)" font-family="Liberation Sans" font-size="19" fill="#000" textLength="56.8" lengthAdjust="spacingAndGlyphs">-<tspan font-style="italic">I</tspan><tspan font-style="italic" font-size="13" dy="5">DS</tspan><tspan dy="-5"> (A)</tspan></text>
<path d="M498.0,62.6 L499.7,62.9 L500.4,63.0 L501.2,63.2 L502.1,63.3 L503.0,63.5 L503.9,63.7 L504.9,63.8 L505.9,64.0 L506.9,64.2 L507.8,64.3 L508.8,64.5 L509.8,64.7 L510.8,64.9 L511.8,65.0 L512.8,65.2 L513.8,65.4 L514.7,65.6 L515.7,65.7 L516.7,65.9 L517.7,66.1 L518.7,66.3 L519.7,66.5 L520.6,66.7 L521.6,66.9 L522.6,67.1 L523.6,67.3 L524.5,67.5 L525.5,67.7 L526.5,67.9 L527.5,68.1 L528.5,68.4 L529.4,68.6 L530.4,68.8 L531.4,69.0 L532.4,69.2 L533.3,69.4 L534.3,69.7 L535.3,69.9 L536.3,70.1 L537.2,70.4 L538.2,70.7 L539.1,71.0 L540.0,71.3 L540.9,71.7 L541.8,72.1 L542.7,72.6 L543.6,73.1 L544.4,73.6 L545.3,74.1 L546.1,74.6 L547.0,75.1 L547.8,75.7 L548.7,76.2 L549.5,76.8 L550.3,77.3 L551.1,78.0 L551.9,78.6 L552.6,79.2 L553.3,79.9 L554.0,80.6 L554.8,81.3 L555.5,82.0 L556.2,82.7 L556.9,83.4 L557.6,84.1 L558.3,84.9 L559.0,85.6 L559.7,86.3 L560.4,87.0 L561.1,87.7 L561.7,88.5 L562.4,89.2 L563.1,90.0 L563.7,90.7 L564.3,91.5 L565.0,92.3 L565.6,93.0 L566.3,93.8 L566.9,94.6 L567.5,95.4 L568.2,96.1 L568.8,96.9 L569.4,97.7 L570.0,98.5 L570.6,99.3 L571.2,100.1 L571.8,100.9 L572.4,101.7 L573.0,102.5 L573.6,103.3 L574.1,104.1 L574.7,105.0 L575.3,105.8 L575.8,106.6 L576.4,107.4 L577.0,108.2 L577.5,109.1 L578.1,109.9 L578.7,110.7 L579.3,111.5 L579.8,112.3 L580.4,113.2 L581.0,114.0 L581.6,114.8 L582.2,115.6 L582.7,116.4 L583.3,117.2 L583.9,118.1 L584.4,118.9 L585.0,119.7 L585.5,120.6 L586.0,121.4 L586.5,122.3 L587.0,123.2 L587.5,124.0 L587.9,124.9 L588.4,125.8 L588.8,126.7 L589.3,127.6 L589.7,128.5 L590.2,129.4 L590.6,130.3 L591.1,131.2 L591.5,132.1 L592.0,133.0 L592.4,133.9 L592.8,134.8 L593.2,135.7 L593.6,136.6 L594.0,137.5 L594.4,138.4 L594.8,139.4 L595.2,140.3 L595.6,141.2 L596.0,142.1 L596.4,143.0 L596.8,144.0 L597.2,144.9 L597.5,145.8 L597.9,146.7 L598.2,147.7 L598.6,148.6 L598.9,149.6 L599.2,150.5 L599.5,151.5 L599.8,152.4 L600.1,153.4 L600.4,154.3 L600.7,155.3 L601.0,156.2 L601.3,157.2 L601.6,158.1 L601.9,159.1 L602.2,160.0 L602.6,161.0 L603.0,161.9 L603.3,162.8 L603.8,163.7 L604.2,164.6 L604.6,165.5 L605.0,166.4 L605.5,167.3 L605.9,168.2 L606.3,169.1 L606.8,170.0 L607.2,170.9 L607.6,171.8 L608.1,172.7 L608.5,173.6 L609.0,174.5 L609.5,175.4 L610.0,176.2 L610.5,177.1 L611.0,178.0 L611.5,178.8 L612.1,179.6 L612.6,180.4 L613.2,181.2 L613.9,181.9 L614.6,182.6 L615.3,183.2 L616.1,183.7 L616.9,184.2 L617.8,184.6 L618.7,185.0 L619.6,185.2 L620.5,185.4 L621.5,185.5 L622.5,185.6 L623.4,185.6 L624.4,185.5 L625.4,185.4 L626.4,185.4 L627.4,185.3 L628.4,185.2 L629.4,185.1 L630.4,185.0 L631.4,184.9 L632.4,184.8 L633.4,184.7 L634.4,184.6 L635.4,184.5 L636.4,184.4 L637.3,184.3 L638.3,184.2 L639.3,184.1 L640.3,184.0 L641.3,184.0 L642.3,183.9 L643.3,183.8 L644.3,183.8 L645.3,183.7 L646.3,183.7 L647.3,183.6 L648.3,183.6 L649.3,183.5 L650.3,183.5 L651.3,183.4 L652.3,183.4 L653.3,183.3 L654.3,183.3 L655.3,183.2 L656.3,183.2 L657.3,183.1 L658.3,183.0 L659.3,182.9 L660.3,182.8 L661.3,182.7 L662.3,182.6 L663.3,182.4 L664.2,182.3 L665.2,182.1 L666.2,182.0 L667.1,181.8 L668.1,181.7 L668.9,181.5 L669.7,181.4 L670.4,181.3 L672.0,181.0 L672.0,198.0 L670.6,198.0 L670.0,198.1 L669.2,198.1 L668.4,198.1 L667.5,198.1 L666.5,198.2 L665.6,198.2 L664.6,198.2 L663.6,198.3 L662.6,198.3 L661.6,198.3 L660.6,198.4 L659.6,198.4 L658.6,198.4 L657.6,198.5 L656.6,198.5 L655.6,198.5 L654.6,198.5 L653.6,198.6 L652.6,198.6 L651.6,198.6 L650.6,198.7 L649.6,198.7 L648.6,198.7 L647.6,198.8 L646.6,198.8 L645.6,198.8 L644.6,198.9 L643.6,198.9 L642.6,198.9 L641.6,198.9 L640.6,199.0 L639.6,199.0 L638.6,199.0 L637.6,199.0 L636.6,199.0 L635.6,199.0 L634.6,199.0 L633.6,199.0 L632.6,199.0 L631.6,199.0 L630.6,199.0 L629.6,199.0 L628.6,199.0 L627.6,199.0 L626.6,199.0 L625.6,199.0 L624.6,199.0 L623.6,199.0 L622.6,199.0 L621.6,199.0 L620.6,199.0 L619.6,199.0 L618.6,199.0 L617.6,199.0 L616.6,199.0 L615.6,199.0 L614.6,199.0 L613.6,199.0 L612.6,198.9 L611.6,198.8 L610.6,198.7 L609.7,198.6 L608.7,198.4 L607.7,198.2 L606.8,198.0 L605.8,197.7 L604.8,197.4 L603.9,197.1 L603.0,196.8 L602.1,196.4 L601.2,196.0 L600.4,195.5 L599.6,194.9 L598.8,194.3 L598.1,193.7 L597.4,193.0 L596.8,192.2 L596.1,191.5 L595.5,190.7 L594.8,190.0 L594.2,189.2 L593.6,188.4 L593.1,187.6 L592.6,186.7 L592.1,185.9 L591.6,185.0 L591.1,184.1 L590.7,183.2 L590.2,182.3 L589.8,181.4 L589.3,180.5 L588.9,179.6 L588.5,178.7 L588.0,177.8 L587.6,176.9 L587.2,176.0 L586.8,175.1 L586.4,174.2 L586.1,173.2 L585.7,172.3 L585.4,171.4 L585.1,170.4 L584.7,169.5 L584.4,168.5 L584.1,167.6 L583.8,166.6 L583.5,165.7 L583.2,164.7 L582.8,163.8 L582.5,162.8 L582.2,161.9 L581.9,160.9 L581.6,160.0 L581.3,159.0 L581.0,158.1 L580.7,157.1 L580.4,156.2 L580.1,155.2 L579.8,154.2 L579.5,153.3 L579.2,152.3 L578.9,151.4 L578.6,150.4 L578.4,149.5 L578.1,148.5 L577.8,147.5 L577.5,146.6 L577.2,145.6 L576.9,144.7 L576.6,143.7 L576.3,142.8 L576.0,141.8 L575.8,140.8 L575.5,139.9 L575.2,138.9 L574.9,138.0 L574.6,137.0 L574.3,136.1 L574.0,135.1 L573.8,134.1 L573.5,133.2 L573.2,132.2 L572.9,131.3 L572.6,130.3 L572.3,129.3 L572.0,128.4 L571.7,127.4 L571.4,126.5 L571.2,125.5 L570.8,124.6 L570.5,123.6 L570.2,122.7 L569.8,121.8 L569.4,120.8 L569.0,119.9 L568.6,119.0 L568.2,118.1 L567.7,117.2 L567.3,116.4 L566.8,115.5 L566.4,114.6 L565.9,113.7 L565.4,112.8 L565.0,111.9 L564.5,111.0 L564.0,110.1 L563.6,109.3 L563.1,108.4 L562.6,107.5 L562.1,106.7 L561.5,105.8 L561.0,105.0 L560.4,104.2 L559.8,103.4 L559.2,102.6 L558.6,101.8 L558.0,101.0 L557.4,100.2 L556.8,99.4 L556.2,98.6 L555.6,97.8 L554.9,97.0 L554.3,96.3 L553.7,95.5 L553.1,94.7 L552.5,93.9 L551.8,93.2 L551.1,92.4 L550.4,91.7 L549.7,91.0 L549.0,90.4 L548.2,89.7 L547.5,89.1 L546.7,88.4 L545.9,87.8 L545.2,87.2 L544.4,86.6 L543.6,85.9 L542.8,85.3 L542.0,84.7 L541.2,84.2 L540.3,83.7 L539.5,83.2 L538.6,82.7 L537.7,82.3 L536.8,81.9 L535.9,81.6 L534.9,81.2 L534.0,80.9 L533.0,80.6 L532.1,80.2 L531.2,79.9 L530.2,79.6 L529.3,79.2 L528.3,78.9 L527.4,78.6 L526.4,78.3 L525.5,77.9 L524.5,77.6 L523.6,77.3 L522.7,76.9 L521.7,76.6 L520.8,76.3 L519.8,76.0 L518.9,75.6 L517.9,75.3 L517.0,75.0 L516.0,74.7 L515.1,74.4 L514.1,74.1 L513.2,73.7 L512.2,73.4 L511.3,73.1 L510.3,72.8 L509.4,72.5 L508.4,72.2 L507.5,71.8 L506.5,71.5 L505.6,71.2 L504.7,70.9 L503.7,70.6 L502.8,70.3 L501.9,70.0 L501.1,69.7 L500.3,69.5 L499.7,69.3 L498.0,68.7 Z" fill="#0000ff" stroke="#0000ff" stroke-width="1.2" stroke-linejoin="round"/>
<path d="M498.0,54.3 L500.5,54.7 L501.1,54.8 L501.8,54.9 L502.5,55.0 L503.4,55.1 L504.2,55.2 L505.1,55.3 L506.0,55.5 L507.0,55.6 L507.9,55.7 L508.9,55.9 L509.9,56.0 L510.9,56.2 L511.9,56.3 L512.8,56.5 L513.8,56.6 L514.8,56.8 L515.8,56.9 L516.8,57.1 L517.8,57.2 L518.8,57.4 L519.8,57.6 L520.7,57.7 L521.7,57.9 L522.7,58.1 L523.7,58.3 L524.7,58.5 L525.7,58.6 L526.6,58.8 L527.6,59.0 L528.6,59.2 L529.6,59.4 L530.6,59.6 L531.5,59.8 L532.5,60.0 L533.5,60.2 L534.5,60.4 L535.4,60.7 L536.4,60.9 L537.4,61.1 L538.4,61.4 L539.3,61.6 L540.3,61.9 L541.2,62.2 L542.2,62.4 L543.1,62.7 L544.1,63.1 L545.0,63.4 L546.0,63.7 L546.9,64.1 L547.8,64.4 L548.7,64.8 L549.7,65.2 L550.6,65.6 L551.5,66.1 L552.4,66.5 L553.2,67.0 L554.1,67.4 L555.0,67.9 L555.8,68.4 L556.7,68.9 L557.6,69.4 L558.4,70.0 L559.3,70.5 L560.1,71.0 L560.9,71.6 L561.7,72.1 L562.6,72.7 L563.4,73.3 L564.2,73.9 L565.0,74.5 L565.8,75.1 L566.6,75.7 L567.4,76.3 L568.1,76.9 L568.9,77.6 L569.7,78.2 L570.5,78.8 L571.3,79.4 L572.0,80.0 L572.8,80.7 L573.6,81.3 L574.4,81.9 L575.2,82.6 L575.9,83.2 L576.7,83.8 L577.5,84.4 L578.3,85.1 L579.1,85.7 L579.9,86.3 L580.6,86.9 L581.4,87.5 L582.2,88.1 L583.0,88.7 L583.8,89.3 L584.6,89.9 L585.4,90.5 L586.2,91.1 L587.1,91.7 L587.9,92.2 L588.7,92.8 L589.5,93.4 L590.3,94.0 L591.2,94.5 L592.0,95.1 L592.8,95.7 L593.6,96.3 L594.4,96.9 L595.2,97.5 L596.0,98.1 L596.8,98.7 L597.6,99.3 L598.4,99.9 L599.1,100.5 L599.9,101.2 L600.7,101.8 L601.4,102.5 L602.2,103.1 L603.0,103.8 L603.7,104.4 L604.5,105.1 L605.2,105.7 L605.9,106.4 L606.7,107.1 L607.4,107.7 L608.2,108.4 L608.9,109.1 L609.7,109.7 L610.4,110.4 L611.2,111.0 L612.0,111.7 L612.7,112.3 L613.5,113.0 L614.3,113.6 L615.0,114.3 L615.8,114.9 L616.6,115.5 L617.3,116.2 L618.1,116.8 L618.9,117.4 L619.7,118.0 L620.5,118.7 L621.2,119.3 L622.0,119.9 L622.8,120.5 L623.6,121.1 L624.4,121.7 L625.2,122.3 L626.0,122.9 L626.8,123.5 L627.7,124.1 L628.5,124.6 L629.3,125.2 L630.1,125.8 L630.9,126.3 L631.8,126.9 L632.6,127.4 L633.4,128.0 L634.3,128.5 L635.1,129.0 L636.0,129.5 L636.9,130.0 L637.7,130.5 L638.6,131.0 L639.5,131.5 L640.4,131.9 L641.3,132.4 L642.2,132.8 L643.1,133.2 L644.0,133.7 L644.9,134.1 L645.8,134.4 L646.7,134.8 L647.6,135.2 L648.6,135.5 L649.5,135.9 L650.5,136.2 L651.4,136.5 L652.4,136.8 L653.3,137.1 L654.3,137.3 L655.2,137.5 L656.2,137.7 L657.2,137.9 L658.2,138.1 L659.1,138.2 L660.1,138.4 L661.1,138.5 L662.1,138.6 L663.0,138.8 L664.0,138.9 L664.9,139.0 L665.8,139.1 L666.7,139.2 L667.5,139.3 L668.2,139.4 L668.9,139.5 L669.5,139.6 L670.0,139.7 L672.0,140.0 L672.0,186.0 L669.8,185.9 L669.2,185.9 L668.5,185.9 L667.8,185.9 L667.0,185.9 L666.2,185.8 L665.3,185.8 L664.4,185.8 L663.5,185.7 L662.5,185.7 L661.5,185.7 L660.5,185.6 L659.5,185.6 L658.5,185.6 L657.6,185.5 L656.6,185.5 L655.6,185.4 L654.6,185.3 L653.6,185.3 L652.6,185.2 L651.6,185.1 L650.6,185.0 L649.6,184.9 L648.6,184.8 L647.6,184.7 L646.6,184.6 L645.6,184.5 L644.6,184.4 L643.6,184.3 L642.6,184.1 L641.7,184.0 L640.7,183.8 L639.7,183.6 L638.7,183.4 L637.7,183.2 L636.8,183.0 L635.8,182.8 L634.8,182.5 L633.9,182.3 L632.9,182.0 L631.9,181.8 L631.0,181.5 L630.0,181.2 L629.1,180.9 L628.2,180.5 L627.3,180.2 L626.4,179.8 L625.5,179.4 L624.6,178.9 L623.8,178.4 L622.9,177.9 L622.1,177.4 L621.3,176.8 L620.5,176.2 L619.7,175.6 L619.0,175.0 L618.3,174.3 L617.5,173.7 L616.8,173.0 L616.2,172.2 L615.5,171.5 L614.9,170.7 L614.3,170.0 L613.7,169.2 L613.1,168.4 L612.5,167.6 L611.9,166.8 L611.4,165.9 L610.8,165.1 L610.3,164.3 L609.8,163.4 L609.3,162.6 L608.7,161.7 L608.3,160.8 L607.8,160.0 L607.3,159.1 L606.8,158.2 L606.4,157.3 L605.9,156.4 L605.5,155.5 L605.1,154.6 L604.7,153.7 L604.2,152.8 L603.8,151.9 L603.4,151.0 L603.0,150.1 L602.6,149.2 L602.1,148.3 L601.7,147.3 L601.3,146.4 L600.9,145.5 L600.5,144.6 L600.1,143.7 L599.7,142.8 L599.3,141.9 L598.9,141.0 L598.5,140.0 L598.1,139.1 L597.7,138.2 L597.2,137.3 L596.8,136.4 L596.4,135.5 L596.0,134.6 L595.6,133.6 L595.2,132.7 L594.8,131.8 L594.4,130.9 L594.0,130.0 L593.6,129.1 L593.2,128.2 L592.8,127.3 L592.4,126.3 L591.9,125.4 L591.5,124.5 L591.1,123.6 L590.7,122.7 L590.2,121.8 L589.8,120.9 L589.3,120.0 L588.9,119.1 L588.4,118.2 L588.0,117.4 L587.5,116.5 L587.0,115.6 L586.6,114.7 L586.1,113.8 L585.6,113.0 L585.1,112.1 L584.6,111.2 L584.1,110.4 L583.6,109.5 L583.1,108.7 L582.6,107.8 L582.0,107.0 L581.4,106.2 L580.9,105.4 L580.3,104.6 L579.6,103.8 L579.0,103.0 L578.4,102.3 L577.7,101.5 L577.1,100.7 L576.4,100.0 L575.8,99.3 L575.1,98.5 L574.4,97.8 L573.7,97.1 L573.0,96.4 L572.3,95.7 L571.6,95.0 L570.9,94.3 L570.1,93.6 L569.4,92.9 L568.7,92.3 L567.9,91.6 L567.2,90.9 L566.4,90.3 L565.7,89.6 L564.9,88.9 L564.2,88.3 L563.4,87.6 L562.7,86.9 L561.9,86.3 L561.2,85.6 L560.4,84.9 L559.7,84.3 L558.9,83.6 L558.2,83.0 L557.5,82.3 L556.7,81.6 L556.0,81.0 L555.2,80.3 L554.4,79.7 L553.7,79.1 L552.9,78.4 L552.1,77.8 L551.3,77.3 L550.5,76.7 L549.6,76.2 L548.8,75.6 L548.0,75.1 L547.1,74.6 L546.2,74.2 L545.3,73.7 L544.4,73.3 L543.5,72.8 L542.6,72.4 L541.7,72.1 L540.8,71.7 L539.9,71.3 L538.9,71.0 L538.0,70.7 L537.1,70.4 L536.1,70.1 L535.1,69.8 L534.2,69.5 L533.2,69.3 L532.2,69.0 L531.3,68.8 L530.3,68.5 L529.3,68.3 L528.4,68.1 L527.4,67.8 L526.4,67.6 L525.5,67.4 L524.5,67.1 L523.5,66.9 L522.5,66.7 L521.6,66.5 L520.6,66.2 L519.6,66.0 L518.6,65.8 L517.6,65.6 L516.7,65.4 L515.7,65.2 L514.7,65.0 L513.7,64.8 L512.7,64.7 L511.8,64.5 L510.8,64.3 L509.8,64.1 L508.8,63.9 L507.9,63.7 L506.9,63.6 L506.0,63.4 L505.1,63.2 L504.2,63.0 L503.3,62.9 L502.5,62.7 L501.8,62.6 L501.1,62.5 L500.5,62.4 L498.0,61.9 Z" fill="#ff0000" stroke="#ff0000" stroke-width="1.2" stroke-linejoin="round"/>
<path d="M498.0,38.7 L500.5,39.0 L501.1,39.1 L501.8,39.2 L502.6,39.3 L503.4,39.4 L504.2,39.5 L505.1,39.6 L506.0,39.7 L507.0,39.8 L508.0,40.0 L508.9,40.1 L509.9,40.2 L510.9,40.3 L511.9,40.5 L512.9,40.6 L513.9,40.7 L514.9,40.9 L515.9,41.0 L516.8,41.1 L517.8,41.3 L518.8,41.4 L519.8,41.6 L520.8,41.7 L521.8,41.9 L522.8,42.0 L523.8,42.2 L524.7,42.4 L525.7,42.5 L526.7,42.7 L527.7,42.9 L528.7,43.0 L529.7,43.2 L530.7,43.4 L531.6,43.5 L532.6,43.7 L533.6,43.9 L534.6,44.1 L535.6,44.3 L536.6,44.4 L537.5,44.6 L538.5,44.8 L539.5,45.0 L540.5,45.2 L541.5,45.5 L542.4,45.7 L543.4,45.9 L544.4,46.2 L545.3,46.4 L546.3,46.7 L547.2,47.0 L548.2,47.3 L549.1,47.6 L550.0,48.0 L550.9,48.3 L551.9,48.7 L552.8,49.1 L553.6,49.6 L554.5,50.0 L555.4,50.5 L556.3,51.0 L557.1,51.5 L558.0,52.0 L558.8,52.5 L559.7,53.1 L560.5,53.6 L561.3,54.2 L562.1,54.7 L562.9,55.3 L563.8,55.9 L564.6,56.5 L565.4,57.1 L566.1,57.7 L566.9,58.3 L567.7,58.9 L568.5,59.6 L569.3,60.2 L570.1,60.8 L570.8,61.4 L571.6,62.1 L572.4,62.7 L573.2,63.3 L574.0,64.0 L574.7,64.6 L575.5,65.2 L576.3,65.8 L577.1,66.5 L577.9,67.1 L578.6,67.7 L579.4,68.3 L580.2,69.0 L581.0,69.6 L581.8,70.2 L582.5,70.8 L583.3,71.5 L584.1,72.1 L584.9,72.7 L585.7,73.3 L586.4,74.0 L587.2,74.6 L588.0,75.2 L588.8,75.8 L589.6,76.4 L590.4,77.1 L591.1,77.7 L591.9,78.3 L592.7,78.9 L593.5,79.5 L594.3,80.1 L595.1,80.7 L595.9,81.3 L596.7,81.9 L597.6,82.4 L598.4,83.0 L599.2,83.6 L600.1,84.1 L600.9,84.6 L601.8,85.1 L602.6,85.6 L603.5,86.1 L604.3,86.6 L605.2,87.1 L606.1,87.6 L606.9,88.1 L607.8,88.6 L608.7,89.1 L609.5,89.6 L610.4,90.1 L611.3,90.6 L612.2,91.1 L613.0,91.6 L613.9,92.1 L614.8,92.6 L615.6,93.1 L616.5,93.5 L617.4,94.0 L618.3,94.5 L619.1,95.0 L620.0,95.5 L620.9,96.0 L621.8,96.5 L622.6,96.9 L623.5,97.4 L624.4,97.9 L625.3,98.4 L626.1,98.9 L627.0,99.3 L627.9,99.8 L628.8,100.3 L629.6,100.8 L630.5,101.3 L631.4,101.8 L632.2,102.3 L633.1,102.8 L633.9,103.3 L634.8,103.9 L635.6,104.4 L636.5,104.9 L637.3,105.5 L638.2,106.0 L639.0,106.5 L639.9,107.1 L640.7,107.6 L641.5,108.2 L642.4,108.7 L643.2,109.2 L644.1,109.8 L644.9,110.3 L645.8,110.8 L646.6,111.3 L647.5,111.8 L648.3,112.4 L649.2,112.9 L650.1,113.4 L650.9,113.9 L651.8,114.3 L652.7,114.8 L653.6,115.3 L654.5,115.7 L655.4,116.1 L656.3,116.5 L657.2,116.9 L658.1,117.3 L659.0,117.7 L659.9,118.0 L660.9,118.3 L661.8,118.7 L662.7,118.9 L663.7,119.2 L664.6,119.5 L665.4,119.7 L666.3,119.9 L667.1,120.1 L667.9,120.2 L668.6,120.3 L669.2,120.4 L669.8,120.5 L672.0,120.8 L672.0,138.0 L669.9,138.1 L669.3,138.2 L668.7,138.2 L668.0,138.2 L667.2,138.2 L666.4,138.3 L665.5,138.3 L664.6,138.3 L663.7,138.2 L662.7,138.2 L661.8,138.2 L660.8,138.1 L659.8,138.1 L658.8,138.0 L657.9,137.9 L656.9,137.7 L655.9,137.6 L654.9,137.4 L654.0,137.2 L653.0,136.9 L652.1,136.7 L651.1,136.4 L650.2,136.1 L649.2,135.8 L648.3,135.4 L647.3,135.1 L646.4,134.7 L645.5,134.3 L644.6,133.9 L643.7,133.5 L642.8,133.1 L641.9,132.7 L641.0,132.2 L640.1,131.8 L639.2,131.3 L638.3,130.8 L637.5,130.4 L636.6,129.9 L635.7,129.4 L634.9,128.8 L634.0,128.3 L633.2,127.8 L632.3,127.3 L631.5,126.7 L630.7,126.2 L629.8,125.6 L629.0,125.0 L628.2,124.5 L627.4,123.9 L626.6,123.3 L625.8,122.7 L625.0,122.1 L624.2,121.5 L623.4,120.9 L622.6,120.3 L621.8,119.7 L621.0,119.1 L620.2,118.5 L619.4,117.8 L618.7,117.2 L617.9,116.6 L617.1,115.9 L616.3,115.3 L615.6,114.7 L614.8,114.0 L614.1,113.4 L613.3,112.7 L612.6,112.0 L611.9,111.3 L611.2,110.6 L610.4,109.9 L609.8,109.2 L609.1,108.5 L608.4,107.8 L607.7,107.1 L607.0,106.3 L606.3,105.6 L605.7,104.8 L605.0,104.1 L604.3,103.4 L603.6,102.6 L603.0,101.9 L602.3,101.2 L601.6,100.4 L601.0,99.7 L600.3,98.9 L599.7,98.2 L599.0,97.4 L598.4,96.6 L597.8,95.8 L597.2,95.1 L596.5,94.3 L595.9,93.5 L595.3,92.8 L594.6,92.0 L594.0,91.2 L593.3,90.5 L592.6,89.8 L592.0,89.0 L591.3,88.3 L590.6,87.6 L589.9,86.8 L589.2,86.1 L588.5,85.4 L587.8,84.7 L587.1,84.0 L586.4,83.3 L585.7,82.6 L585.0,81.9 L584.2,81.2 L583.5,80.5 L582.8,79.8 L582.1,79.2 L581.3,78.5 L580.6,77.8 L579.8,77.1 L579.1,76.5 L578.4,75.8 L577.6,75.1 L576.9,74.5 L576.1,73.8 L575.4,73.1 L574.6,72.5 L573.8,71.8 L573.1,71.2 L572.3,70.5 L571.6,69.9 L570.8,69.2 L570.0,68.6 L569.3,68.0 L568.5,67.3 L567.7,66.7 L566.9,66.1 L566.1,65.5 L565.3,64.9 L564.5,64.3 L563.7,63.7 L562.9,63.1 L562.1,62.6 L561.2,62.1 L560.4,61.5 L559.5,61.0 L558.7,60.6 L557.8,60.1 L556.9,59.6 L556.0,59.2 L555.1,58.8 L554.2,58.4 L553.3,58.0 L552.4,57.6 L551.5,57.2 L550.5,56.9 L549.6,56.5 L548.6,56.2 L547.7,55.9 L546.7,55.6 L545.8,55.3 L544.8,55.1 L543.9,54.8 L542.9,54.6 L541.9,54.3 L541.0,54.0 L540.0,53.8 L539.0,53.5 L538.1,53.3 L537.1,53.0 L536.1,52.8 L535.2,52.5 L534.2,52.3 L533.2,52.0 L532.3,51.8 L531.3,51.5 L530.3,51.2 L529.4,51.0 L528.4,50.7 L527.4,50.5 L526.5,50.2 L525.5,50.0 L524.5,49.7 L523.6,49.5 L522.6,49.3 L521.6,49.0 L520.6,48.8 L519.7,48.6 L518.7,48.4 L517.7,48.2 L516.7,48.0 L515.7,47.8 L514.8,47.7 L513.8,47.5 L512.8,47.3 L511.8,47.1 L510.8,47.0 L509.8,46.8 L508.9,46.6 L507.9,46.5 L506.9,46.3 L506.0,46.1 L505.1,46.0 L504.2,45.8 L503.3,45.7 L502.5,45.6 L501.8,45.4 L501.1,45.3 L500.5,45.2 L498.0,44.8 Z" fill="#038403" stroke="#038403" stroke-width="1.2" stroke-linejoin="round"/>
<path d="M617.0,100.0 L618.2,100.7 L618.9,101.0 L619.7,101.5 L620.5,101.9 L621.4,102.4 L622.3,102.9 L623.1,103.4 L624.0,103.8 L624.9,104.3 L625.8,104.8 L626.6,105.3 L627.5,105.8 L628.4,106.3 L629.2,106.8 L630.1,107.3 L630.9,107.8 L631.8,108.4 L632.6,108.9 L633.5,109.4 L634.3,109.9 L635.2,110.5 L636.0,111.0 L636.9,111.5 L637.7,112.0 L638.6,112.6 L639.4,113.1 L640.3,113.6 L641.0,114.1 L641.7,114.5 L642.2,114.8 L643.0,115.3" fill="none" stroke="#fff" stroke-width="1.6" stroke-linecap="round"/>
<path d="M586.5,136.0 L587.1,137.3 L587.4,138.0 L587.7,138.8 L588.1,139.7 L588.5,140.6 L589.0,141.5 L589.4,142.4 L589.8,143.3 L590.2,144.2 L590.6,145.1 L591.0,146.0 L591.4,147.0 L591.8,147.9 L592.2,148.8 L592.6,149.7 L593.0,150.6 L593.4,151.5 L593.9,152.4 L594.3,153.3 L594.7,154.3 L595.1,155.2 L595.5,156.1 L595.9,157.0 L596.4,157.9 L596.8,158.8 L597.2,159.7 L597.6,160.6 L598.1,161.5 L598.5,162.4 L598.9,163.3 L599.3,164.2 L599.8,165.1 L600.2,166.0 L600.6,166.9 L601.0,167.8 L601.5,168.7 L601.9,169.6 L602.3,170.5 L602.8,171.4 L603.3,172.3 L603.8,173.2 L604.3,174.0 L604.8,174.9 L605.3,175.7 L605.9,176.6 L606.4,177.4 L606.9,178.3 L607.5,179.1 L608.0,180.0 L608.5,180.8 L609.0,181.7 L609.6,182.5 L610.1,183.4 L610.6,184.2 L611.1,185.0 L611.6,185.8 L612.1,186.5 L612.4,187.1 L613.0,188.0" fill="none" stroke="#fff" stroke-width="1.4" stroke-linecap="round"/>
<path d="M594.0,113.0 L594.9,114.1 L595.4,114.7 L595.9,115.4 L596.5,116.1 L597.2,116.9 L597.8,117.6 L598.4,118.4 L599.1,119.2 L599.7,120.0 L600.3,120.7 L601.0,121.5 L601.6,122.3 L602.2,123.1 L602.8,123.9 L603.5,124.6 L604.1,125.4 L604.7,126.2 L605.3,127.0 L605.9,127.8 L606.5,128.6 L607.1,129.4 L607.7,130.2 L608.3,131.0 L608.9,131.8 L609.5,132.6 L610.1,133.4 L610.7,134.2 L611.3,135.0 L611.9,135.8 L612.6,136.5 L613.3,137.2 L614.0,138.0 L614.7,138.7 L615.4,139.4 L616.1,140.1 L616.8,140.8 L617.5,141.5 L618.2,142.2 L618.9,142.9 L619.6,143.6 L620.4,144.3 L621.1,145.0 L621.9,145.6 L622.7,146.2 L623.5,146.7 L624.4,147.2 L625.3,147.6 L626.2,148.1 L627.0,148.5 L627.9,149.0 L628.8,149.4 L629.7,149.9 L630.6,150.3 L631.5,150.8 L632.4,151.2 L633.3,151.6 L634.2,152.1 L635.1,152.5 L636.1,152.9 L637.0,153.3 L637.9,153.7 L638.8,154.1 L639.7,154.5 L640.6,154.8 L641.6,155.2 L642.5,155.6 L643.4,156.0 L644.3,156.4 L645.2,156.8 L646.2,157.2 L647.1,157.5 L648.1,157.8 L649.0,158.0 L650.0,158.2 L651.0,158.4 L652.0,158.5 L653.0,158.7 L653.9,158.8 L654.9,158.9 L655.9,159.1 L656.9,159.2 L657.9,159.4 L658.9,159.5 L659.9,159.6 L660.9,159.8 L661.9,159.9 L662.9,160.0 L663.9,160.2 L664.8,160.3 L665.8,160.4 L666.8,160.6 L667.7,160.7 L668.5,160.8 L669.1,160.9 L670.0,161.0" fill="none" stroke="#fff" stroke-width="1.4" stroke-linecap="round"/>
<path d="M598.0,128.0 L598.8,129.1 L599.2,129.8 L599.7,130.5 L600.2,131.3 L600.8,132.2 L601.3,133.0 L601.9,133.8 L602.4,134.7 L603.0,135.5 L603.5,136.3 L604.1,137.2 L604.7,138.0 L605.2,138.8 L605.8,139.6 L606.4,140.4 L607.0,141.2 L607.7,142.0 L608.3,142.7 L608.9,143.5 L609.6,144.3 L610.2,145.1 L610.9,145.8 L611.5,146.6 L612.1,147.4 L612.8,148.1 L613.4,148.9 L614.1,149.7 L614.7,150.4 L615.4,151.1 L616.1,151.8 L616.8,152.5 L617.6,153.1 L618.4,153.8 L619.2,154.4 L620.0,155.0 L620.8,155.6 L621.6,156.2 L622.4,156.8 L623.2,157.4 L624.0,158.0 L624.8,158.6 L625.6,159.2 L626.4,159.7 L627.2,160.3 L628.1,160.8 L628.9,161.3 L629.8,161.7 L630.7,162.2 L631.6,162.6 L632.6,163.0 L633.5,163.3 L634.4,163.7 L635.3,164.1 L636.2,164.5 L637.2,164.9 L638.1,165.3 L639.0,165.7 L639.9,166.1 L640.9,166.4 L641.8,166.7 L642.7,167.0 L643.7,167.2 L644.7,167.4 L645.7,167.6 L646.7,167.8 L647.6,167.9 L648.6,168.1 L649.6,168.3 L650.6,168.4 L651.6,168.6 L652.6,168.8 L653.6,168.9 L654.6,169.1 L655.5,169.3 L656.5,169.4 L657.5,169.6 L658.5,169.7 L659.5,169.8 L660.5,169.9 L661.5,170.0 L662.5,170.0 L663.5,170.0 L664.5,170.0 L665.5,170.0 L666.4,170.0 L667.4,170.0 L668.2,170.0 L668.9,170.0 L670.0,170.0" fill="none" stroke="#fff" stroke-width="1.3" stroke-linecap="round"/>
<path d="M612.0,150.0 L613.0,151.0 L613.5,151.5 L614.2,152.2 L614.8,152.8 L615.5,153.5 L616.2,154.2 L616.9,154.9 L617.7,155.7 L618.4,156.4 L619.1,157.1 L619.8,157.8 L620.5,158.5 L621.2,159.1 L622.0,159.7 L622.8,160.3 L623.6,160.9 L624.5,161.4 L625.4,161.9 L626.2,162.4 L627.1,162.9 L628.0,163.4 L628.8,163.9 L629.7,164.4 L630.6,164.9 L631.4,165.4 L632.3,165.9 L633.2,166.4 L634.0,166.9 L634.9,167.4 L635.8,167.8 L636.7,168.3 L637.6,168.8 L638.4,169.2 L639.3,169.7 L640.2,170.1 L641.1,170.6 L642.0,171.0 L642.9,171.5 L643.8,171.9 L644.7,172.4 L645.6,172.8 L646.5,173.2 L647.4,173.7 L648.3,174.1 L649.2,174.4 L650.2,174.7 L651.1,175.0 L652.1,175.2 L653.1,175.3 L654.1,175.4 L655.1,175.5 L656.1,175.6 L657.0,175.7 L658.0,175.8 L659.0,175.9 L660.0,176.0 L661.0,176.1 L662.0,176.2 L663.0,176.3 L664.0,176.4 L665.0,176.5 L666.0,176.6 L666.9,176.7 L667.8,176.8 L668.6,176.9 L669.2,176.9 L670.0,177.0" fill="none" stroke="#fff" stroke-width="1.2" stroke-linecap="round"/>
<path d="M630.0,135.0 L631.2,135.6 L631.9,136.0 L632.7,136.4 L633.5,136.9 L634.4,137.4 L635.3,137.8 L636.2,138.3 L637.1,138.8 L637.9,139.2 L638.8,139.7 L639.7,140.2 L640.6,140.6 L641.5,141.1 L642.4,141.6 L643.3,142.0 L644.2,142.4 L645.1,142.8 L646.0,143.1 L647.0,143.3 L647.9,143.6 L648.9,143.8 L649.9,144.0 L650.9,144.2 L651.9,144.4 L652.8,144.6 L653.8,144.8 L654.8,145.0 L655.8,145.2 L656.8,145.3 L657.7,145.5 L658.7,145.7 L659.7,145.8 L660.7,145.9 L661.7,146.0 L662.7,146.0 L663.7,146.0 L664.7,146.0 L665.7,146.0 L666.7,146.0 L667.6,146.0 L668.4,146.0 L669.0,146.0 L670.0,146.0" fill="none" stroke="#fff" stroke-width="1.2" stroke-linecap="round"/>
<text x="578.4" y="54.4" font-family="Liberation Sans" font-size="17" font-weight="bold" fill="#038403" textLength="90.3" lengthAdjust="spacingAndGlyphs"><tspan font-style="italic">W</tspan> = 50 μm</text>
<text x="616.4" y="74.6" font-family="Liberation Sans" font-size="17" font-weight="bold" fill="#ff0000" textLength="52.3" lengthAdjust="spacingAndGlyphs">10 μm</text>
<text x="627.2" y="96.1" font-family="Liberation Sans" font-size="17" font-weight="bold" fill="#0000ff" textLength="41.5" lengthAdjust="spacingAndGlyphs">2 μm</text>
<text x="1.2" y="274" font-family="Liberation Sans" font-size="25" font-weight="bold" fill="#000" textLength="23.4" lengthAdjust="spacingAndGlyphs"  style="">b)</text>
<g transform="translate(9.4,324.5)"><rect width="32.3" height="140.7" fill="url(#tp0)"/></g>
<g transform="translate(154.6,325.8)"><rect width="33.2" height="139.4" fill="url(#tp1)"/></g>
<g transform="translate(300,327)"><rect width="32.5" height="139.5" fill="url(#tp2)"/></g>
<g transform="translate(451.2,327)"><rect width="33.2" height="140.3" fill="url(#tp1)"/></g>
<path d="M68,317 C90,319 113.5,339 113.5,366 L122.5,369 L107.5,383 L92.5,366 L102.5,366 C101.5,345 86,321 68,317 Z" fill="url(#gYArr)"/>
<path d="M213,316.5 C235,318.5 259,338.5 259,365 L268,368 L253,382 L238,365 L248,365 C247,344.5 231,320.5 213,316.5 Z" fill="url(#gYArr)"/>
<path d="M359,316.5 C381,318.5 403,338.5 403,366 L412,369 L397,383 L382,366 L392,366 C391,344.5 377,320.5 359,316.5 Z" fill="url(#gYArr)"/>
<path d="M509.6,316.5 C531.6,318.5 556,338.5 556,366 L565,369 L550,383 L535,366 L545,366 C544,344.5 527.6,320.5 509.6,316.5 Z" fill="url(#gYArr)"/>
<path d="M89,389.3 L129,389.3 L129,383.7 L142,395.5 L129,407.3 L129,401.7 L89,401.7 Z" fill="#d8601a"/>
<path d="M234.2,389.3 L274,389.3 L274,383.7 L286,395.5 L274,407.3 L274,401.7 L234.2,401.7 Z" fill="#d8601a"/>
<path d="M379,389.3 L420,389.3 L420,383.7 L432,395.5 L420,407.3 L420,401.7 L379,401.7 Z" fill="#d8601a"/>
<path d="M524,389.3 L565.4,389.3 L565.4,383.7 L576.5,395.5 L565.4,407.3 L565.4,401.7 L524,401.7 Z" fill="#d8601a"/>
<text x="42.2" y="308" font-family="Liberation Sans" font-size="9.6" font-weight="bold" fill="#3a3a3a" textLength="56" lengthAdjust="spacingAndGlyphs">H<tspan font-size="6" dy="1.5">2</tspan><tspan dy="-1.5">SO</tspan><tspan font-size="6" dy="1.5">4</tspan><tspan dy="-1.5">:HNO</tspan><tspan font-size="6" dy="1.5">3</tspan></text>
<text x="161.2" y="307" font-family="Liberation Sans" font-size="9.6" font-weight="bold" fill="#3a3a3a" textLength="53" lengthAdjust="spacingAndGlyphs">AgNO<tspan font-size="6" dy="1.5">3</tspan><tspan dy="-1.5"> (gel)</tspan></text>
<text x="300" y="307.5" font-family="Liberation Sans" font-size="10" font-weight="bold" fill="#3a3a3a" textLength="93.5" lengthAdjust="spacingAndGlyphs"  style="">Heating and grinding</text>
<text x="440.6" y="307.5" font-family="Liberation Sans" font-size="10" font-weight="bold" fill="#3a3a3a" textLength="97.7" lengthAdjust="spacingAndGlyphs"  style="">Ultrasonic dispersion</text>
<text x="440.6" y="321.5" font-family="Liberation Sans" font-size="10" font-weight="bold" fill="#3a3a3a" textLength="43.8" lengthAdjust="spacingAndGlyphs"  style="">And +SDS</text>
<text x="9.2" y="499" font-family="Liberation Sans" font-size="10" font-weight="bold" fill="#3a3a3a" textLength="33.6" lengthAdjust="spacingAndGlyphs"  style="">SWCNT</text>
<text x="134" y="500.3" font-family="Liberation Sans" font-size="10" font-weight="bold" fill="#3a3a3a" textLength="77.3" lengthAdjust="spacingAndGlyphs"  style="">Acidified SWCNT</text>
<text x="445.4" y="499.3" font-family="Liberation Sans" font-size="10" font-weight="bold" fill="#3a3a3a" textLength="49.7" lengthAdjust="spacingAndGlyphs"  style="">Ag-SWCNT</text>
<path d="M191.8,369.6 L203.7,360.3 L217,369.6 M202.6,360.3 L202.6,347 M204.8,360.3 L204.8,347" stroke="#4a6ea8" stroke-width="1.7" fill="none"/>
<text x="200" y="346.5" font-family="Liberation Sans" font-size="10" font-weight="bold" fill="#2a2a2a"  style="">O</text>
<text x="219" y="376.7" font-family="Liberation Sans" font-size="10" font-weight="bold" fill="#2a2a2a" textLength="15" lengthAdjust="spacingAndGlyphs"  style="">OH</text>
<path d="M189,420 L201.6,429.4 L213,420 M200.5,429.4 L200.5,442 M202.7,429.4 L202.7,442" stroke="#4a6ea8" stroke-width="1.7" fill="none"/>
<text x="216" y="420" font-family="Liberation Sans" font-size="10" font-weight="bold" fill="#2a2a2a" textLength="14" lengthAdjust="spacingAndGlyphs"  style="">OH</text>
<text x="197.8" y="450.3" font-family="Liberation Sans" font-size="10" font-weight="bold" fill="#2a2a2a"  style="">O</text>
<path d="M337.3,374.4 L349.7,364.3 L362,374.4 M348.6,364.3 L348.6,349 M350.8,364.3 L350.8,349" stroke="#4a6ea8" stroke-width="1.7" fill="none"/>
<text x="346" y="348.5" font-family="Liberation Sans" font-size="10" font-weight="bold" fill="#2a2a2a"  style="">O</text>
<text x="365.7" y="381.6" font-family="Liberation Sans" font-size="7" font-weight="bold" fill="#3a3a3a"  style="">Ag<tspan font-size="5" dy="-3">+</tspan></text>
<text x="333.8" y="342" font-family="Liberation Sans" font-size="7" font-weight="bold" fill="#3a3a3a"  style="">H<tspan font-size="5" dy="-3">+</tspan></text>
<text x="351" y="336.5" font-family="Liberation Sans" font-size="7" font-weight="bold" fill="#3a3a3a"  style="">H<tspan font-size="5" dy="-3">+</tspan></text>
<path d="M339,424 L350.5,433.3 L362,424 M349.4,433.3 L349.4,446 M351.6,433.3 L351.6,446" stroke="#4a6ea8" stroke-width="1.7" fill="none"/>
<text x="347" y="453.5" font-family="Liberation Sans" font-size="10" font-weight="bold" fill="#2a2a2a"  style="">O</text>
<text x="364" y="422.7" font-family="Liberation Sans" font-size="7" font-weight="bold" fill="#3a3a3a"  style="">Ag<tspan font-size="5" dy="-3">+</tspan></text>
<text x="340" y="461" font-family="Liberation Sans" font-size="7" font-weight="bold" fill="#3a3a3a"  style="">H<tspan font-size="5" dy="-3">+</tspan></text>
<text x="353.7" y="462.5" font-family="Liberation Sans" font-size="7" font-weight="bold" fill="#3a3a3a"  style="">H<tspan font-size="5" dy="-3">+</tspan></text>
<circle cx="467.2" cy="351.0" r="6.6" fill="url(#gAg)" opacity="1"/>
<circle cx="485.7" cy="374.4" r="6.6" fill="url(#gAg)" opacity="0.85"/>
<circle cx="453.9" cy="390.3" r="6.6" fill="url(#gAg)" opacity="1"/>
<circle cx="469.8" cy="410.0" r="6.6" fill="url(#gAg)" opacity="0.5"/>
<circle cx="454.4" cy="432.8" r="6.6" fill="url(#gAg)" opacity="0.6"/>
<circle cx="485.7" cy="433.4" r="6.6" fill="url(#gAg)" opacity="0.75"/>
<circle cx="471.7" cy="456.0" r="6.6" fill="url(#gAg)" opacity="1"/>
<g transform="translate(649.4,308.7)"><rect width="21.8" height="90.3" fill="url(#tp3)"/></g>
<circle cx="660.3" cy="315.9" r="4.2" fill="url(#gAg)"/>
<circle cx="655.3" cy="312.9" r="1.6" fill="#111"/>
<circle cx="665.3" cy="318.9" r="1.6" fill="#111"/>
<circle cx="649.4" cy="326.8" r="4.2" fill="url(#gAg)"/>
<circle cx="644.4" cy="323.8" r="1.6" fill="#111"/>
<circle cx="654.4" cy="329.8" r="1.6" fill="#111"/>
<circle cx="671.2" cy="338.5" r="4.2" fill="url(#gAg)"/>
<circle cx="666.2" cy="335.5" r="1.6" fill="#111"/>
<circle cx="676.2" cy="341.5" r="1.6" fill="#111"/>
<circle cx="650.5" cy="351.1" r="4.2" fill="url(#gAg)"/>
<circle cx="645.5" cy="348.1" r="1.6" fill="#111"/>
<circle cx="655.5" cy="354.1" r="1.6" fill="#111"/>
<circle cx="660.3" cy="362.9" r="4.2" fill="url(#gAg)"/>
<circle cx="655.3" cy="359.9" r="1.6" fill="#111"/>
<circle cx="665.3" cy="365.9" r="1.6" fill="#111"/>
<circle cx="649.4" cy="376.4" r="4.2" fill="url(#gAg)"/>
<circle cx="644.4" cy="373.4" r="1.6" fill="#111"/>
<circle cx="654.4" cy="379.4" r="1.6" fill="#111"/>
<circle cx="671.2" cy="376.4" r="4.2" fill="url(#gAg)"/>
<circle cx="666.2" cy="373.4" r="1.6" fill="#111"/>
<circle cx="676.2" cy="379.4" r="1.6" fill="#111"/>
<circle cx="660.3" cy="392.7" r="4.2" fill="url(#gAg)"/>
<circle cx="655.3" cy="389.7" r="1.6" fill="#111"/>
<circle cx="665.3" cy="395.7" r="1.6" fill="#111"/>
<g transform="translate(606.5,364.4)"><rect width="22.5" height="93" fill="url(#tp4)"/></g>
<circle cx="617.8" cy="371.8" r="4.2" fill="url(#gAg)"/>
<circle cx="612.8" cy="368.8" r="1.6" fill="#111"/>
<circle cx="622.8" cy="374.8" r="1.6" fill="#111"/>
<circle cx="606.5" cy="383.0" r="4.2" fill="url(#gAg)"/>
<circle cx="601.5" cy="380.0" r="1.6" fill="#111"/>
<circle cx="611.5" cy="386.0" r="1.6" fill="#111"/>
<circle cx="629.0" cy="395.1" r="4.2" fill="url(#gAg)"/>
<circle cx="624.0" cy="392.1" r="1.6" fill="#111"/>
<circle cx="634.0" cy="398.1" r="1.6" fill="#111"/>
<circle cx="607.6" cy="408.1" r="4.2" fill="url(#gAg)"/>
<circle cx="602.6" cy="405.1" r="1.6" fill="#111"/>
<circle cx="612.6" cy="411.1" r="1.6" fill="#111"/>
<circle cx="617.8" cy="420.2" r="4.2" fill="url(#gAg)"/>
<circle cx="612.8" cy="417.2" r="1.6" fill="#111"/>
<circle cx="622.8" cy="423.2" r="1.6" fill="#111"/>
<circle cx="606.5" cy="434.1" r="4.2" fill="url(#gAg)"/>
<circle cx="601.5" cy="431.1" r="1.6" fill="#111"/>
<circle cx="611.5" cy="437.1" r="1.6" fill="#111"/>
<circle cx="629.0" cy="434.1" r="4.2" fill="url(#gAg)"/>
<circle cx="624.0" cy="431.1" r="1.6" fill="#111"/>
<circle cx="634.0" cy="437.1" r="1.6" fill="#111"/>
<circle cx="617.8" cy="450.9" r="4.2" fill="url(#gAg)"/>
<circle cx="612.8" cy="447.9" r="1.6" fill="#111"/>
<circle cx="622.8" cy="453.9" r="1.6" fill="#111"/>
<g transform="translate(692.9,369)"><rect width="22.5" height="91" fill="url(#tp4)"/></g>
<circle cx="704.1" cy="376.3" r="4.2" fill="url(#gAg)"/>
<circle cx="699.1" cy="373.3" r="1.6" fill="#111"/>
<circle cx="709.1" cy="379.3" r="1.6" fill="#111"/>
<circle cx="692.9" cy="387.2" r="4.2" fill="url(#gAg)"/>
<circle cx="687.9" cy="384.2" r="1.6" fill="#111"/>
<circle cx="697.9" cy="390.2" r="1.6" fill="#111"/>
<circle cx="715.4" cy="399.0" r="4.2" fill="url(#gAg)"/>
<circle cx="710.4" cy="396.0" r="1.6" fill="#111"/>
<circle cx="720.4" cy="402.0" r="1.6" fill="#111"/>
<circle cx="694.0" cy="411.8" r="4.2" fill="url(#gAg)"/>
<circle cx="689.0" cy="408.8" r="1.6" fill="#111"/>
<circle cx="699.0" cy="414.8" r="1.6" fill="#111"/>
<circle cx="704.1" cy="423.6" r="4.2" fill="url(#gAg)"/>
<circle cx="699.1" cy="420.6" r="1.6" fill="#111"/>
<circle cx="709.1" cy="426.6" r="1.6" fill="#111"/>
<circle cx="692.9" cy="437.2" r="4.2" fill="url(#gAg)"/>
<circle cx="687.9" cy="434.2" r="1.6" fill="#111"/>
<circle cx="697.9" cy="440.2" r="1.6" fill="#111"/>
<circle cx="715.4" cy="437.2" r="4.2" fill="url(#gAg)"/>
<circle cx="710.4" cy="434.2" r="1.6" fill="#111"/>
<circle cx="720.4" cy="440.2" r="1.6" fill="#111"/>
<circle cx="704.1" cy="453.6" r="4.2" fill="url(#gAg)"/>
<circle cx="699.1" cy="450.6" r="1.6" fill="#111"/>
<circle cx="709.1" cy="456.6" r="1.6" fill="#111"/>
<g transform="translate(651.7,424.7)"><rect width="21.8" height="92.3" fill="url(#tp3)"/></g>
<circle cx="662.6" cy="432.1" r="4.2" fill="url(#gAg)"/>
<circle cx="657.6" cy="429.1" r="1.6" fill="#111"/>
<circle cx="667.6" cy="435.1" r="1.6" fill="#111"/>
<circle cx="651.7" cy="443.2" r="4.2" fill="url(#gAg)"/>
<circle cx="646.7" cy="440.2" r="1.6" fill="#111"/>
<circle cx="656.7" cy="446.2" r="1.6" fill="#111"/>
<circle cx="673.5" cy="455.2" r="4.2" fill="url(#gAg)"/>
<circle cx="668.5" cy="452.2" r="1.6" fill="#111"/>
<circle cx="678.5" cy="458.2" r="1.6" fill="#111"/>
<circle cx="652.8" cy="468.1" r="4.2" fill="url(#gAg)"/>
<circle cx="647.8" cy="465.1" r="1.6" fill="#111"/>
<circle cx="657.8" cy="471.1" r="1.6" fill="#111"/>
<circle cx="662.6" cy="480.1" r="4.2" fill="url(#gAg)"/>
<circle cx="657.6" cy="477.1" r="1.6" fill="#111"/>
<circle cx="667.6" cy="483.1" r="1.6" fill="#111"/>
<circle cx="651.7" cy="493.9" r="4.2" fill="url(#gAg)"/>
<circle cx="646.7" cy="490.9" r="1.6" fill="#111"/>
<circle cx="656.7" cy="496.9" r="1.6" fill="#111"/>
<circle cx="673.5" cy="493.9" r="4.2" fill="url(#gAg)"/>
<circle cx="668.5" cy="490.9" r="1.6" fill="#111"/>
<circle cx="678.5" cy="496.9" r="1.6" fill="#111"/>
<circle cx="662.6" cy="510.5" r="4.2" fill="url(#gAg)"/>
<circle cx="657.6" cy="507.5" r="1.6" fill="#111"/>
<circle cx="667.6" cy="513.5" r="1.6" fill="#111"/>
<text x="31.6" y="549.3" font-family="Liberation Sans" font-size="25" font-weight="bold" fill="#000" textLength="20.6" lengthAdjust="spacingAndGlyphs"  style="">c)</text>
<rect x="56" y="596.8" width="307.8" height="166.6" fill="none" stroke="#9a9a9a" stroke-width="1.3"/>
<line x1="51.7" y1="763.4" x2="363.8" y2="763.4" stroke="#8a8a8a" stroke-width="1.6"/>
<line x1="56" y1="596.8" x2="56" y2="763.4" stroke="#8a8a8a" stroke-width="1.6"/>
<line x1="51.5" y1="763.5" x2="56" y2="763.5" stroke="#8a8a8a" stroke-width="1.2"/>
<line x1="53.5" y1="749.5" x2="56" y2="749.5" stroke="#8a8a8a" stroke-width="1"/>
<line x1="51.5" y1="735.5" x2="56" y2="735.5" stroke="#8a8a8a" stroke-width="1.2"/>
<line x1="53.5" y1="721.5" x2="56" y2="721.5" stroke="#8a8a8a" stroke-width="1"/>
<text x="41.5" y="741.1" font-family="Liberation Serif" font-size="16" fill="#2a2420" text-anchor="middle" transform="translate(-12.4,0) scale(1.3,1)">1</text>
<line x1="51.5" y1="707.5" x2="56" y2="707.5" stroke="#8a8a8a" stroke-width="1.2"/>
<line x1="53.5" y1="693.5" x2="56" y2="693.5" stroke="#8a8a8a" stroke-width="1"/>
<text x="41.5" y="713.1" font-family="Liberation Serif" font-size="16" fill="#2a2420" text-anchor="middle" transform="translate(-12.4,0) scale(1.3,1)">2</text>
<line x1="51.5" y1="679.5" x2="56" y2="679.5" stroke="#8a8a8a" stroke-width="1.2"/>
<line x1="53.5" y1="665.5" x2="56" y2="665.5" stroke="#8a8a8a" stroke-width="1"/>
<text x="41.5" y="685.1" font-family="Liberation Serif" font-size="16" fill="#2a2420" text-anchor="middle" transform="translate(-12.4,0) scale(1.3,1)">3</text>
<line x1="51.5" y1="651.5" x2="56" y2="651.5" stroke="#8a8a8a" stroke-width="1.2"/>
<line x1="53.5" y1="637.5" x2="56" y2="637.5" stroke="#8a8a8a" stroke-width="1"/>
<text x="41.5" y="657.1" font-family="Liberation Serif" font-size="16" fill="#2a2420" text-anchor="middle" transform="translate(-12.4,0) scale(1.3,1)">4</text>
<line x1="51.5" y1="623.5" x2="56" y2="623.5" stroke="#8a8a8a" stroke-width="1.2"/>
<line x1="53.5" y1="609.5" x2="56" y2="609.5" stroke="#8a8a8a" stroke-width="1"/>
<text x="41.5" y="629.1" font-family="Liberation Serif" font-size="16" fill="#2a2420" text-anchor="middle" transform="translate(-12.4,0) scale(1.3,1)">5</text>
<line x1="51.5" y1="595.5" x2="56" y2="595.5" stroke="#8a8a8a" stroke-width="1.2"/>
<text x="41.5" y="605.2" font-family="Liberation Serif" font-size="16" fill="#2a2420" text-anchor="middle" transform="translate(-12.4,0) scale(1.3,1)">6</text>
<text transform="translate(17.6,739.5) scale(1.33,1) rotate(-90)" font-family="Liberation Serif" font-size="18" fill="#2e2620" textLength="114" lengthAdjust="spacingAndGlyphs">Sensor Response</text>
<rect x="64.3" y="756.8" width="24.5" height="6.6" fill="#e31e24"/>
<rect x="105.2" y="623.5" width="24.6" height="139.9" fill="#e31e24"/>
<rect x="228.4" y="752.7" width="25.1" height="10.7" fill="#e31e24"/>
<rect x="269.7" y="716.1" width="25.1" height="47.3" fill="#e31e24"/>
<text x="57.5" y="747.6" font-family="Liberation Sans" font-size="10" font-weight="normal" fill="#333" textLength="52.5" lengthAdjust="spacingAndGlyphs"  style="">MWCNT</text>
<text x="209.4" y="747.3" font-family="Liberation Sans" font-size="10" font-weight="normal" fill="#333" textLength="53.8" lengthAdjust="spacingAndGlyphs"  style="">MWCNT</text>
<text x="88.5" y="622" font-family="Liberation Sans" font-size="10" font-weight="normal" fill="#333" textLength="86" lengthAdjust="spacingAndGlyphs"  style="">BaO/MWCNT</text>
<text x="253.5" y="715" font-family="Liberation Sans" font-size="10" font-weight="normal" fill="#333" textLength="85" lengthAdjust="spacingAndGlyphs"  style="">BaO/MWCNT</text>
<text x="61.8" y="783" font-family="Liberation Serif" font-size="17" fill="#1a1a1a" textLength="124" lengthAdjust="spacingAndGlyphs">200 ppm NH<tspan font-size="13" dy="4">3</tspan></text>
<text x="224.8" y="783.5" font-family="Liberation Serif" font-size="17" font-weight="normal" fill="#1a1a1a" textLength="113.4" lengthAdjust="spacingAndGlyphs"  style="">200 ppm CO</text>
<text x="343.6" y="559.3" font-family="Liberation Sans" font-size="25" font-weight="bold" fill="#000" textLength="24.6" lengthAdjust="spacingAndGlyphs"  style="">d)</text>
<line x1="428.4" y1="545.4" x2="428.4" y2="754.5" stroke="#e6e6e6" stroke-width="1"/>
<line x1="470.9" y1="545.4" x2="470.9" y2="754.5" stroke="#e6e6e6" stroke-width="1"/>
<line x1="513.4" y1="545.4" x2="513.4" y2="754.5" stroke="#e6e6e6" stroke-width="1"/>
<line x1="555.9" y1="545.4" x2="555.9" y2="754.5" stroke="#e6e6e6" stroke-width="1"/>
<line x1="598.4" y1="545.4" x2="598.4" y2="754.5" stroke="#e6e6e6" stroke-width="1"/>
<line x1="640.9" y1="545.4" x2="640.9" y2="754.5" stroke="#e6e6e6" stroke-width="1"/>
<line x1="400.1" y1="708.1" x2="686" y2="708.1" stroke="#e6e6e6" stroke-width="1"/>
<line x1="400.1" y1="661.7" x2="686" y2="661.7" stroke="#e6e6e6" stroke-width="1"/>
<line x1="400.1" y1="615.3" x2="686" y2="615.3" stroke="#e6e6e6" stroke-width="1"/>
<line x1="400.1" y1="568.9" x2="686" y2="568.9" stroke="#e6e6e6" stroke-width="1"/>
<rect x="400.1" y="545.4" width="285.9" height="209.1" fill="none" stroke="#333" stroke-width="1.6"/>
<line x1="396" y1="754.5" x2="400.1" y2="754.5" stroke="#333" stroke-width="1.2"/>
<text x="392.5" y="757.9" font-family="Liberation Sans" font-size="10" font-weight="bold" fill="#1a1a1a" text-anchor="end"  style="">0</text>
<line x1="396" y1="708.1" x2="400.1" y2="708.1" stroke="#333" stroke-width="1.2"/>
<text x="392.5" y="711.5" font-family="Liberation Sans" font-size="10" font-weight="bold" fill="#1a1a1a" text-anchor="end"  style="">2</text>
<line x1="396" y1="661.7" x2="400.1" y2="661.7" stroke="#333" stroke-width="1.2"/>
<text x="392.5" y="665.1" font-family="Liberation Sans" font-size="10" font-weight="bold" fill="#1a1a1a" text-anchor="end"  style="">4</text>
<line x1="396" y1="615.3" x2="400.1" y2="615.3" stroke="#333" stroke-width="1.2"/>
<text x="392.5" y="618.7" font-family="Liberation Sans" font-size="10" font-weight="bold" fill="#1a1a1a" text-anchor="end"  style="">6</text>
<line x1="396" y1="568.9" x2="400.1" y2="568.9" stroke="#333" stroke-width="1.2"/>
<text x="392.5" y="572.3" font-family="Liberation Sans" font-size="10" font-weight="bold" fill="#1a1a1a" text-anchor="end"  style="">8</text>
<line x1="428.4" y1="754.5" x2="428.4" y2="758.5" stroke="#333" stroke-width="1.2"/>
<text x="428.4" y="770.5" font-family="Liberation Sans" font-size="10" font-weight="bold" fill="#1a1a1a" text-anchor="middle"  style="">20</text>
<line x1="470.9" y1="754.5" x2="470.9" y2="758.5" stroke="#333" stroke-width="1.2"/>
<text x="470.9" y="770.5" font-family="Liberation Sans" font-size="10" font-weight="bold" fill="#1a1a1a" text-anchor="middle"  style="">50</text>
<line x1="513.4" y1="754.5" x2="513.4" y2="758.5" stroke="#333" stroke-width="1.2"/>
<text x="513.4" y="770.5" font-family="Liberation Sans" font-size="10" font-weight="bold" fill="#1a1a1a" text-anchor="middle"  style="">80</text>
<line x1="555.9" y1="754.5" x2="555.9" y2="758.5" stroke="#333" stroke-width="1.2"/>
<text x="555.9" y="770.5" font-family="Liberation Sans" font-size="10" font-weight="bold" fill="#1a1a1a" text-anchor="middle"  style="">110</text>
<line x1="598.4" y1="754.5" x2="598.4" y2="758.5" stroke="#333" stroke-width="1.2"/>
<text x="598.4" y="770.5" font-family="Liberation Sans" font-size="10" font-weight="bold" fill="#1a1a1a" text-anchor="middle"  style="">140</text>
<line x1="640.9" y1="754.5" x2="640.9" y2="758.5" stroke="#333" stroke-width="1.2"/>
<text x="640.9" y="770.5" font-family="Liberation Sans" font-size="10" font-weight="bold" fill="#1a1a1a" text-anchor="middle"  style="">170</text>
<line x1="683.4" y1="754.5" x2="683.4" y2="758.5" stroke="#333" stroke-width="1.2"/>
<text x="683.4" y="770.5" font-family="Liberation Sans" font-size="10" font-weight="bold" fill="#1a1a1a" text-anchor="middle"  style="">200</text>
<text x="484" y="789.3" font-family="Liberation Sans" font-size="10" font-weight="bold" fill="#1a1a1a" textLength="118" lengthAdjust="spacingAndGlyphs"  style="">CO concentration (ppm)</text>
<text transform="translate(383,685.2) rotate(-90)" font-family="Liberation Sans" font-size="10" font-weight="bold" fill="#1a1a1a" textLength="70.7" lengthAdjust="spacingAndGlyphs">Sensitivity (%)</text>
<polyline points="400.1,754.5 428.4,726.7 470.9,696.5 513.4,661.7 555.9,631.5 598.4,607.6 640.9,589.3 683.4,568.9" fill="none" stroke="#2828e6" stroke-width="1.6" stroke-linejoin="round" stroke-linecap="round" />
<polyline points="400.1,754.5 428.4,748.7 470.9,741.7 513.4,731.8 555.9,723.2 598.4,719.9 640.9,711.8 683.4,708.1" fill="none" stroke="#e63232" stroke-width="1.6" stroke-linejoin="round" stroke-linecap="round" />
<rect x="397.2" y="751.6" width="5.8" height="5.8" fill="#1010f0"/>
<rect x="425.5" y="723.8" width="5.8" height="5.8" fill="#1010f0"/>
<rect x="468.0" y="693.6" width="5.8" height="5.8" fill="#1010f0"/>
<rect x="510.5" y="658.8" width="5.8" height="5.8" fill="#1010f0"/>
<rect x="553.0" y="628.6" width="5.8" height="5.8" fill="#1010f0"/>
<rect x="595.5" y="604.7" width="5.8" height="5.8" fill="#1010f0"/>
<rect x="638.0" y="586.4" width="5.8" height="5.8" fill="#1010f0"/>
<rect x="680.5" y="566.0" width="5.8" height="5.8" fill="#1010f0"/>
<circle cx="400.1" cy="754.5" r="3.3" fill="#f01010"/>
<circle cx="428.4" cy="748.7" r="3.3" fill="#f01010"/>
<circle cx="470.9" cy="741.7" r="3.3" fill="#f01010"/>
<circle cx="513.4" cy="731.8" r="3.3" fill="#f01010"/>
<circle cx="555.9" cy="723.2" r="3.3" fill="#f01010"/>
<circle cx="598.4" cy="719.9" r="3.3" fill="#f01010"/>
<circle cx="640.9" cy="711.8" r="3.3" fill="#f01010"/>
<circle cx="683.4" cy="708.1" r="3.3" fill="#f01010"/>
<rect x="406.6" y="548.7" width="66.2" height="28.3" fill="#fff" stroke="#888" stroke-width="1"/>
<line x1="409.5" y1="558" x2="433.6" y2="558" stroke="#2828e6" stroke-width="1.6"/>
<rect x="419.2" y="555.2" width="5.6" height="5.6" fill="#1010f0"/>
<line x1="409.5" y1="571" x2="433.6" y2="571" stroke="#e63232" stroke-width="1.6"/>
<circle cx="422" cy="571" r="3.2" fill="#f01010"/>
<text x="436" y="561.5" font-family="Liberation Sans" font-size="9.5" font-weight="bold" fill="#1a1a1a" textLength="34.3" lengthAdjust="spacingAndGlyphs"  style="">Pt-CNT</text>
<text x="436" y="574.5" font-family="Liberation Sans" font-size="9.5" font-weight="bold" fill="#1a1a1a"  style="">CNT</text>
</svg>
</body></html>
